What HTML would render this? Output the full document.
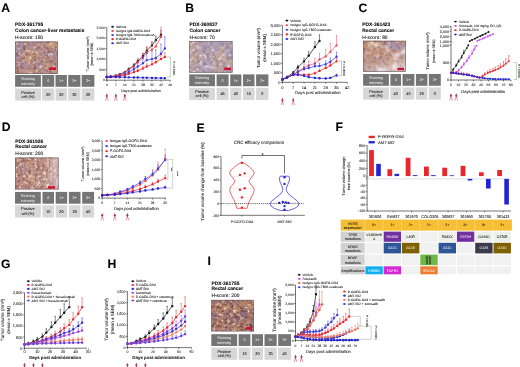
<!DOCTYPE html>
<html><head><meta charset="utf-8"><title>Figure</title>
<style>html,body{margin:0;padding:0;background:#fff;overflow:hidden;} svg{display:block;} .d{stroke:#1a1a1a;stroke-width:0.07px;}</style></head>
<body><svg text-rendering="geometricPrecision" width="520" height="367" viewBox="0 0 520 367" font-family="'Liberation Sans', Arial, sans-serif">
<defs><filter id="ph0_0" x="0" y="0" width="1" height="1" color-interpolation-filters="sRGB"><feTurbulence type="fractalNoise" baseFrequency="0.07" numOctaves="2" seed="3"/><feColorMatrix type="matrix" values="0 0 0 0 0  0 0 0 0 0  0 0 0 0 0  2.6 0 0 0 -1.1"/><feComposite in="SourceGraphic" operator="in"/></filter>
<filter id="ph0_1" x="0" y="0" width="1" height="1" color-interpolation-filters="sRGB"><feTurbulence type="fractalNoise" baseFrequency="0.08" numOctaves="2" seed="4"/><feColorMatrix type="matrix" values="0 0 0 0 0  0 0 0 0 0  0 0 0 0 0  2.6 0 0 0 -1.2"/><feComposite in="SourceGraphic" operator="in"/></filter>
<filter id="ph0_2" x="0" y="0" width="1" height="1" color-interpolation-filters="sRGB"><feTurbulence type="fractalNoise" baseFrequency="0.3" numOctaves="2" seed="8"/><feColorMatrix type="matrix" values="0 0 0 0 0  0 0 0 0 0  0 0 0 0 0  2.4 0 0 0 -1.05"/><feComposite in="SourceGraphic" operator="in"/></filter>
<filter id="ph0_3" x="0" y="0" width="1" height="1" color-interpolation-filters="sRGB"><feTurbulence type="fractalNoise" baseFrequency="0.28" numOctaves="2" seed="5"/><feColorMatrix type="matrix" values="0 0 0 0 0  0 0 0 0 0  0 0 0 0 0  2.8 0 0 0 -1.55"/><feComposite in="SourceGraphic" operator="in"/></filter>
<filter id="ph1_0" x="0" y="0" width="1" height="1" color-interpolation-filters="sRGB"><feTurbulence type="fractalNoise" baseFrequency="0.07" numOctaves="2" seed="11"/><feColorMatrix type="matrix" values="0 0 0 0 0  0 0 0 0 0  0 0 0 0 0  2.6 0 0 0 -1.05"/><feComposite in="SourceGraphic" operator="in"/></filter>
<filter id="ph1_1" x="0" y="0" width="1" height="1" color-interpolation-filters="sRGB"><feTurbulence type="fractalNoise" baseFrequency="0.08" numOctaves="2" seed="17"/><feColorMatrix type="matrix" values="0 0 0 0 0  0 0 0 0 0  0 0 0 0 0  2.6 0 0 0 -1.15"/><feComposite in="SourceGraphic" operator="in"/></filter>
<filter id="ph1_2" x="0" y="0" width="1" height="1" color-interpolation-filters="sRGB"><feTurbulence type="fractalNoise" baseFrequency="0.3" numOctaves="2" seed="13"/><feColorMatrix type="matrix" values="0 0 0 0 0  0 0 0 0 0  0 0 0 0 0  2.4 0 0 0 -1.1"/><feComposite in="SourceGraphic" operator="in"/></filter>
<filter id="ph1_3" x="0" y="0" width="1" height="1" color-interpolation-filters="sRGB"><feTurbulence type="fractalNoise" baseFrequency="0.26" numOctaves="2" seed="19"/><feColorMatrix type="matrix" values="0 0 0 0 0  0 0 0 0 0  0 0 0 0 0  2.8 0 0 0 -1.5"/><feComposite in="SourceGraphic" operator="in"/></filter>
<filter id="ph2_0" x="0" y="0" width="1" height="1" color-interpolation-filters="sRGB"><feTurbulence type="fractalNoise" baseFrequency="0.07" numOctaves="2" seed="23"/><feColorMatrix type="matrix" values="0 0 0 0 0  0 0 0 0 0  0 0 0 0 0  2.4 0 0 0 -1.15"/><feComposite in="SourceGraphic" operator="in"/></filter>
<filter id="ph2_1" x="0" y="0" width="1" height="1" color-interpolation-filters="sRGB"><feTurbulence type="fractalNoise" baseFrequency="0.08" numOctaves="2" seed="29"/><feColorMatrix type="matrix" values="0 0 0 0 0  0 0 0 0 0  0 0 0 0 0  2.6 0 0 0 -1.0"/><feComposite in="SourceGraphic" operator="in"/></filter>
<filter id="ph2_2" x="0" y="0" width="1" height="1" color-interpolation-filters="sRGB"><feTurbulence type="fractalNoise" baseFrequency="0.3" numOctaves="2" seed="27"/><feColorMatrix type="matrix" values="0 0 0 0 0  0 0 0 0 0  0 0 0 0 0  2.4 0 0 0 -1.15"/><feComposite in="SourceGraphic" operator="in"/></filter>
<filter id="ph2_3" x="0" y="0" width="1" height="1" color-interpolation-filters="sRGB"><feTurbulence type="fractalNoise" baseFrequency="0.12" numOctaves="2" seed="31"/><feColorMatrix type="matrix" values="0 0 0 0 0  0 0 0 0 0  0 0 0 0 0  2.8 0 0 0 -1.4"/><feComposite in="SourceGraphic" operator="in"/></filter>
<linearGradient id="pg2" x1="0.2" y1="0" x2="0.6" y2="1"><stop offset="0" stop-color="#fff" stop-opacity="0"/><stop offset="0.6" stop-color="#fff" stop-opacity="0.1"/><stop offset="1" stop-color="#eef0ff" stop-opacity="0.6"/></linearGradient>
<filter id="ph3_0" x="0" y="0" width="1" height="1" color-interpolation-filters="sRGB"><feTurbulence type="fractalNoise" baseFrequency="0.08" numOctaves="2" seed="37"/><feColorMatrix type="matrix" values="0 0 0 0 0  0 0 0 0 0  0 0 0 0 0  2.4 0 0 0 -1.15"/><feComposite in="SourceGraphic" operator="in"/></filter>
<filter id="ph3_1" x="0" y="0" width="1" height="1" color-interpolation-filters="sRGB"><feTurbulence type="fractalNoise" baseFrequency="0.08" numOctaves="2" seed="39"/><feColorMatrix type="matrix" values="0 0 0 0 0  0 0 0 0 0  0 0 0 0 0  2.4 0 0 0 -1.2"/><feComposite in="SourceGraphic" operator="in"/></filter>
<filter id="ph3_2" x="0" y="0" width="1" height="1" color-interpolation-filters="sRGB"><feTurbulence type="fractalNoise" baseFrequency="0.35" numOctaves="2" seed="41"/><feColorMatrix type="matrix" values="0 0 0 0 0  0 0 0 0 0  0 0 0 0 0  2.5 0 0 0 -1.05"/><feComposite in="SourceGraphic" operator="in"/></filter>
<filter id="ph3_3" x="0" y="0" width="1" height="1" color-interpolation-filters="sRGB"><feTurbulence type="fractalNoise" baseFrequency="0.32" numOctaves="2" seed="43"/><feColorMatrix type="matrix" values="0 0 0 0 0  0 0 0 0 0  0 0 0 0 0  2.8 0 0 0 -1.45"/><feComposite in="SourceGraphic" operator="in"/></filter>
<linearGradient id="pg3" x1="0" y1="0" x2="1" y2="0"><stop offset="0" stop-color="#fff" stop-opacity="0"/><stop offset="0.65" stop-color="#fff" stop-opacity="0.05"/><stop offset="1" stop-color="#f4eaf8" stop-opacity="0.5"/></linearGradient>
<filter id="ph4_0" x="0" y="0" width="1" height="1" color-interpolation-filters="sRGB"><feTurbulence type="fractalNoise" baseFrequency="0.08" numOctaves="2" seed="51"/><feColorMatrix type="matrix" values="0 0 0 0 0  0 0 0 0 0  0 0 0 0 0  2.5 0 0 0 -1.1"/><feComposite in="SourceGraphic" operator="in"/></filter>
<filter id="ph4_1" x="0" y="0" width="1" height="1" color-interpolation-filters="sRGB"><feTurbulence type="fractalNoise" baseFrequency="0.09" numOctaves="2" seed="53"/><feColorMatrix type="matrix" values="0 0 0 0 0  0 0 0 0 0  0 0 0 0 0  2.6 0 0 0 -1.15"/><feComposite in="SourceGraphic" operator="in"/></filter>
<filter id="ph4_2" x="0" y="0" width="1" height="1" color-interpolation-filters="sRGB"><feTurbulence type="fractalNoise" baseFrequency="0.32" numOctaves="2" seed="55"/><feColorMatrix type="matrix" values="0 0 0 0 0  0 0 0 0 0  0 0 0 0 0  2.5 0 0 0 -1.1"/><feComposite in="SourceGraphic" operator="in"/></filter>
<filter id="ph4_3" x="0" y="0" width="1" height="1" color-interpolation-filters="sRGB"><feTurbulence type="fractalNoise" baseFrequency="0.3" numOctaves="2" seed="57"/><feColorMatrix type="matrix" values="0 0 0 0 0  0 0 0 0 0  0 0 0 0 0  2.8 0 0 0 -1.5"/><feComposite in="SourceGraphic" operator="in"/></filter></defs>
<rect width="520" height="367" fill="#fff"/>
<text class="d" x="1.20" y="11.80" font-size="12.20" font-weight="bold">A</text>
<text class="d" x="15.10" y="26.30" font-size="4.90" font-weight="bold">PDX-361795</text>
<text class="d" x="15.10" y="31.50" font-size="4.90" font-weight="bold">Colon cancer-liver metastasis</text>
<text class="d" x="15.10" y="38.50" font-size="4.90">H-score: 150</text>
<g><rect x="15" y="41.6" width="43" height="32.4" fill="#b89088"/><rect x="15" y="41.6" width="43" height="32.4" fill="#9c8cb8" filter="url(#ph0_0)"/><rect x="15" y="41.6" width="43" height="32.4" fill="#d0a078" filter="url(#ph0_1)"/><rect x="15" y="41.6" width="43" height="32.4" fill="#8a5a58" filter="url(#ph0_2)"/><rect x="15" y="41.6" width="43" height="32.4" fill="#f2e4e2" filter="url(#ph0_3)"/><rect x="15.35" y="41.95" width="42.3" height="31.7" fill="none" stroke="#6a6068" stroke-width="0.6"/></g>
<rect x="48.80" y="67.40" width="7.40" height="2.60" fill="#cc1030"/>
<rect x="15.10" y="75.00" width="25.80" height="11.80" fill="#757575"/>
<rect x="15.10" y="88.40" width="25.80" height="12.20" fill="#d7d7d7"/>
<text x="28.00" y="79.90" font-size="3.90" text-anchor="middle" fill="#f4f4f4">Staining</text>
<text x="28.00" y="84.70" font-size="3.90" text-anchor="middle" fill="#f4f4f4">intensity</text>
<text class="d" x="28.00" y="93.50" font-size="3.90" text-anchor="middle" fill="#1a1a1a">Positive</text>
<text class="d" x="28.00" y="97.90" font-size="3.90" text-anchor="middle" fill="#1a1a1a">cell (%)</text>
<rect x="42.20" y="75.00" width="12.00" height="11.80" fill="#757575"/>
<rect x="42.20" y="88.40" width="12.00" height="12.20" fill="#d7d7d7"/>
<text x="48.20" y="82.15" font-size="3.80" text-anchor="middle" fill="#f4f4f4">0</text>
<text class="d" x="48.20" y="95.75" font-size="3.80" text-anchor="middle" fill="#1a1a1a">20</text>
<rect x="55.50" y="75.00" width="11.40" height="11.80" fill="#757575"/>
<rect x="55.50" y="88.40" width="11.40" height="12.20" fill="#d7d7d7"/>
<text x="61.20" y="82.15" font-size="3.80" text-anchor="middle" fill="#f4f4f4">1+</text>
<text class="d" x="61.20" y="95.75" font-size="3.80" text-anchor="middle" fill="#1a1a1a">30</text>
<rect x="68.20" y="75.00" width="12.20" height="11.80" fill="#757575"/>
<rect x="68.20" y="88.40" width="12.20" height="12.20" fill="#d7d7d7"/>
<text x="74.30" y="82.15" font-size="3.80" text-anchor="middle" fill="#f4f4f4">2+</text>
<text class="d" x="74.30" y="95.75" font-size="3.80" text-anchor="middle" fill="#1a1a1a">30</text>
<rect x="81.70" y="75.00" width="12.70" height="11.80" fill="#757575"/>
<rect x="81.70" y="88.40" width="12.70" height="12.20" fill="#d7d7d7"/>
<text x="88.05" y="82.15" font-size="3.80" text-anchor="middle" fill="#f4f4f4">3+</text>
<text class="d" x="88.05" y="95.75" font-size="3.80" text-anchor="middle" fill="#1a1a1a">20</text>
<line x1="106.80" y1="80.48" x2="106.80" y2="27.40" stroke="#000" stroke-width="0.55"/>
<line x1="106.52" y1="80.20" x2="170.40" y2="80.20" stroke="#000" stroke-width="0.55"/>
<line x1="105.30" y1="80.20" x2="106.80" y2="80.20" stroke="#000" stroke-width="0.45"/>
<text class="d" x="104.80" y="81.39" font-size="3.30" text-anchor="end" fill="#1a1a1a">0</text>
<line x1="105.30" y1="69.64" x2="106.80" y2="69.64" stroke="#000" stroke-width="0.45"/>
<text class="d" x="104.80" y="70.83" font-size="3.30" text-anchor="end" fill="#1a1a1a">500</text>
<line x1="105.30" y1="59.08" x2="106.80" y2="59.08" stroke="#000" stroke-width="0.45"/>
<text class="d" x="104.80" y="60.27" font-size="3.30" text-anchor="end" fill="#1a1a1a">1,000</text>
<line x1="105.30" y1="48.52" x2="106.80" y2="48.52" stroke="#000" stroke-width="0.45"/>
<text class="d" x="104.80" y="49.71" font-size="3.30" text-anchor="end" fill="#1a1a1a">1,500</text>
<line x1="105.30" y1="37.96" x2="106.80" y2="37.96" stroke="#000" stroke-width="0.45"/>
<text class="d" x="104.80" y="39.15" font-size="3.30" text-anchor="end" fill="#1a1a1a">2,000</text>
<line x1="105.30" y1="27.40" x2="106.80" y2="27.40" stroke="#000" stroke-width="0.45"/>
<text class="d" x="104.80" y="28.59" font-size="3.30" text-anchor="end" fill="#1a1a1a">2,500</text>
<line x1="106.80" y1="80.20" x2="106.80" y2="81.70" stroke="#000" stroke-width="0.45"/>
<text class="d" x="106.80" y="85.60" font-size="3.30" text-anchor="middle" fill="#1a1a1a">0</text>
<line x1="115.83" y1="80.20" x2="115.83" y2="81.70" stroke="#000" stroke-width="0.45"/>
<text class="d" x="115.83" y="85.60" font-size="3.30" text-anchor="middle" fill="#1a1a1a">7</text>
<line x1="124.86" y1="80.20" x2="124.86" y2="81.70" stroke="#000" stroke-width="0.45"/>
<text class="d" x="124.86" y="85.60" font-size="3.30" text-anchor="middle" fill="#1a1a1a">14</text>
<line x1="133.89" y1="80.20" x2="133.89" y2="81.70" stroke="#000" stroke-width="0.45"/>
<text class="d" x="133.89" y="85.60" font-size="3.30" text-anchor="middle" fill="#1a1a1a">21</text>
<line x1="142.92" y1="80.20" x2="142.92" y2="81.70" stroke="#000" stroke-width="0.45"/>
<text class="d" x="142.92" y="85.60" font-size="3.30" text-anchor="middle" fill="#1a1a1a">28</text>
<line x1="151.95" y1="80.20" x2="151.95" y2="81.70" stroke="#000" stroke-width="0.45"/>
<text class="d" x="151.95" y="85.60" font-size="3.30" text-anchor="middle" fill="#1a1a1a">35</text>
<line x1="160.98" y1="80.20" x2="160.98" y2="81.70" stroke="#000" stroke-width="0.45"/>
<text class="d" x="160.98" y="85.60" font-size="3.30" text-anchor="middle" fill="#1a1a1a">42</text>
<line x1="170.01" y1="80.20" x2="170.01" y2="81.70" stroke="#000" stroke-width="0.45"/>
<text class="d" x="170.01" y="85.60" font-size="3.30" text-anchor="middle" fill="#1a1a1a">49</text>
<path d="M110.67,76.61V76.25M109.92,76.25h1.5M115.83,75.76V75.32M115.08,75.32h1.5M119.70,74.29V73.70M118.95,73.70h1.5M124.86,72.17V71.37M124.11,71.37h1.5M128.73,69.22V68.12M127.98,68.12h1.5M133.89,65.42V63.94M133.14,63.94h1.5M137.76,61.19V59.29M137.01,59.29h1.5M142.92,55.91V53.48M142.17,53.48h1.5M146.79,50.63V47.68M146.04,47.68h1.5M151.95,45.35V41.87M151.20,41.87h1.5M155.82,40.07V36.06M155.07,36.06h1.5M160.98,34.79V30.25M160.23,30.25h1.5" stroke="#151515" stroke-width="0.5" fill="none"/>
<polyline points="106.80,77.03 110.67,76.61 115.83,75.76 119.70,74.29 124.86,72.17 128.73,69.22 133.89,65.42 137.76,61.19 142.92,55.91 146.79,50.63 151.95,45.35 155.82,40.07 160.98,34.79" fill="none" stroke="#151515" stroke-width="0.72"/>
<path d="M105.60,77.03a1.2,1.2 0 1,0 2.4,0a1.2,1.2 0 1,0 -2.4,0M109.47,76.61a1.2,1.2 0 1,0 2.4,0a1.2,1.2 0 1,0 -2.4,0M114.63,75.76a1.2,1.2 0 1,0 2.4,0a1.2,1.2 0 1,0 -2.4,0M118.50,74.29a1.2,1.2 0 1,0 2.4,0a1.2,1.2 0 1,0 -2.4,0M123.66,72.17a1.2,1.2 0 1,0 2.4,0a1.2,1.2 0 1,0 -2.4,0M127.53,69.22a1.2,1.2 0 1,0 2.4,0a1.2,1.2 0 1,0 -2.4,0M132.69,65.42a1.2,1.2 0 1,0 2.4,0a1.2,1.2 0 1,0 -2.4,0M136.56,61.19a1.2,1.2 0 1,0 2.4,0a1.2,1.2 0 1,0 -2.4,0M141.72,55.91a1.2,1.2 0 1,0 2.4,0a1.2,1.2 0 1,0 -2.4,0M145.59,50.63a1.2,1.2 0 1,0 2.4,0a1.2,1.2 0 1,0 -2.4,0M150.75,45.35a1.2,1.2 0 1,0 2.4,0a1.2,1.2 0 1,0 -2.4,0M154.62,40.07a1.2,1.2 0 1,0 2.4,0a1.2,1.2 0 1,0 -2.4,0M159.78,34.79a1.2,1.2 0 1,0 2.4,0a1.2,1.2 0 1,0 -2.4,0" fill="#151515"/>
<path d="M110.67,76.61V75.80M109.92,75.80h1.5M115.83,75.98V75.03M115.08,75.03h1.5M119.70,74.71V73.47M118.95,73.47h1.5M124.86,72.81V71.14M124.11,71.14h1.5M128.73,70.06V67.78M127.98,67.78h1.5M133.89,66.47V63.38M133.14,63.38h1.5M137.76,62.25V58.21M137.01,58.21h1.5M142.92,58.02V53.03M142.17,53.03h1.5M146.79,52.74V46.57M146.04,46.57h1.5M151.95,49.58V42.69M151.20,42.69h1.5M155.82,46.41V38.80M155.07,38.80h1.5M160.98,36.90V27.16M160.23,27.16h1.5" stroke="#ee4a55" stroke-width="0.5" fill="none"/>
<polyline points="106.80,77.03 110.67,76.61 115.83,75.98 119.70,74.71 124.86,72.81 128.73,70.06 133.89,66.47 137.76,62.25 142.92,58.02 146.79,52.74 151.95,49.58 155.82,46.41 160.98,36.90" fill="none" stroke="#ee4a55" stroke-width="0.72"/>
<path d="M105.60,77.03a1.2,1.2 0 1,0 2.4,0a1.2,1.2 0 1,0 -2.4,0M109.47,76.61a1.2,1.2 0 1,0 2.4,0a1.2,1.2 0 1,0 -2.4,0M114.63,75.98a1.2,1.2 0 1,0 2.4,0a1.2,1.2 0 1,0 -2.4,0M118.50,74.71a1.2,1.2 0 1,0 2.4,0a1.2,1.2 0 1,0 -2.4,0M123.66,72.81a1.2,1.2 0 1,0 2.4,0a1.2,1.2 0 1,0 -2.4,0M127.53,70.06a1.2,1.2 0 1,0 2.4,0a1.2,1.2 0 1,0 -2.4,0M132.69,66.47a1.2,1.2 0 1,0 2.4,0a1.2,1.2 0 1,0 -2.4,0M136.56,62.25a1.2,1.2 0 1,0 2.4,0a1.2,1.2 0 1,0 -2.4,0M141.72,58.02a1.2,1.2 0 1,0 2.4,0a1.2,1.2 0 1,0 -2.4,0M145.59,52.74a1.2,1.2 0 1,0 2.4,0a1.2,1.2 0 1,0 -2.4,0M150.75,49.58a1.2,1.2 0 1,0 2.4,0a1.2,1.2 0 1,0 -2.4,0M154.62,46.41a1.2,1.2 0 1,0 2.4,0a1.2,1.2 0 1,0 -2.4,0M159.78,36.90a1.2,1.2 0 1,0 2.4,0a1.2,1.2 0 1,0 -2.4,0" fill="#ee4a55"/>
<path d="M110.67,76.82V75.55M109.92,75.55h1.5M115.83,76.40V74.97M115.08,74.97h1.5M119.70,75.55V73.81M118.95,73.81h1.5M124.86,74.29V72.07M124.11,72.07h1.5M128.73,72.17V69.16M127.98,69.16h1.5M133.89,69.22V65.10M133.14,65.10h1.5M137.76,66.47V61.32M137.01,61.32h1.5M142.92,63.30V56.97M142.17,56.97h1.5M146.79,60.14V52.61M146.04,52.61h1.5M151.95,59.08V51.16M151.20,51.16h1.5M155.82,58.02V49.71M155.07,49.71h1.5M160.98,53.80V43.90M160.23,43.90h1.5M164.85,48.52V36.64M164.10,36.64h1.5" stroke="#3b3be6" stroke-width="0.5" fill="none"/>
<polyline points="106.80,77.03 110.67,76.82 115.83,76.40 119.70,75.55 124.86,74.29 128.73,72.17 133.89,69.22 137.76,66.47 142.92,63.30 146.79,60.14 151.95,59.08 155.82,58.02 160.98,53.80 164.85,48.52" fill="none" stroke="#3b3be6" stroke-width="0.72"/>
<path d="M105.60,77.03a1.2,1.2 0 1,0 2.4,0a1.2,1.2 0 1,0 -2.4,0M109.47,76.82a1.2,1.2 0 1,0 2.4,0a1.2,1.2 0 1,0 -2.4,0M114.63,76.40a1.2,1.2 0 1,0 2.4,0a1.2,1.2 0 1,0 -2.4,0M118.50,75.55a1.2,1.2 0 1,0 2.4,0a1.2,1.2 0 1,0 -2.4,0M123.66,74.29a1.2,1.2 0 1,0 2.4,0a1.2,1.2 0 1,0 -2.4,0M127.53,72.17a1.2,1.2 0 1,0 2.4,0a1.2,1.2 0 1,0 -2.4,0M132.69,69.22a1.2,1.2 0 1,0 2.4,0a1.2,1.2 0 1,0 -2.4,0M136.56,66.47a1.2,1.2 0 1,0 2.4,0a1.2,1.2 0 1,0 -2.4,0M141.72,63.30a1.2,1.2 0 1,0 2.4,0a1.2,1.2 0 1,0 -2.4,0M145.59,60.14a1.2,1.2 0 1,0 2.4,0a1.2,1.2 0 1,0 -2.4,0M150.75,59.08a1.2,1.2 0 1,0 2.4,0a1.2,1.2 0 1,0 -2.4,0M154.62,58.02a1.2,1.2 0 1,0 2.4,0a1.2,1.2 0 1,0 -2.4,0M159.78,53.80a1.2,1.2 0 1,0 2.4,0a1.2,1.2 0 1,0 -2.4,0M163.65,48.52a1.2,1.2 0 1,0 2.4,0a1.2,1.2 0 1,0 -2.4,0" fill="#3b3be6"/>
<path d="M110.67,76.82V76.19M109.92,76.19h1.5M115.83,76.50V75.81M115.08,75.81h1.5M119.70,75.98V75.18M118.95,75.18h1.5M124.86,75.13V74.18M124.11,74.18h1.5M128.73,73.86V72.68M127.98,72.68h1.5M133.89,72.17V70.67M133.14,70.67h1.5M137.76,70.70V68.91M137.01,68.91h1.5M142.92,68.58V66.41M142.17,66.41h1.5M146.79,66.47V63.90M146.04,63.90h1.5M151.95,64.36V61.39M151.20,61.39h1.5M155.82,62.25V58.88M155.07,58.88h1.5M160.98,59.08V55.12M160.23,55.12h1.5M164.85,56.97V52.61M164.10,52.61h1.5" stroke="#e8262c" stroke-width="0.5" fill="none"/>
<polyline points="106.80,77.03 110.67,76.82 115.83,76.50 119.70,75.98 124.86,75.13 128.73,73.86 133.89,72.17 137.76,70.70 142.92,68.58 146.79,66.47 151.95,64.36 155.82,62.25 160.98,59.08 164.85,56.97" fill="none" stroke="#e8262c" stroke-width="0.72"/>
<path d="M105.60,77.03a1.2,1.2 0 1,0 2.4,0a1.2,1.2 0 1,0 -2.4,0M109.47,76.82a1.2,1.2 0 1,0 2.4,0a1.2,1.2 0 1,0 -2.4,0M114.63,76.50a1.2,1.2 0 1,0 2.4,0a1.2,1.2 0 1,0 -2.4,0M118.50,75.98a1.2,1.2 0 1,0 2.4,0a1.2,1.2 0 1,0 -2.4,0M123.66,75.13a1.2,1.2 0 1,0 2.4,0a1.2,1.2 0 1,0 -2.4,0M127.53,73.86a1.2,1.2 0 1,0 2.4,0a1.2,1.2 0 1,0 -2.4,0M132.69,72.17a1.2,1.2 0 1,0 2.4,0a1.2,1.2 0 1,0 -2.4,0M136.56,70.70a1.2,1.2 0 1,0 2.4,0a1.2,1.2 0 1,0 -2.4,0M141.72,68.58a1.2,1.2 0 1,0 2.4,0a1.2,1.2 0 1,0 -2.4,0M145.59,66.47a1.2,1.2 0 1,0 2.4,0a1.2,1.2 0 1,0 -2.4,0M150.75,64.36a1.2,1.2 0 1,0 2.4,0a1.2,1.2 0 1,0 -2.4,0M154.62,62.25a1.2,1.2 0 1,0 2.4,0a1.2,1.2 0 1,0 -2.4,0M159.78,59.08a1.2,1.2 0 1,0 2.4,0a1.2,1.2 0 1,0 -2.4,0M163.65,56.97a1.2,1.2 0 1,0 2.4,0a1.2,1.2 0 1,0 -2.4,0" fill="#e8262c"/>
<path d="M110.67,77.03V76.83M109.92,76.83h1.5M115.83,77.03V76.83M115.08,76.83h1.5M119.70,77.14V76.95M118.95,76.95h1.5M124.86,77.24V77.06M124.11,77.06h1.5M128.73,77.35V77.17M127.98,77.17h1.5M133.89,77.45V77.28M133.14,77.28h1.5M137.76,77.56V77.39M137.01,77.39h1.5M142.92,77.67V77.51M142.17,77.51h1.5M146.79,77.77V77.62M146.04,77.62h1.5M151.95,77.88V77.73M151.20,77.73h1.5M155.82,77.98V77.84M155.07,77.84h1.5M160.98,78.09V77.96M160.23,77.96h1.5M164.85,78.19V78.07M164.10,78.07h1.5" stroke="#2424d6" stroke-width="0.5" fill="none"/>
<polyline points="106.80,77.03 110.67,77.03 115.83,77.03 119.70,77.14 124.86,77.24 128.73,77.35 133.89,77.45 137.76,77.56 142.92,77.67 146.79,77.77 151.95,77.88 155.82,77.98 160.98,78.09 164.85,78.19" fill="none" stroke="#2424d6" stroke-width="0.72"/>
<path d="M105.60,77.03a1.2,1.2 0 1,0 2.4,0a1.2,1.2 0 1,0 -2.4,0M109.47,77.03a1.2,1.2 0 1,0 2.4,0a1.2,1.2 0 1,0 -2.4,0M114.63,77.03a1.2,1.2 0 1,0 2.4,0a1.2,1.2 0 1,0 -2.4,0M118.50,77.14a1.2,1.2 0 1,0 2.4,0a1.2,1.2 0 1,0 -2.4,0M123.66,77.24a1.2,1.2 0 1,0 2.4,0a1.2,1.2 0 1,0 -2.4,0M127.53,77.35a1.2,1.2 0 1,0 2.4,0a1.2,1.2 0 1,0 -2.4,0M132.69,77.45a1.2,1.2 0 1,0 2.4,0a1.2,1.2 0 1,0 -2.4,0M136.56,77.56a1.2,1.2 0 1,0 2.4,0a1.2,1.2 0 1,0 -2.4,0M141.72,77.67a1.2,1.2 0 1,0 2.4,0a1.2,1.2 0 1,0 -2.4,0M145.59,77.77a1.2,1.2 0 1,0 2.4,0a1.2,1.2 0 1,0 -2.4,0M150.75,77.88a1.2,1.2 0 1,0 2.4,0a1.2,1.2 0 1,0 -2.4,0M154.62,77.98a1.2,1.2 0 1,0 2.4,0a1.2,1.2 0 1,0 -2.4,0M159.78,78.09a1.2,1.2 0 1,0 2.4,0a1.2,1.2 0 1,0 -2.4,0M163.65,78.19a1.2,1.2 0 1,0 2.4,0a1.2,1.2 0 1,0 -2.4,0" fill="#2424d6"/>
<text class="d" x="141.10" y="91.90" font-size="3.65" text-anchor="middle" fill="#1a1a1a">Days post administration</text>
<text class="d" x="88.54" y="54.00" font-size="3.75" text-anchor="middle" fill="#1a1a1a" transform="rotate(-90 88.54 54.00)">Tumor volume (mm³)</text>
<text class="d" x="92.99" y="54.00" font-size="3.60" text-anchor="middle" fill="#1a1a1a" transform="rotate(-90 92.99 54.00)">(mean ± SEM)</text>
<line x1="111.00" y1="26.80" x2="114.20" y2="26.80" stroke="#151515" stroke-width="0.6"/>
<circle cx="112.60" cy="26.80" r="1.05" fill="#151515"/>
<text class="d" x="115.90" y="27.95" font-size="3.20" fill="#1a1a1a">Vehicle</text>
<line x1="111.00" y1="30.92" x2="114.20" y2="30.92" stroke="#ee4a55" stroke-width="0.6"/>
<circle cx="112.60" cy="30.92" r="1.05" fill="#ee4a55"/>
<text class="d" x="115.90" y="32.07" font-size="3.20" fill="#1a1a1a">Isotype IgG-GGFG-DXd</text>
<line x1="111.00" y1="35.04" x2="114.20" y2="35.04" stroke="#3b3be6" stroke-width="0.6"/>
<circle cx="112.60" cy="35.04" r="1.05" fill="#3b3be6"/>
<text class="d" x="115.90" y="36.19" font-size="3.20" fill="#1a1a1a">Isotype IgG-T800-exatecan</text>
<line x1="111.00" y1="39.16" x2="114.20" y2="39.16" stroke="#e8262c" stroke-width="0.6"/>
<circle cx="112.60" cy="39.16" r="1.05" fill="#e8262c"/>
<text class="d" x="115.90" y="40.31" font-size="3.20" fill="#1a1a1a">P-GGFG-DXd</text>
<line x1="111.00" y1="43.28" x2="114.20" y2="43.28" stroke="#2424d6" stroke-width="0.6"/>
<circle cx="112.60" cy="43.28" r="1.05" fill="#2424d6"/>
<text class="d" x="115.90" y="44.43" font-size="3.20" fill="#1a1a1a">AMT-562</text>
<path d="M106.80,93.40 L105.50,96.40 L108.10,96.40 Z" stroke="none" stroke-width="0.5" fill="#a8304a"/>
<line x1="106.80" y1="96.20" x2="106.80" y2="98.00" stroke="#a8304a" stroke-width="1.0"/>
<path d="M106.30,97.80 L105.50,100.80 M107.30,97.80 L108.10,100.80" stroke="#e87a90" stroke-width="0.8" fill="none"/>
<path d="M115.83,93.40 L114.53,96.40 L117.13,96.40 Z" stroke="none" stroke-width="0.5" fill="#a8304a"/>
<line x1="115.83" y1="96.20" x2="115.83" y2="98.00" stroke="#a8304a" stroke-width="1.0"/>
<path d="M115.33,97.80 L114.53,100.80 M116.33,97.80 L117.13,100.80" stroke="#e87a90" stroke-width="0.8" fill="none"/>
<path d="M124.86,93.40 L123.56,96.40 L126.16,96.40 Z" stroke="none" stroke-width="0.5" fill="#a8304a"/>
<line x1="124.86" y1="96.20" x2="124.86" y2="98.00" stroke="#a8304a" stroke-width="1.0"/>
<path d="M124.36,97.80 L123.56,100.80 M125.36,97.80 L126.16,100.80" stroke="#e87a90" stroke-width="0.8" fill="none"/>
<polyline points="166.30,57.00 170.40,57.00 170.40,77.00 166.30,77.00" fill="none" stroke="#7a9a7a" stroke-width="0.45"/>
<text class="d" x="172.81" y="68.50" font-size="3.00" text-anchor="middle" fill="#1a1a1a" transform="rotate(90 172.81 68.50)">P &lt; 0.0001</text>
<text class="d" x="185.20" y="11.80" font-size="12.20" font-weight="bold">B</text>
<text class="d" x="189.40" y="26.30" font-size="4.90" font-weight="bold">PDX-360837</text>
<text class="d" x="189.40" y="31.50" font-size="4.90" font-weight="bold">Colon cancer</text>
<text class="d" x="189.40" y="38.50" font-size="4.90">H-score: 70</text>
<g><rect x="189.2" y="41.2" width="43.3" height="31.4" fill="#b8a4b2"/><rect x="189.2" y="41.2" width="43.3" height="31.4" fill="#a496bc" filter="url(#ph1_0)"/><rect x="189.2" y="41.2" width="43.3" height="31.4" fill="#ccac8c" filter="url(#ph1_1)"/><rect x="189.2" y="41.2" width="43.3" height="31.4" fill="#8c7888" filter="url(#ph1_2)"/><rect x="189.2" y="41.2" width="43.3" height="31.4" fill="#f4eef2" filter="url(#ph1_3)"/><rect x="189.54999999999998" y="41.550000000000004" width="42.599999999999994" height="30.7" fill="none" stroke="#6a6068" stroke-width="0.6"/></g>
<rect x="224.20" y="67.60" width="6.80" height="2.50" fill="#cc1030"/>
<rect x="189.20" y="74.40" width="25.80" height="11.80" fill="#757575"/>
<rect x="189.20" y="87.80" width="25.80" height="12.20" fill="#d7d7d7"/>
<text x="202.10" y="79.30" font-size="3.90" text-anchor="middle" fill="#f4f4f4">Staining</text>
<text x="202.10" y="84.10" font-size="3.90" text-anchor="middle" fill="#f4f4f4">intensity</text>
<text class="d" x="202.10" y="92.90" font-size="3.90" text-anchor="middle" fill="#1a1a1a">Positive</text>
<text class="d" x="202.10" y="97.30" font-size="3.90" text-anchor="middle" fill="#1a1a1a">cell (%)</text>
<rect x="216.60" y="74.40" width="12.00" height="11.80" fill="#757575"/>
<rect x="216.60" y="87.80" width="12.00" height="12.20" fill="#d7d7d7"/>
<text x="222.60" y="81.55" font-size="3.80" text-anchor="middle" fill="#f4f4f4">0</text>
<text class="d" x="222.60" y="95.15" font-size="3.80" text-anchor="middle" fill="#1a1a1a">45</text>
<rect x="230.20" y="74.40" width="11.20" height="11.80" fill="#757575"/>
<rect x="230.20" y="87.80" width="11.20" height="12.20" fill="#d7d7d7"/>
<text x="235.80" y="81.55" font-size="3.80" text-anchor="middle" fill="#f4f4f4">1+</text>
<text class="d" x="235.80" y="95.15" font-size="3.80" text-anchor="middle" fill="#1a1a1a">40</text>
<rect x="243.00" y="74.40" width="11.50" height="11.80" fill="#757575"/>
<rect x="243.00" y="87.80" width="11.50" height="12.20" fill="#d7d7d7"/>
<text x="248.75" y="81.55" font-size="3.80" text-anchor="middle" fill="#f4f4f4">2+</text>
<text class="d" x="248.75" y="95.15" font-size="3.80" text-anchor="middle" fill="#1a1a1a">15</text>
<rect x="256.10" y="74.40" width="12.30" height="11.80" fill="#757575"/>
<rect x="256.10" y="87.80" width="12.30" height="12.20" fill="#d7d7d7"/>
<text x="262.25" y="81.55" font-size="3.80" text-anchor="middle" fill="#f4f4f4">3+</text>
<text class="d" x="262.25" y="95.15" font-size="3.80" text-anchor="middle" fill="#1a1a1a">0</text>
<line x1="282.40" y1="82.58" x2="282.40" y2="25.21" stroke="#000" stroke-width="0.55"/>
<line x1="282.12" y1="82.30" x2="347.40" y2="82.30" stroke="#000" stroke-width="0.55"/>
<line x1="280.90" y1="82.30" x2="282.40" y2="82.30" stroke="#000" stroke-width="0.45"/>
<text class="d" x="280.40" y="83.74" font-size="4.00" text-anchor="end" fill="#1a1a1a">0</text>
<line x1="280.90" y1="72.78" x2="282.40" y2="72.78" stroke="#000" stroke-width="0.45"/>
<text class="d" x="280.40" y="74.22" font-size="4.00" text-anchor="end" fill="#1a1a1a">500</text>
<line x1="280.90" y1="63.27" x2="282.40" y2="63.27" stroke="#000" stroke-width="0.45"/>
<text class="d" x="280.40" y="64.71" font-size="4.00" text-anchor="end" fill="#1a1a1a">1,000</text>
<line x1="280.90" y1="53.75" x2="282.40" y2="53.75" stroke="#000" stroke-width="0.45"/>
<text class="d" x="280.40" y="55.19" font-size="4.00" text-anchor="end" fill="#1a1a1a">1,500</text>
<line x1="280.90" y1="44.24" x2="282.40" y2="44.24" stroke="#000" stroke-width="0.45"/>
<text class="d" x="280.40" y="45.68" font-size="4.00" text-anchor="end" fill="#1a1a1a">2,000</text>
<line x1="280.90" y1="34.73" x2="282.40" y2="34.73" stroke="#000" stroke-width="0.45"/>
<text class="d" x="280.40" y="36.16" font-size="4.00" text-anchor="end" fill="#1a1a1a">2,500</text>
<line x1="280.90" y1="25.21" x2="282.40" y2="25.21" stroke="#000" stroke-width="0.45"/>
<text class="d" x="280.40" y="26.65" font-size="4.00" text-anchor="end" fill="#1a1a1a">3,000</text>
<line x1="282.40" y1="82.30" x2="282.40" y2="83.80" stroke="#000" stroke-width="0.45"/>
<text class="d" x="282.40" y="89.20" font-size="4.00" text-anchor="middle" fill="#1a1a1a">0</text>
<line x1="293.22" y1="82.30" x2="293.22" y2="83.80" stroke="#000" stroke-width="0.45"/>
<text class="d" x="293.22" y="89.20" font-size="4.00" text-anchor="middle" fill="#1a1a1a">7</text>
<line x1="304.04" y1="82.30" x2="304.04" y2="83.80" stroke="#000" stroke-width="0.45"/>
<text class="d" x="304.04" y="89.20" font-size="4.00" text-anchor="middle" fill="#1a1a1a">14</text>
<line x1="314.87" y1="82.30" x2="314.87" y2="83.80" stroke="#000" stroke-width="0.45"/>
<text class="d" x="314.87" y="89.20" font-size="4.00" text-anchor="middle" fill="#1a1a1a">21</text>
<line x1="325.69" y1="82.30" x2="325.69" y2="83.80" stroke="#000" stroke-width="0.45"/>
<text class="d" x="325.69" y="89.20" font-size="4.00" text-anchor="middle" fill="#1a1a1a">28</text>
<line x1="336.51" y1="82.30" x2="336.51" y2="83.80" stroke="#000" stroke-width="0.45"/>
<text class="d" x="336.51" y="89.20" font-size="4.00" text-anchor="middle" fill="#1a1a1a">35</text>
<line x1="347.33" y1="82.30" x2="347.33" y2="83.80" stroke="#000" stroke-width="0.45"/>
<text class="d" x="347.33" y="89.20" font-size="4.00" text-anchor="middle" fill="#1a1a1a">42</text>
<path d="M287.04,76.97V76.17M286.29,76.17h1.5M293.22,72.78V71.36M292.47,71.36h1.5M297.86,67.46V65.23M297.11,65.23h1.5M304.04,61.37V58.23M303.29,58.23h1.5M308.68,55.66V51.66M307.93,51.66h1.5M314.87,47.09V41.81M314.12,41.81h1.5M319.50,41.00V34.81M318.75,34.81h1.5" stroke="#151515" stroke-width="0.5" fill="none"/>
<polyline points="282.40,79.45 287.04,76.97 293.22,72.78 297.86,67.46 304.04,61.37 308.68,55.66 314.87,47.09 319.50,41.00" fill="none" stroke="#151515" stroke-width="0.72"/>
<path d="M281.20,79.45a1.2,1.2 0 1,0 2.4,0a1.2,1.2 0 1,0 -2.4,0M285.84,76.97a1.2,1.2 0 1,0 2.4,0a1.2,1.2 0 1,0 -2.4,0M292.02,72.78a1.2,1.2 0 1,0 2.4,0a1.2,1.2 0 1,0 -2.4,0M296.66,67.46a1.2,1.2 0 1,0 2.4,0a1.2,1.2 0 1,0 -2.4,0M302.84,61.37a1.2,1.2 0 1,0 2.4,0a1.2,1.2 0 1,0 -2.4,0M307.48,55.66a1.2,1.2 0 1,0 2.4,0a1.2,1.2 0 1,0 -2.4,0M313.67,47.09a1.2,1.2 0 1,0 2.4,0a1.2,1.2 0 1,0 -2.4,0M318.30,41.00a1.2,1.2 0 1,0 2.4,0a1.2,1.2 0 1,0 -2.4,0" fill="#151515"/>
<path d="M287.04,77.54V76.23M286.29,76.23h1.5M293.22,74.69V72.59M292.47,72.59h1.5M297.86,71.45V68.47M297.11,68.47h1.5M304.04,67.84V63.86M303.29,63.86h1.5M308.68,65.55V60.95M307.93,60.95h1.5M314.87,63.46V58.28M314.12,58.28h1.5M319.50,59.46V53.18M318.75,53.18h1.5M325.69,56.42V49.30M324.94,49.30h1.5M330.33,51.85V43.48M329.58,43.48h1.5M336.51,45.38V35.23M335.76,35.23h1.5" stroke="#ee4a55" stroke-width="0.5" fill="none"/>
<polyline points="282.40,79.45 287.04,77.54 293.22,74.69 297.86,71.45 304.04,67.84 308.68,65.55 314.87,63.46 319.50,59.46 325.69,56.42 330.33,51.85 336.51,45.38" fill="none" stroke="#ee4a55" stroke-width="0.72"/>
<path d="M281.20,79.45a1.2,1.2 0 1,0 2.4,0a1.2,1.2 0 1,0 -2.4,0M285.84,77.54a1.2,1.2 0 1,0 2.4,0a1.2,1.2 0 1,0 -2.4,0M292.02,74.69a1.2,1.2 0 1,0 2.4,0a1.2,1.2 0 1,0 -2.4,0M296.66,71.45a1.2,1.2 0 1,0 2.4,0a1.2,1.2 0 1,0 -2.4,0M302.84,67.84a1.2,1.2 0 1,0 2.4,0a1.2,1.2 0 1,0 -2.4,0M307.48,65.55a1.2,1.2 0 1,0 2.4,0a1.2,1.2 0 1,0 -2.4,0M313.67,63.46a1.2,1.2 0 1,0 2.4,0a1.2,1.2 0 1,0 -2.4,0M318.30,59.46a1.2,1.2 0 1,0 2.4,0a1.2,1.2 0 1,0 -2.4,0M324.49,56.42a1.2,1.2 0 1,0 2.4,0a1.2,1.2 0 1,0 -2.4,0M329.13,51.85a1.2,1.2 0 1,0 2.4,0a1.2,1.2 0 1,0 -2.4,0M335.31,45.38a1.2,1.2 0 1,0 2.4,0a1.2,1.2 0 1,0 -2.4,0" fill="#ee4a55"/>
<path d="M287.04,77.54V76.65M286.29,76.65h1.5M293.22,74.69V73.26M292.47,73.26h1.5M297.86,71.83V69.87M297.11,69.87h1.5M304.04,69.17V66.71M303.29,66.71h1.5M308.68,68.03V65.35M307.93,65.35h1.5M314.87,66.31V63.32M314.12,63.32h1.5M319.50,65.93V62.87M318.75,62.87h1.5M325.69,64.22V60.83M324.94,60.83h1.5M330.33,61.75V57.89M329.58,57.89h1.5M336.51,56.80V52.02M335.76,52.02h1.5" stroke="#3b3be6" stroke-width="0.5" fill="none"/>
<polyline points="282.40,79.45 287.04,77.54 293.22,74.69 297.86,71.83 304.04,69.17 308.68,68.03 314.87,66.31 319.50,65.93 325.69,64.22 330.33,61.75 336.51,56.80" fill="none" stroke="#3b3be6" stroke-width="0.72"/>
<path d="M281.20,79.45a1.2,1.2 0 1,0 2.4,0a1.2,1.2 0 1,0 -2.4,0M285.84,77.54a1.2,1.2 0 1,0 2.4,0a1.2,1.2 0 1,0 -2.4,0M292.02,74.69a1.2,1.2 0 1,0 2.4,0a1.2,1.2 0 1,0 -2.4,0M296.66,71.83a1.2,1.2 0 1,0 2.4,0a1.2,1.2 0 1,0 -2.4,0M302.84,69.17a1.2,1.2 0 1,0 2.4,0a1.2,1.2 0 1,0 -2.4,0M307.48,68.03a1.2,1.2 0 1,0 2.4,0a1.2,1.2 0 1,0 -2.4,0M313.67,66.31a1.2,1.2 0 1,0 2.4,0a1.2,1.2 0 1,0 -2.4,0M318.30,65.93a1.2,1.2 0 1,0 2.4,0a1.2,1.2 0 1,0 -2.4,0M324.49,64.22a1.2,1.2 0 1,0 2.4,0a1.2,1.2 0 1,0 -2.4,0M329.13,61.75a1.2,1.2 0 1,0 2.4,0a1.2,1.2 0 1,0 -2.4,0M335.31,56.80a1.2,1.2 0 1,0 2.4,0a1.2,1.2 0 1,0 -2.4,0" fill="#3b3be6"/>
<path d="M287.04,77.54V76.83M286.29,76.83h1.5M293.22,74.69V73.55M292.47,73.55h1.5M297.86,74.69V73.55M297.11,73.55h1.5M304.04,74.88V73.77M303.29,73.77h1.5M308.68,74.88V73.77M307.93,73.77h1.5M314.87,73.36V72.01M314.12,72.01h1.5M319.50,70.88V69.17M318.75,69.17h1.5M325.69,68.03V65.89M324.94,65.89h1.5M330.33,65.55V63.04M329.58,63.04h1.5M336.51,61.37V58.23M335.76,58.23h1.5" stroke="#e8262c" stroke-width="0.5" fill="none"/>
<polyline points="282.40,79.45 287.04,77.54 293.22,74.69 297.86,74.69 304.04,74.88 308.68,74.88 314.87,73.36 319.50,70.88 325.69,68.03 330.33,65.55 336.51,61.37" fill="none" stroke="#e8262c" stroke-width="0.72"/>
<path d="M281.20,79.45a1.2,1.2 0 1,0 2.4,0a1.2,1.2 0 1,0 -2.4,0M285.84,77.54a1.2,1.2 0 1,0 2.4,0a1.2,1.2 0 1,0 -2.4,0M292.02,74.69a1.2,1.2 0 1,0 2.4,0a1.2,1.2 0 1,0 -2.4,0M296.66,74.69a1.2,1.2 0 1,0 2.4,0a1.2,1.2 0 1,0 -2.4,0M302.84,74.88a1.2,1.2 0 1,0 2.4,0a1.2,1.2 0 1,0 -2.4,0M307.48,74.88a1.2,1.2 0 1,0 2.4,0a1.2,1.2 0 1,0 -2.4,0M313.67,73.36a1.2,1.2 0 1,0 2.4,0a1.2,1.2 0 1,0 -2.4,0M318.30,70.88a1.2,1.2 0 1,0 2.4,0a1.2,1.2 0 1,0 -2.4,0M324.49,68.03a1.2,1.2 0 1,0 2.4,0a1.2,1.2 0 1,0 -2.4,0M329.13,65.55a1.2,1.2 0 1,0 2.4,0a1.2,1.2 0 1,0 -2.4,0M335.31,61.37a1.2,1.2 0 1,0 2.4,0a1.2,1.2 0 1,0 -2.4,0" fill="#e8262c"/>
<path d="M287.04,77.54V76.83M286.29,76.83h1.5M293.22,74.69V73.55M292.47,73.55h1.5M297.86,74.69V73.55M297.11,73.55h1.5M304.04,75.83V74.86M303.29,74.86h1.5M308.68,77.16V76.39M307.93,76.39h1.5M314.87,77.92V77.27M314.12,77.27h1.5M319.50,78.30V77.70M318.75,77.70h1.5M325.69,78.49V77.92M324.94,77.92h1.5M330.33,77.92V77.27M329.58,77.27h1.5M336.51,75.45V74.42M335.76,74.42h1.5" stroke="#2424d6" stroke-width="0.5" fill="none"/>
<polyline points="282.40,79.45 287.04,77.54 293.22,74.69 297.86,74.69 304.04,75.83 308.68,77.16 314.87,77.92 319.50,78.30 325.69,78.49 330.33,77.92 336.51,75.45" fill="none" stroke="#2424d6" stroke-width="0.72"/>
<path d="M281.20,79.45a1.2,1.2 0 1,0 2.4,0a1.2,1.2 0 1,0 -2.4,0M285.84,77.54a1.2,1.2 0 1,0 2.4,0a1.2,1.2 0 1,0 -2.4,0M292.02,74.69a1.2,1.2 0 1,0 2.4,0a1.2,1.2 0 1,0 -2.4,0M296.66,74.69a1.2,1.2 0 1,0 2.4,0a1.2,1.2 0 1,0 -2.4,0M302.84,75.83a1.2,1.2 0 1,0 2.4,0a1.2,1.2 0 1,0 -2.4,0M307.48,77.16a1.2,1.2 0 1,0 2.4,0a1.2,1.2 0 1,0 -2.4,0M313.67,77.92a1.2,1.2 0 1,0 2.4,0a1.2,1.2 0 1,0 -2.4,0M318.30,78.30a1.2,1.2 0 1,0 2.4,0a1.2,1.2 0 1,0 -2.4,0M324.49,78.49a1.2,1.2 0 1,0 2.4,0a1.2,1.2 0 1,0 -2.4,0M329.13,77.92a1.2,1.2 0 1,0 2.4,0a1.2,1.2 0 1,0 -2.4,0M335.31,75.45a1.2,1.2 0 1,0 2.4,0a1.2,1.2 0 1,0 -2.4,0" fill="#2424d6"/>
<text class="d" x="318.00" y="94.30" font-size="4.15" text-anchor="middle" fill="#1a1a1a">Days post administration</text>
<text class="d" x="260.02" y="48.00" font-size="4.30" text-anchor="middle" fill="#1a1a1a" transform="rotate(-90 260.02 48.00)">Tumor volume (mm³)</text>
<text class="d" x="265.72" y="48.00" font-size="4.30" text-anchor="middle" fill="#1a1a1a" transform="rotate(-90 265.72 48.00)">(mean ± SEM)</text>
<line x1="285.30" y1="20.60" x2="288.50" y2="20.60" stroke="#151515" stroke-width="0.6"/>
<circle cx="286.90" cy="20.60" r="1.05" fill="#151515"/>
<text class="d" x="290.20" y="21.82" font-size="3.40" fill="#1a1a1a">Vehicle</text>
<line x1="285.30" y1="25.20" x2="288.50" y2="25.20" stroke="#ee4a55" stroke-width="0.6"/>
<circle cx="286.90" cy="25.20" r="1.05" fill="#ee4a55"/>
<text class="d" x="290.20" y="26.42" font-size="3.40" fill="#1a1a1a">Isotype IgG-GGFG-DXd</text>
<line x1="285.30" y1="29.80" x2="288.50" y2="29.80" stroke="#3b3be6" stroke-width="0.6"/>
<circle cx="286.90" cy="29.80" r="1.05" fill="#3b3be6"/>
<text class="d" x="290.20" y="31.02" font-size="3.40" fill="#1a1a1a">Isotype IgG-T800-exatecan</text>
<line x1="285.30" y1="34.40" x2="288.50" y2="34.40" stroke="#e8262c" stroke-width="0.6"/>
<circle cx="286.90" cy="34.40" r="1.05" fill="#e8262c"/>
<text class="d" x="290.20" y="35.62" font-size="3.40" fill="#1a1a1a">P-GGFG-DXd</text>
<line x1="285.30" y1="39.00" x2="288.50" y2="39.00" stroke="#2424d6" stroke-width="0.6"/>
<circle cx="286.90" cy="39.00" r="1.05" fill="#2424d6"/>
<text class="d" x="290.20" y="40.22" font-size="3.40" fill="#1a1a1a">AMT-562</text>
<path d="M282.40,97.80 L281.10,100.80 L283.70,100.80 Z" stroke="none" stroke-width="0.5" fill="#a8304a"/>
<line x1="282.40" y1="100.60" x2="282.40" y2="102.40" stroke="#a8304a" stroke-width="1.0"/>
<path d="M281.90,102.20 L281.10,105.20 M282.90,102.20 L283.70,105.20" stroke="#e87a90" stroke-width="0.8" fill="none"/>
<path d="M293.22,97.80 L291.92,100.80 L294.52,100.80 Z" stroke="none" stroke-width="0.5" fill="#a8304a"/>
<line x1="293.22" y1="100.60" x2="293.22" y2="102.40" stroke="#a8304a" stroke-width="1.0"/>
<path d="M292.72,102.20 L291.92,105.20 M293.72,102.20 L294.52,105.20" stroke="#e87a90" stroke-width="0.8" fill="none"/>
<polyline points="338.50,61.00 341.50,61.00 341.50,75.60 338.50,75.60" fill="none" stroke="#7a9a7a" stroke-width="0.45"/>
<text class="d" x="343.41" y="68.30" font-size="3.00" text-anchor="middle" fill="#1a1a1a" transform="rotate(90 343.41 68.30)">P = 0.0008</text>
<text class="d" x="358.50" y="11.60" font-size="12.20" font-weight="bold">C</text>
<text class="d" x="362.30" y="26.30" font-size="4.90" font-weight="bold">PDX-361423</text>
<text class="d" x="362.30" y="31.50" font-size="4.90" font-weight="bold">Rectal cancer</text>
<text class="d" x="362.30" y="38.50" font-size="4.90">H-score: 80</text>
<g><rect x="363.1" y="40.8" width="42.9" height="31.2" fill="#b88e80"/><rect x="363.1" y="40.8" width="42.9" height="31.2" fill="#a090b8" filter="url(#ph2_0)"/><rect x="363.1" y="40.8" width="42.9" height="31.2" fill="#c8906c" filter="url(#ph2_1)"/><rect x="363.1" y="40.8" width="42.9" height="31.2" fill="#7c5450" filter="url(#ph2_2)"/><rect x="363.1" y="40.8" width="42.9" height="31.2" fill="#f6f2f6" filter="url(#ph2_3)"/><rect x="363.1" y="40.8" width="42.9" height="31.2" fill="url(#pg2)"/><rect x="363.45000000000005" y="41.15" width="42.199999999999996" height="30.5" fill="none" stroke="#6a6068" stroke-width="0.6"/></g>
<rect x="397.30" y="67.80" width="6.70" height="2.40" fill="#cc1030"/>
<rect x="363.10" y="74.00" width="25.80" height="11.80" fill="#757575"/>
<rect x="363.10" y="87.40" width="25.80" height="12.20" fill="#d7d7d7"/>
<text x="376.00" y="78.90" font-size="3.90" text-anchor="middle" fill="#f4f4f4">Staining</text>
<text x="376.00" y="83.70" font-size="3.90" text-anchor="middle" fill="#f4f4f4">intensity</text>
<text class="d" x="376.00" y="92.50" font-size="3.90" text-anchor="middle" fill="#1a1a1a">Positive</text>
<text class="d" x="376.00" y="96.90" font-size="3.90" text-anchor="middle" fill="#1a1a1a">cell (%)</text>
<rect x="390.40" y="74.00" width="10.60" height="11.80" fill="#757575"/>
<rect x="390.40" y="87.40" width="10.60" height="12.20" fill="#d7d7d7"/>
<text x="395.70" y="81.15" font-size="3.80" text-anchor="middle" fill="#f4f4f4">0</text>
<text class="d" x="395.70" y="94.75" font-size="3.80" text-anchor="middle" fill="#1a1a1a">40</text>
<rect x="402.50" y="74.00" width="11.90" height="11.80" fill="#757575"/>
<rect x="402.50" y="87.40" width="11.90" height="12.20" fill="#d7d7d7"/>
<text x="408.45" y="81.15" font-size="3.80" text-anchor="middle" fill="#f4f4f4">1+</text>
<text class="d" x="408.45" y="94.75" font-size="3.80" text-anchor="middle" fill="#1a1a1a">40</text>
<rect x="415.90" y="74.00" width="11.50" height="11.80" fill="#757575"/>
<rect x="415.90" y="87.40" width="11.50" height="12.20" fill="#d7d7d7"/>
<text x="421.65" y="81.15" font-size="3.80" text-anchor="middle" fill="#f4f4f4">2+</text>
<text class="d" x="421.65" y="94.75" font-size="3.80" text-anchor="middle" fill="#1a1a1a">20</text>
<rect x="428.90" y="74.00" width="11.90" height="11.80" fill="#757575"/>
<rect x="428.90" y="87.40" width="11.90" height="12.20" fill="#d7d7d7"/>
<text x="434.85" y="81.15" font-size="3.80" text-anchor="middle" fill="#f4f4f4">3+</text>
<text class="d" x="434.85" y="94.75" font-size="3.80" text-anchor="middle" fill="#1a1a1a">0</text>
<line x1="451.00" y1="80.30" x2="451.00" y2="44.40" stroke="#000" stroke-width="0.55"/>
<line x1="451.00" y1="42.20" x2="451.00" y2="26.00" stroke="#000" stroke-width="0.55"/>
<line x1="449.80" y1="44.90" x2="452.20" y2="43.40" stroke="#000" stroke-width="0.45"/>
<line x1="449.80" y1="42.90" x2="452.20" y2="41.40" stroke="#000" stroke-width="0.45"/>
<line x1="450.70" y1="80.00" x2="511.00" y2="80.00" stroke="#000" stroke-width="0.55"/>
<line x1="449.60" y1="80.00" x2="451.00" y2="80.00" stroke="#000" stroke-width="0.45"/>
<text class="d" x="449.10" y="81.30" font-size="3.70" text-anchor="end" fill="#1a1a1a">0</text>
<line x1="449.60" y1="62.65" x2="451.00" y2="62.65" stroke="#000" stroke-width="0.45"/>
<text class="d" x="449.10" y="63.95" font-size="3.70" text-anchor="end" fill="#1a1a1a">500</text>
<line x1="449.60" y1="45.30" x2="451.00" y2="45.30" stroke="#000" stroke-width="0.45"/>
<text class="d" x="449.10" y="46.60" font-size="3.70" text-anchor="end" fill="#1a1a1a">1,000</text>
<line x1="449.60" y1="36.43" x2="451.00" y2="36.43" stroke="#000" stroke-width="0.45"/>
<text class="d" x="449.10" y="37.73" font-size="3.70" text-anchor="end" fill="#1a1a1a">2,000</text>
<line x1="449.60" y1="31.46" x2="451.00" y2="31.46" stroke="#000" stroke-width="0.45"/>
<text class="d" x="449.10" y="32.76" font-size="3.70" text-anchor="end" fill="#1a1a1a">3,000</text>
<line x1="449.60" y1="26.49" x2="451.00" y2="26.49" stroke="#000" stroke-width="0.45"/>
<text class="d" x="449.10" y="27.79" font-size="3.70" text-anchor="end" fill="#1a1a1a">4,000</text>
<line x1="449.60" y1="41.40" x2="451.00" y2="41.40" stroke="#000" stroke-width="0.45"/>
<text class="d" x="449.10" y="42.70" font-size="3.70" text-anchor="end" fill="#1a1a1a">1,000</text>
<line x1="451.00" y1="80.00" x2="451.00" y2="81.50" stroke="#000" stroke-width="0.45"/>
<text class="d" x="451.00" y="86.00" font-size="3.40" text-anchor="middle" fill="#1a1a1a">0</text>
<line x1="458.50" y1="80.00" x2="458.50" y2="81.50" stroke="#000" stroke-width="0.45"/>
<text class="d" x="458.50" y="86.00" font-size="3.40" text-anchor="middle" fill="#1a1a1a">10</text>
<line x1="466.00" y1="80.00" x2="466.00" y2="81.50" stroke="#000" stroke-width="0.45"/>
<text class="d" x="466.00" y="86.00" font-size="3.40" text-anchor="middle" fill="#1a1a1a">20</text>
<line x1="473.50" y1="80.00" x2="473.50" y2="81.50" stroke="#000" stroke-width="0.45"/>
<text class="d" x="473.50" y="86.00" font-size="3.40" text-anchor="middle" fill="#1a1a1a">30</text>
<line x1="481.00" y1="80.00" x2="481.00" y2="81.50" stroke="#000" stroke-width="0.45"/>
<text class="d" x="481.00" y="86.00" font-size="3.40" text-anchor="middle" fill="#1a1a1a">40</text>
<line x1="488.50" y1="80.00" x2="488.50" y2="81.50" stroke="#000" stroke-width="0.45"/>
<text class="d" x="488.50" y="86.00" font-size="3.40" text-anchor="middle" fill="#1a1a1a">50</text>
<line x1="496.00" y1="80.00" x2="496.00" y2="81.50" stroke="#000" stroke-width="0.45"/>
<text class="d" x="496.00" y="86.00" font-size="3.40" text-anchor="middle" fill="#1a1a1a">60</text>
<line x1="503.50" y1="80.00" x2="503.50" y2="81.50" stroke="#000" stroke-width="0.45"/>
<text class="d" x="503.50" y="86.00" font-size="3.40" text-anchor="middle" fill="#1a1a1a">70</text>
<line x1="511.00" y1="80.00" x2="511.00" y2="81.50" stroke="#000" stroke-width="0.45"/>
<text class="d" x="511.00" y="86.00" font-size="3.40" text-anchor="middle" fill="#1a1a1a">80</text>
<path d="M453.25,69.59V68.55M452.55,68.55h1.4M456.25,65.43V63.97M455.55,63.97h1.4M458.50,61.61V59.77M457.80,59.77h1.4M461.50,57.45V55.19M460.80,55.19h1.4M463.75,52.93V50.23M463.05,50.23h1.4" stroke="#151515" stroke-width="0.5" fill="none"/>
<polyline points="451.00,73.06 453.25,69.59 456.25,65.43 458.50,61.61 461.50,57.45 463.75,52.93 466.75,48.08 468.25,45.30" fill="none" stroke="#151515" stroke-width="0.72"/>
<path d="M450.05,73.06a0.95,0.95 0 1,0 1.9,0a0.95,0.95 0 1,0 -1.9,0M452.30,69.59a0.95,0.95 0 1,0 1.9,0a0.95,0.95 0 1,0 -1.9,0M455.30,65.43a0.95,0.95 0 1,0 1.9,0a0.95,0.95 0 1,0 -1.9,0M457.55,61.61a0.95,0.95 0 1,0 1.9,0a0.95,0.95 0 1,0 -1.9,0M460.55,57.45a0.95,0.95 0 1,0 1.9,0a0.95,0.95 0 1,0 -1.9,0M462.80,52.93a0.95,0.95 0 1,0 1.9,0a0.95,0.95 0 1,0 -1.9,0M465.80,48.08a0.95,0.95 0 1,0 1.9,0a0.95,0.95 0 1,0 -1.9,0M467.30,45.30a0.95,0.95 0 1,0 1.9,0a0.95,0.95 0 1,0 -1.9,0" fill="#151515"/>
<path d="M472.00,39.91V39.65M471.30,39.65h1.4M475.00,38.67V38.36M474.30,38.36h1.4M477.25,37.42V37.07M476.55,37.07h1.4M480.25,36.18V35.77M479.55,35.77h1.4M482.50,34.94V34.48M481.80,34.48h1.4M485.50,33.70V33.19M484.80,33.19h1.4M488.50,31.96V31.38M487.80,31.38h1.4" stroke="#151515" stroke-width="0.5" fill="none"/>
<polyline points="469.75,41.15 472.00,39.91 475.00,38.67 477.25,37.42 480.25,36.18 482.50,34.94 485.50,33.70 488.50,31.96" fill="none" stroke="#151515" stroke-width="0.72"/>
<path d="M468.80,41.15a0.95,0.95 0 1,0 1.9,0a0.95,0.95 0 1,0 -1.9,0M471.05,39.91a0.95,0.95 0 1,0 1.9,0a0.95,0.95 0 1,0 -1.9,0M474.05,38.67a0.95,0.95 0 1,0 1.9,0a0.95,0.95 0 1,0 -1.9,0M476.30,37.42a0.95,0.95 0 1,0 1.9,0a0.95,0.95 0 1,0 -1.9,0M479.30,36.18a0.95,0.95 0 1,0 1.9,0a0.95,0.95 0 1,0 -1.9,0M481.55,34.94a0.95,0.95 0 1,0 1.9,0a0.95,0.95 0 1,0 -1.9,0M484.55,33.70a0.95,0.95 0 1,0 1.9,0a0.95,0.95 0 1,0 -1.9,0M487.55,31.96a0.95,0.95 0 1,0 1.9,0a0.95,0.95 0 1,0 -1.9,0" fill="#151515"/>
<path d="M453.25,72.89V72.03M452.55,72.03h1.4M456.25,72.54V71.64M455.55,71.64h1.4M458.50,70.28V69.12M457.80,69.12h1.4M461.50,67.51V66.01M460.80,66.01h1.4M463.75,64.39V62.51M463.05,62.51h1.4M466.75,61.26V59.01M466.05,59.01h1.4M469.00,57.79V55.13M468.30,55.13h1.4M472.00,53.63V50.46M471.30,50.46h1.4M474.25,49.46V45.80M473.55,45.80h1.4" stroke="#c44af0" stroke-width="0.5" fill="none"/>
<polyline points="451.00,73.06 453.25,72.89 456.25,72.54 458.50,70.28 461.50,67.51 463.75,64.39 466.75,61.26 469.00,57.79 472.00,53.63 474.25,49.46 476.50,45.65" fill="none" stroke="#c44af0" stroke-width="0.72"/>
<path d="M450.05,73.06a0.95,0.95 0 1,0 1.9,0a0.95,0.95 0 1,0 -1.9,0M452.30,72.89a0.95,0.95 0 1,0 1.9,0a0.95,0.95 0 1,0 -1.9,0M455.30,72.54a0.95,0.95 0 1,0 1.9,0a0.95,0.95 0 1,0 -1.9,0M457.55,70.28a0.95,0.95 0 1,0 1.9,0a0.95,0.95 0 1,0 -1.9,0M460.55,67.51a0.95,0.95 0 1,0 1.9,0a0.95,0.95 0 1,0 -1.9,0M462.80,64.39a0.95,0.95 0 1,0 1.9,0a0.95,0.95 0 1,0 -1.9,0M465.80,61.26a0.95,0.95 0 1,0 1.9,0a0.95,0.95 0 1,0 -1.9,0M468.05,57.79a0.95,0.95 0 1,0 1.9,0a0.95,0.95 0 1,0 -1.9,0M471.05,53.63a0.95,0.95 0 1,0 1.9,0a0.95,0.95 0 1,0 -1.9,0M473.30,49.46a0.95,0.95 0 1,0 1.9,0a0.95,0.95 0 1,0 -1.9,0M475.55,45.65a0.95,0.95 0 1,0 1.9,0a0.95,0.95 0 1,0 -1.9,0" fill="#c44af0"/>
<path d="M479.50,39.91V39.65M478.80,39.65h1.4M482.50,38.67V38.36M481.80,38.36h1.4M484.75,37.67V37.32M484.05,37.32h1.4M487.75,36.43V36.03M487.05,36.03h1.4M490.00,35.44V35.00M489.30,35.00h1.4M493.00,34.19V33.71M492.30,33.71h1.4" stroke="#c44af0" stroke-width="0.5" fill="none"/>
<polyline points="477.25,40.90 479.50,39.91 482.50,38.67 484.75,37.67 487.75,36.43 490.00,35.44 493.00,34.19" fill="none" stroke="#c44af0" stroke-width="0.72"/>
<path d="M476.30,40.90a0.95,0.95 0 1,0 1.9,0a0.95,0.95 0 1,0 -1.9,0M478.55,39.91a0.95,0.95 0 1,0 1.9,0a0.95,0.95 0 1,0 -1.9,0M481.55,38.67a0.95,0.95 0 1,0 1.9,0a0.95,0.95 0 1,0 -1.9,0M483.80,37.67a0.95,0.95 0 1,0 1.9,0a0.95,0.95 0 1,0 -1.9,0M486.80,36.43a0.95,0.95 0 1,0 1.9,0a0.95,0.95 0 1,0 -1.9,0M489.05,35.44a0.95,0.95 0 1,0 1.9,0a0.95,0.95 0 1,0 -1.9,0M492.05,34.19a0.95,0.95 0 1,0 1.9,0a0.95,0.95 0 1,0 -1.9,0" fill="#c44af0"/>
<path d="M453.25,73.06V70.98M452.55,70.98h1.4M456.25,73.41V71.43M455.55,71.43h1.4M458.50,73.75V71.88M457.80,71.88h1.4M461.50,74.10V72.33M460.80,72.33h1.4M463.75,74.45V72.78M463.05,72.78h1.4M466.75,74.80V73.23M466.05,73.23h1.4M469.00,75.14V73.68M468.30,73.68h1.4M472.00,75.84V74.59M471.30,74.59h1.4M474.25,76.53V75.49M473.55,75.49h1.4M477.25,77.22V76.39M476.55,76.39h1.4M479.50,77.92V77.29M478.80,77.29h1.4M482.50,76.18V75.04M481.80,75.04h1.4M484.75,74.45V72.78M484.05,72.78h1.4M487.75,73.06V70.98M487.05,70.98h1.4M490.00,72.02V69.62M489.30,69.62h1.4M493.00,70.98V68.27M492.30,68.27h1.4M495.25,69.94V66.92M494.55,66.92h1.4M498.25,68.90V65.56M497.55,65.56h1.4M500.50,67.51V63.76M499.80,63.76h1.4M503.50,65.77V61.50M502.80,61.50h1.4M505.75,63.69V58.80M505.05,58.80h1.4M508.75,61.26V55.64M508.05,55.64h1.4" stroke="#e8262c" stroke-width="0.5" fill="none"/>
<polyline points="451.00,72.71 453.25,73.06 456.25,73.41 458.50,73.75 461.50,74.10 463.75,74.45 466.75,74.80 469.00,75.14 472.00,75.84 474.25,76.53 477.25,77.22 479.50,77.92 482.50,76.18 484.75,74.45 487.75,73.06 490.00,72.02 493.00,70.98 495.25,69.94 498.25,68.90 500.50,67.51 503.50,65.77 505.75,63.69 508.75,61.26" fill="none" stroke="#e8262c" stroke-width="0.72"/>
<path d="M450.05,72.71a0.95,0.95 0 1,0 1.9,0a0.95,0.95 0 1,0 -1.9,0M452.30,73.06a0.95,0.95 0 1,0 1.9,0a0.95,0.95 0 1,0 -1.9,0M455.30,73.41a0.95,0.95 0 1,0 1.9,0a0.95,0.95 0 1,0 -1.9,0M457.55,73.75a0.95,0.95 0 1,0 1.9,0a0.95,0.95 0 1,0 -1.9,0M460.55,74.10a0.95,0.95 0 1,0 1.9,0a0.95,0.95 0 1,0 -1.9,0M462.80,74.45a0.95,0.95 0 1,0 1.9,0a0.95,0.95 0 1,0 -1.9,0M465.80,74.80a0.95,0.95 0 1,0 1.9,0a0.95,0.95 0 1,0 -1.9,0M468.05,75.14a0.95,0.95 0 1,0 1.9,0a0.95,0.95 0 1,0 -1.9,0M471.05,75.84a0.95,0.95 0 1,0 1.9,0a0.95,0.95 0 1,0 -1.9,0M473.30,76.53a0.95,0.95 0 1,0 1.9,0a0.95,0.95 0 1,0 -1.9,0M476.30,77.22a0.95,0.95 0 1,0 1.9,0a0.95,0.95 0 1,0 -1.9,0M478.55,77.92a0.95,0.95 0 1,0 1.9,0a0.95,0.95 0 1,0 -1.9,0M481.55,76.18a0.95,0.95 0 1,0 1.9,0a0.95,0.95 0 1,0 -1.9,0M483.80,74.45a0.95,0.95 0 1,0 1.9,0a0.95,0.95 0 1,0 -1.9,0M486.80,73.06a0.95,0.95 0 1,0 1.9,0a0.95,0.95 0 1,0 -1.9,0M489.05,72.02a0.95,0.95 0 1,0 1.9,0a0.95,0.95 0 1,0 -1.9,0M492.05,70.98a0.95,0.95 0 1,0 1.9,0a0.95,0.95 0 1,0 -1.9,0M494.30,69.94a0.95,0.95 0 1,0 1.9,0a0.95,0.95 0 1,0 -1.9,0M497.30,68.90a0.95,0.95 0 1,0 1.9,0a0.95,0.95 0 1,0 -1.9,0M499.55,67.51a0.95,0.95 0 1,0 1.9,0a0.95,0.95 0 1,0 -1.9,0M502.55,65.77a0.95,0.95 0 1,0 1.9,0a0.95,0.95 0 1,0 -1.9,0M504.80,63.69a0.95,0.95 0 1,0 1.9,0a0.95,0.95 0 1,0 -1.9,0M507.80,61.26a0.95,0.95 0 1,0 1.9,0a0.95,0.95 0 1,0 -1.9,0" fill="#e8262c"/>
<path d="M453.25,73.06V72.02M452.55,72.02h1.4M456.25,73.41V72.42M455.55,72.42h1.4M458.50,73.75V72.82M457.80,72.82h1.4M461.50,74.10V73.22M460.80,73.22h1.4M463.75,74.45V73.62M463.05,73.62h1.4M466.75,74.80V74.01M466.05,74.01h1.4M469.00,75.32V74.61M468.30,74.61h1.4M472.00,75.84V75.21M471.30,75.21h1.4M474.25,76.36V75.81M473.55,75.81h1.4M477.25,76.88V76.41M476.55,76.41h1.4M479.50,77.40V77.01M478.80,77.01h1.4M482.50,77.92V77.61M481.80,77.61h1.4M484.75,78.27V78.00M484.05,78.00h1.4M487.75,78.61V78.40M487.05,78.40h1.4M490.00,78.79V78.60M489.30,78.60h1.4M493.00,78.96V78.80M492.30,78.80h1.4M495.25,79.03V78.88M494.55,78.88h1.4M498.25,79.13V79.00M497.55,79.00h1.4M500.50,79.13V79.00M499.80,79.00h1.4M503.50,79.13V79.00M502.80,79.00h1.4M505.75,79.13V79.00M505.05,79.00h1.4M508.75,79.13V79.00M508.05,79.00h1.4" stroke="#2424d6" stroke-width="0.5" fill="none"/>
<polyline points="451.00,72.71 453.25,73.06 456.25,73.41 458.50,73.75 461.50,74.10 463.75,74.45 466.75,74.80 469.00,75.32 472.00,75.84 474.25,76.36 477.25,76.88 479.50,77.40 482.50,77.92 484.75,78.27 487.75,78.61 490.00,78.79 493.00,78.96 495.25,79.03 498.25,79.13 500.50,79.13 503.50,79.13 505.75,79.13 508.75,79.13" fill="none" stroke="#2424d6" stroke-width="0.72"/>
<path d="M450.05,72.71a0.95,0.95 0 1,0 1.9,0a0.95,0.95 0 1,0 -1.9,0M452.30,73.06a0.95,0.95 0 1,0 1.9,0a0.95,0.95 0 1,0 -1.9,0M455.30,73.41a0.95,0.95 0 1,0 1.9,0a0.95,0.95 0 1,0 -1.9,0M457.55,73.75a0.95,0.95 0 1,0 1.9,0a0.95,0.95 0 1,0 -1.9,0M460.55,74.10a0.95,0.95 0 1,0 1.9,0a0.95,0.95 0 1,0 -1.9,0M462.80,74.45a0.95,0.95 0 1,0 1.9,0a0.95,0.95 0 1,0 -1.9,0M465.80,74.80a0.95,0.95 0 1,0 1.9,0a0.95,0.95 0 1,0 -1.9,0M468.05,75.32a0.95,0.95 0 1,0 1.9,0a0.95,0.95 0 1,0 -1.9,0M471.05,75.84a0.95,0.95 0 1,0 1.9,0a0.95,0.95 0 1,0 -1.9,0M473.30,76.36a0.95,0.95 0 1,0 1.9,0a0.95,0.95 0 1,0 -1.9,0M476.30,76.88a0.95,0.95 0 1,0 1.9,0a0.95,0.95 0 1,0 -1.9,0M478.55,77.40a0.95,0.95 0 1,0 1.9,0a0.95,0.95 0 1,0 -1.9,0M481.55,77.92a0.95,0.95 0 1,0 1.9,0a0.95,0.95 0 1,0 -1.9,0M483.80,78.27a0.95,0.95 0 1,0 1.9,0a0.95,0.95 0 1,0 -1.9,0M486.80,78.61a0.95,0.95 0 1,0 1.9,0a0.95,0.95 0 1,0 -1.9,0M489.05,78.79a0.95,0.95 0 1,0 1.9,0a0.95,0.95 0 1,0 -1.9,0M492.05,78.96a0.95,0.95 0 1,0 1.9,0a0.95,0.95 0 1,0 -1.9,0M494.30,79.03a0.95,0.95 0 1,0 1.9,0a0.95,0.95 0 1,0 -1.9,0M497.30,79.13a0.95,0.95 0 1,0 1.9,0a0.95,0.95 0 1,0 -1.9,0M499.55,79.13a0.95,0.95 0 1,0 1.9,0a0.95,0.95 0 1,0 -1.9,0M502.55,79.13a0.95,0.95 0 1,0 1.9,0a0.95,0.95 0 1,0 -1.9,0M504.80,79.13a0.95,0.95 0 1,0 1.9,0a0.95,0.95 0 1,0 -1.9,0M507.80,79.13a0.95,0.95 0 1,0 1.9,0a0.95,0.95 0 1,0 -1.9,0" fill="#2424d6"/>
<text class="d" x="483.20" y="92.70" font-size="4.00" text-anchor="middle" fill="#1a1a1a">Days post administration</text>
<text class="d" x="429.12" y="51.00" font-size="4.00" text-anchor="middle" fill="#1a1a1a" transform="rotate(-90 429.12 51.00)">Tumor volume (mm³)</text>
<text class="d" x="435.10" y="51.00" font-size="3.65" text-anchor="middle" fill="#1a1a1a" transform="rotate(-90 435.10 51.00)">(mean ± SEM)</text>
<line x1="453.90" y1="21.60" x2="457.10" y2="21.60" stroke="#151515" stroke-width="0.6"/>
<circle cx="455.50" cy="21.60" r="0.9" fill="#151515"/>
<text class="d" x="459.00" y="22.75" font-size="3.14" fill="#1a1a1a">Vehicle</text>
<line x1="453.90" y1="25.90" x2="457.10" y2="25.90" stroke="#c44af0" stroke-width="0.6"/>
<circle cx="455.50" cy="25.90" r="0.9" fill="#c44af0"/>
<text class="d" x="459.00" y="27.05" font-size="3.14" fill="#1a1a1a">Sotorasib, 100 mg/kg, PO, QD</text>
<line x1="453.90" y1="30.20" x2="457.10" y2="30.20" stroke="#e8262c" stroke-width="0.6"/>
<circle cx="455.50" cy="30.20" r="0.9" fill="#e8262c"/>
<text class="d" x="459.00" y="31.35" font-size="3.14" fill="#1a1a1a">P-GGFG-DXd</text>
<line x1="453.90" y1="34.50" x2="457.10" y2="34.50" stroke="#2424d6" stroke-width="0.6"/>
<circle cx="455.50" cy="34.50" r="0.9" fill="#2424d6"/>
<text class="d" x="459.00" y="35.65" font-size="3.14" fill="#1a1a1a">AMT-562</text>
<path d="M451.00,93.20 L449.70,96.20 L452.30,96.20 Z" stroke="none" stroke-width="0.5" fill="#a8304a"/>
<line x1="451.00" y1="96.00" x2="451.00" y2="97.80" stroke="#a8304a" stroke-width="1.0"/>
<path d="M450.50,97.60 L449.70,100.60 M451.50,97.60 L452.30,100.60" stroke="#e87a90" stroke-width="0.8" fill="none"/>
<path d="M456.25,93.20 L454.95,96.20 L457.55,96.20 Z" stroke="none" stroke-width="0.5" fill="#a8304a"/>
<line x1="456.25" y1="96.00" x2="456.25" y2="97.80" stroke="#a8304a" stroke-width="1.0"/>
<path d="M455.75,97.60 L454.95,100.60 M456.75,97.60 L457.55,100.60" stroke="#e87a90" stroke-width="0.8" fill="none"/>
<polyline points="513.50,62.50 516.50,62.50 516.50,79.50 513.50,79.50" fill="none" stroke="#7a9a7a" stroke-width="0.45"/>
<text class="d" x="518.21" y="71.00" font-size="3.00" text-anchor="middle" fill="#1a1a1a" transform="rotate(90 518.21 71.00)">P &lt; 0.0001</text>
<text class="d" x="1.70" y="131.40" font-size="12.20" font-weight="bold">D</text>
<text class="d" x="15.20" y="142.60" font-size="4.90" font-weight="bold">PDX-361926</text>
<text class="d" x="15.20" y="147.80" font-size="4.90" font-weight="bold">Rectal cancer</text>
<text class="d" x="15.20" y="154.80" font-size="4.90">H-score: 200</text>
<g><rect x="15" y="157.6" width="43.5" height="31.8" fill="#b88a7e"/><rect x="15" y="157.6" width="43.5" height="31.8" fill="#a48cac" filter="url(#ph3_0)"/><rect x="15" y="157.6" width="43.5" height="31.8" fill="#d0a47c" filter="url(#ph3_1)"/><rect x="15" y="157.6" width="43.5" height="31.8" fill="#945a4e" filter="url(#ph3_2)"/><rect x="15" y="157.6" width="43.5" height="31.8" fill="#f4e8e4" filter="url(#ph3_3)"/><rect x="15" y="157.6" width="43.5" height="31.8" fill="url(#pg3)"/><rect x="15.35" y="157.95" width="42.8" height="31.1" fill="none" stroke="#6a6068" stroke-width="0.6"/></g>
<rect x="48.00" y="186.20" width="7.00" height="2.40" fill="#cc1030"/>
<rect x="15.00" y="191.90" width="25.80" height="11.80" fill="#757575"/>
<rect x="15.00" y="205.30" width="25.80" height="12.20" fill="#d7d7d7"/>
<text x="27.90" y="196.80" font-size="3.90" text-anchor="middle" fill="#f4f4f4">Staining</text>
<text x="27.90" y="201.60" font-size="3.90" text-anchor="middle" fill="#f4f4f4">intensity</text>
<text class="d" x="27.90" y="210.40" font-size="3.90" text-anchor="middle" fill="#1a1a1a">Positive</text>
<text class="d" x="27.90" y="214.80" font-size="3.90" text-anchor="middle" fill="#1a1a1a">cell (%)</text>
<rect x="42.50" y="191.90" width="11.50" height="11.80" fill="#757575"/>
<rect x="42.50" y="205.30" width="11.50" height="12.20" fill="#d7d7d7"/>
<text x="48.25" y="199.05" font-size="3.80" text-anchor="middle" fill="#f4f4f4">0</text>
<text class="d" x="48.25" y="212.65" font-size="3.80" text-anchor="middle" fill="#1a1a1a">10</text>
<rect x="55.70" y="191.90" width="11.50" height="11.80" fill="#757575"/>
<rect x="55.70" y="205.30" width="11.50" height="12.20" fill="#d7d7d7"/>
<text x="61.45" y="199.05" font-size="3.80" text-anchor="middle" fill="#f4f4f4">1+</text>
<text class="d" x="61.45" y="212.65" font-size="3.80" text-anchor="middle" fill="#1a1a1a">20</text>
<rect x="68.90" y="191.90" width="11.60" height="11.80" fill="#757575"/>
<rect x="68.90" y="205.30" width="11.60" height="12.20" fill="#d7d7d7"/>
<text x="74.70" y="199.05" font-size="3.80" text-anchor="middle" fill="#f4f4f4">2+</text>
<text class="d" x="74.70" y="212.65" font-size="3.80" text-anchor="middle" fill="#1a1a1a">30</text>
<rect x="82.20" y="191.90" width="11.90" height="11.80" fill="#757575"/>
<rect x="82.20" y="205.30" width="11.90" height="12.20" fill="#d7d7d7"/>
<text x="88.15" y="199.05" font-size="3.80" text-anchor="middle" fill="#f4f4f4">3+</text>
<text class="d" x="88.15" y="212.65" font-size="3.80" text-anchor="middle" fill="#1a1a1a">40</text>
<line x1="102.20" y1="198.38" x2="102.20" y2="140.89" stroke="#000" stroke-width="0.55"/>
<line x1="101.92" y1="198.10" x2="166.00" y2="198.10" stroke="#000" stroke-width="0.55"/>
<line x1="100.70" y1="198.10" x2="102.20" y2="198.10" stroke="#000" stroke-width="0.45"/>
<text class="d" x="100.20" y="199.32" font-size="3.40" text-anchor="end" fill="#1a1a1a">0</text>
<line x1="100.70" y1="188.56" x2="102.20" y2="188.56" stroke="#000" stroke-width="0.45"/>
<text class="d" x="100.20" y="189.79" font-size="3.40" text-anchor="end" fill="#1a1a1a">500</text>
<line x1="100.70" y1="179.03" x2="102.20" y2="179.03" stroke="#000" stroke-width="0.45"/>
<text class="d" x="100.20" y="180.25" font-size="3.40" text-anchor="end" fill="#1a1a1a">1,000</text>
<line x1="100.70" y1="169.50" x2="102.20" y2="169.50" stroke="#000" stroke-width="0.45"/>
<text class="d" x="100.20" y="170.72" font-size="3.40" text-anchor="end" fill="#1a1a1a">1,500</text>
<line x1="100.70" y1="159.96" x2="102.20" y2="159.96" stroke="#000" stroke-width="0.45"/>
<text class="d" x="100.20" y="161.18" font-size="3.40" text-anchor="end" fill="#1a1a1a">2,000</text>
<line x1="100.70" y1="150.43" x2="102.20" y2="150.43" stroke="#000" stroke-width="0.45"/>
<text class="d" x="100.20" y="151.65" font-size="3.40" text-anchor="end" fill="#1a1a1a">2,500</text>
<line x1="100.70" y1="140.89" x2="102.20" y2="140.89" stroke="#000" stroke-width="0.45"/>
<text class="d" x="100.20" y="142.11" font-size="3.40" text-anchor="end" fill="#1a1a1a">3,000</text>
<line x1="102.20" y1="198.10" x2="102.20" y2="199.60" stroke="#000" stroke-width="0.45"/>
<text class="d" x="102.20" y="204.30" font-size="3.40" text-anchor="middle" fill="#1a1a1a">0</text>
<line x1="114.80" y1="198.10" x2="114.80" y2="199.60" stroke="#000" stroke-width="0.45"/>
<text class="d" x="114.80" y="204.30" font-size="3.40" text-anchor="middle" fill="#1a1a1a">7</text>
<line x1="127.40" y1="198.10" x2="127.40" y2="199.60" stroke="#000" stroke-width="0.45"/>
<text class="d" x="127.40" y="204.30" font-size="3.40" text-anchor="middle" fill="#1a1a1a">14</text>
<line x1="140.00" y1="198.10" x2="140.00" y2="199.60" stroke="#000" stroke-width="0.45"/>
<text class="d" x="140.00" y="204.30" font-size="3.40" text-anchor="middle" fill="#1a1a1a">21</text>
<line x1="152.60" y1="198.10" x2="152.60" y2="199.60" stroke="#000" stroke-width="0.45"/>
<text class="d" x="152.60" y="204.30" font-size="3.40" text-anchor="middle" fill="#1a1a1a">28</text>
<line x1="165.20" y1="198.10" x2="165.20" y2="199.60" stroke="#000" stroke-width="0.45"/>
<text class="d" x="165.20" y="204.30" font-size="3.40" text-anchor="middle" fill="#1a1a1a">35</text>
<path d="M107.60,194.86V194.05M106.85,194.05h1.5M114.80,193.90V192.86M114.05,192.86h1.5M120.20,192.38V190.95M119.45,190.95h1.5M127.40,190.47V188.56M126.65,188.56h1.5M132.80,187.99V185.47M132.05,185.47h1.5M140.00,184.75V181.41M139.25,181.41h1.5M145.40,180.94V176.65M144.65,176.65h1.5M152.60,175.22V169.50M151.85,169.50h1.5M158.00,169.50V162.34M157.25,162.34h1.5M165.20,159.01V149.23M164.45,149.23h1.5" stroke="#ee4a55" stroke-width="0.5" fill="none"/>
<polyline points="102.20,195.24 107.60,194.86 114.80,193.90 120.20,192.38 127.40,190.47 132.80,187.99 140.00,184.75 145.40,180.94 152.60,175.22 158.00,169.50 165.20,159.01" fill="none" stroke="#ee4a55" stroke-width="0.72"/>
<path d="M101.00,195.24a1.2,1.2 0 1,0 2.4,0a1.2,1.2 0 1,0 -2.4,0M106.40,194.86a1.2,1.2 0 1,0 2.4,0a1.2,1.2 0 1,0 -2.4,0M113.60,193.90a1.2,1.2 0 1,0 2.4,0a1.2,1.2 0 1,0 -2.4,0M119.00,192.38a1.2,1.2 0 1,0 2.4,0a1.2,1.2 0 1,0 -2.4,0M126.20,190.47a1.2,1.2 0 1,0 2.4,0a1.2,1.2 0 1,0 -2.4,0M131.60,187.99a1.2,1.2 0 1,0 2.4,0a1.2,1.2 0 1,0 -2.4,0M138.80,184.75a1.2,1.2 0 1,0 2.4,0a1.2,1.2 0 1,0 -2.4,0M144.20,180.94a1.2,1.2 0 1,0 2.4,0a1.2,1.2 0 1,0 -2.4,0M151.40,175.22a1.2,1.2 0 1,0 2.4,0a1.2,1.2 0 1,0 -2.4,0M156.80,169.50a1.2,1.2 0 1,0 2.4,0a1.2,1.2 0 1,0 -2.4,0M164.00,159.01a1.2,1.2 0 1,0 2.4,0a1.2,1.2 0 1,0 -2.4,0" fill="#ee4a55"/>
<path d="M107.60,194.86V194.45M106.85,194.45h1.5M114.80,193.71V193.17M114.05,193.17h1.5M120.20,191.81V191.02M119.45,191.02h1.5M127.40,189.52V188.45M126.65,188.45h1.5M132.80,186.66V185.23M132.05,185.23h1.5M140.00,182.84V180.94M139.25,180.94h1.5M145.40,179.03V176.65M144.65,176.65h1.5M152.60,174.26V171.28M151.85,171.28h1.5M158.00,168.54V164.85M157.25,164.85h1.5M165.20,159.96V155.19M164.45,155.19h1.5" stroke="#3b3be6" stroke-width="0.5" fill="none"/>
<polyline points="102.20,195.24 107.60,194.86 114.80,193.71 120.20,191.81 127.40,189.52 132.80,186.66 140.00,182.84 145.40,179.03 152.60,174.26 158.00,168.54 165.20,159.96" fill="none" stroke="#3b3be6" stroke-width="0.72"/>
<path d="M101.00,195.24a1.2,1.2 0 1,0 2.4,0a1.2,1.2 0 1,0 -2.4,0M106.40,194.86a1.2,1.2 0 1,0 2.4,0a1.2,1.2 0 1,0 -2.4,0M113.60,193.71a1.2,1.2 0 1,0 2.4,0a1.2,1.2 0 1,0 -2.4,0M119.00,191.81a1.2,1.2 0 1,0 2.4,0a1.2,1.2 0 1,0 -2.4,0M126.20,189.52a1.2,1.2 0 1,0 2.4,0a1.2,1.2 0 1,0 -2.4,0M131.60,186.66a1.2,1.2 0 1,0 2.4,0a1.2,1.2 0 1,0 -2.4,0M138.80,182.84a1.2,1.2 0 1,0 2.4,0a1.2,1.2 0 1,0 -2.4,0M144.20,179.03a1.2,1.2 0 1,0 2.4,0a1.2,1.2 0 1,0 -2.4,0M151.40,174.26a1.2,1.2 0 1,0 2.4,0a1.2,1.2 0 1,0 -2.4,0M156.80,168.54a1.2,1.2 0 1,0 2.4,0a1.2,1.2 0 1,0 -2.4,0M164.00,159.96a1.2,1.2 0 1,0 2.4,0a1.2,1.2 0 1,0 -2.4,0" fill="#3b3be6"/>
<path d="M107.60,195.05V194.59M106.85,194.59h1.5M114.80,194.48V193.93M114.05,193.93h1.5M120.20,193.52V192.84M119.45,192.84h1.5M127.40,192.38V191.52M126.65,191.52h1.5M132.80,190.85V189.77M132.05,189.77h1.5M140.00,189.14V187.79M139.25,187.79h1.5M145.40,187.04V185.38M144.65,185.38h1.5M152.60,184.37V182.31M151.85,182.31h1.5M158.00,181.51V179.02M157.25,179.02h1.5M165.20,178.08V175.07M164.45,175.07h1.5" stroke="#e8262c" stroke-width="0.5" fill="none"/>
<polyline points="102.20,195.24 107.60,195.05 114.80,194.48 120.20,193.52 127.40,192.38 132.80,190.85 140.00,189.14 145.40,187.04 152.60,184.37 158.00,181.51 165.20,178.08" fill="none" stroke="#e8262c" stroke-width="0.72"/>
<path d="M101.00,195.24a1.2,1.2 0 1,0 2.4,0a1.2,1.2 0 1,0 -2.4,0M106.40,195.05a1.2,1.2 0 1,0 2.4,0a1.2,1.2 0 1,0 -2.4,0M113.60,194.48a1.2,1.2 0 1,0 2.4,0a1.2,1.2 0 1,0 -2.4,0M119.00,193.52a1.2,1.2 0 1,0 2.4,0a1.2,1.2 0 1,0 -2.4,0M126.20,192.38a1.2,1.2 0 1,0 2.4,0a1.2,1.2 0 1,0 -2.4,0M131.60,190.85a1.2,1.2 0 1,0 2.4,0a1.2,1.2 0 1,0 -2.4,0M138.80,189.14a1.2,1.2 0 1,0 2.4,0a1.2,1.2 0 1,0 -2.4,0M144.20,187.04a1.2,1.2 0 1,0 2.4,0a1.2,1.2 0 1,0 -2.4,0M151.40,184.37a1.2,1.2 0 1,0 2.4,0a1.2,1.2 0 1,0 -2.4,0M156.80,181.51a1.2,1.2 0 1,0 2.4,0a1.2,1.2 0 1,0 -2.4,0M164.00,178.08a1.2,1.2 0 1,0 2.4,0a1.2,1.2 0 1,0 -2.4,0" fill="#e8262c"/>
<path d="M107.60,195.05V194.67M106.85,194.67h1.5M114.80,194.67V194.24M114.05,194.24h1.5M120.20,194.10V193.59M119.45,193.59h1.5M127.40,193.33V192.74M126.65,192.74h1.5M132.80,192.38V191.66M132.05,191.66h1.5M140.00,191.43V190.59M139.25,190.59h1.5M145.40,190.47V189.52M144.65,189.52h1.5M152.60,189.52V188.45M151.85,188.45h1.5M158.00,188.56V187.37M157.25,187.37h1.5M165.20,187.42V186.09M164.45,186.09h1.5" stroke="#2424d6" stroke-width="0.5" fill="none"/>
<polyline points="102.20,195.24 107.60,195.05 114.80,194.67 120.20,194.10 127.40,193.33 132.80,192.38 140.00,191.43 145.40,190.47 152.60,189.52 158.00,188.56 165.20,187.42" fill="none" stroke="#2424d6" stroke-width="0.72"/>
<path d="M101.00,195.24a1.2,1.2 0 1,0 2.4,0a1.2,1.2 0 1,0 -2.4,0M106.40,195.05a1.2,1.2 0 1,0 2.4,0a1.2,1.2 0 1,0 -2.4,0M113.60,194.67a1.2,1.2 0 1,0 2.4,0a1.2,1.2 0 1,0 -2.4,0M119.00,194.10a1.2,1.2 0 1,0 2.4,0a1.2,1.2 0 1,0 -2.4,0M126.20,193.33a1.2,1.2 0 1,0 2.4,0a1.2,1.2 0 1,0 -2.4,0M131.60,192.38a1.2,1.2 0 1,0 2.4,0a1.2,1.2 0 1,0 -2.4,0M138.80,191.43a1.2,1.2 0 1,0 2.4,0a1.2,1.2 0 1,0 -2.4,0M144.20,190.47a1.2,1.2 0 1,0 2.4,0a1.2,1.2 0 1,0 -2.4,0M151.40,189.52a1.2,1.2 0 1,0 2.4,0a1.2,1.2 0 1,0 -2.4,0M156.80,188.56a1.2,1.2 0 1,0 2.4,0a1.2,1.2 0 1,0 -2.4,0M164.00,187.42a1.2,1.2 0 1,0 2.4,0a1.2,1.2 0 1,0 -2.4,0" fill="#2424d6"/>
<text class="d" x="136.30" y="210.30" font-size="4.10" text-anchor="middle" fill="#1a1a1a">Days post administration</text>
<text class="d" x="84.04" y="164.00" font-size="3.75" text-anchor="middle" fill="#1a1a1a" transform="rotate(-90 84.04 164.00)">Tumor volume (mm³)</text>
<text class="d" x="89.34" y="164.00" font-size="3.75" text-anchor="middle" fill="#1a1a1a" transform="rotate(-90 89.34 164.00)">(mean ± SEM)</text>
<line x1="105.00" y1="141.00" x2="108.20" y2="141.00" stroke="#ee4a55" stroke-width="0.6"/>
<circle cx="106.60" cy="141.00" r="1.05" fill="#ee4a55"/>
<text class="d" x="109.90" y="142.24" font-size="3.44" fill="#1a1a1a">Isotype IgG-GGFG-DXd</text>
<line x1="105.00" y1="146.10" x2="108.20" y2="146.10" stroke="#3b3be6" stroke-width="0.6"/>
<circle cx="106.60" cy="146.10" r="1.05" fill="#3b3be6"/>
<text class="d" x="109.90" y="147.34" font-size="3.44" fill="#1a1a1a">Isotype IgG-T800-exatecan</text>
<line x1="105.00" y1="151.20" x2="108.20" y2="151.20" stroke="#e8262c" stroke-width="0.6"/>
<circle cx="106.60" cy="151.20" r="1.05" fill="#e8262c"/>
<text class="d" x="109.90" y="152.44" font-size="3.44" fill="#1a1a1a">P-GGFG-DXd</text>
<line x1="105.00" y1="156.30" x2="108.20" y2="156.30" stroke="#2424d6" stroke-width="0.6"/>
<circle cx="106.60" cy="156.30" r="1.05" fill="#2424d6"/>
<text class="d" x="109.90" y="157.54" font-size="3.44" fill="#1a1a1a">AMT-562</text>
<path d="M102.20,213.00 L100.90,216.00 L103.50,216.00 Z" stroke="none" stroke-width="0.5" fill="#a8304a"/>
<line x1="102.20" y1="215.80" x2="102.20" y2="217.60" stroke="#a8304a" stroke-width="1.0"/>
<path d="M101.70,217.40 L100.90,220.40 M102.70,217.40 L103.50,220.40" stroke="#e87a90" stroke-width="0.8" fill="none"/>
<path d="M114.80,213.00 L113.50,216.00 L116.10,216.00 Z" stroke="none" stroke-width="0.5" fill="#a8304a"/>
<line x1="114.80" y1="215.80" x2="114.80" y2="217.60" stroke="#a8304a" stroke-width="1.0"/>
<path d="M114.30,217.40 L113.50,220.40 M115.30,217.40 L116.10,220.40" stroke="#e87a90" stroke-width="0.8" fill="none"/>
<path d="M127.40,213.00 L126.10,216.00 L128.70,216.00 Z" stroke="none" stroke-width="0.5" fill="#a8304a"/>
<line x1="127.40" y1="215.80" x2="127.40" y2="217.60" stroke="#a8304a" stroke-width="1.0"/>
<path d="M126.90,217.40 L126.10,220.40 M127.90,217.40 L128.70,220.40" stroke="#e87a90" stroke-width="0.8" fill="none"/>
<polyline points="165.00,159.50 167.90,159.50 167.90,179.30 165.00,179.30" fill="none" stroke="#999" stroke-width="0.45"/>
<polyline points="168.50,159.50 172.70,159.50 172.70,188.10 166.00,188.10" fill="none" stroke="#999" stroke-width="0.45"/>
<text class="d" x="169.74" y="169.40" font-size="3.20" text-anchor="middle" fill="#1a1a1a" transform="rotate(90 169.74 169.40)">***</text>
<text class="d" x="175.54" y="173.80" font-size="3.20" text-anchor="middle" fill="#1a1a1a" transform="rotate(90 175.54 173.80)">****</text>
<text class="d" x="196.40" y="131.50" font-size="12.20" font-weight="bold">E</text>
<text class="d" x="259.00" y="143.70" font-size="4.50" text-anchor="middle" fill="#1a1a1a">CRC efficacy comparison</text>
<line x1="221.00" y1="215.60" x2="221.00" y2="156.30" stroke="#000" stroke-width="0.55"/>
<line x1="220.70" y1="215.30" x2="304.80" y2="215.30" stroke="#000" stroke-width="0.55"/>
<line x1="219.60" y1="156.48" x2="221.00" y2="156.48" stroke="#000" stroke-width="0.45"/>
<text class="d" x="219.10" y="157.68" font-size="3.40" text-anchor="end" fill="#1a1a1a">800</text>
<line x1="219.60" y1="168.26" x2="221.00" y2="168.26" stroke="#000" stroke-width="0.45"/>
<text class="d" x="219.10" y="169.46" font-size="3.40" text-anchor="end" fill="#1a1a1a">600</text>
<line x1="219.60" y1="180.04" x2="221.00" y2="180.04" stroke="#000" stroke-width="0.45"/>
<text class="d" x="219.10" y="181.24" font-size="3.40" text-anchor="end" fill="#1a1a1a">400</text>
<line x1="219.60" y1="191.82" x2="221.00" y2="191.82" stroke="#000" stroke-width="0.45"/>
<text class="d" x="219.10" y="193.02" font-size="3.40" text-anchor="end" fill="#1a1a1a">200</text>
<line x1="219.60" y1="203.60" x2="221.00" y2="203.60" stroke="#000" stroke-width="0.45"/>
<text class="d" x="219.10" y="204.80" font-size="3.40" text-anchor="end" fill="#1a1a1a">0</text>
<line x1="219.60" y1="215.38" x2="221.00" y2="215.38" stroke="#000" stroke-width="0.45"/>
<text class="d" x="219.10" y="216.58" font-size="3.40" text-anchor="end" fill="#1a1a1a">-200</text>
<line x1="241.90" y1="215.30" x2="241.90" y2="216.70" stroke="#000" stroke-width="0.45"/>
<line x1="284.50" y1="215.30" x2="284.50" y2="216.70" stroke="#000" stroke-width="0.45"/>
<text class="d" x="241.90" y="223.20" font-size="3.60" text-anchor="middle" fill="#1a1a1a">P-GGFG-DXd</text>
<text class="d" x="284.50" y="223.20" font-size="3.60" text-anchor="middle" fill="#1a1a1a">AMT-562</text>
<text class="d" x="204.04" y="181.50" font-size="4.35" text-anchor="middle" fill="#1a1a1a" transform="rotate(-90 204.04 181.50)">Tumor volume change from baseline (%)</text>
<path d="M241.90,162.00 L245.40,164.00 L249.40,167.00 L252.70,170.00 L254.20,172.30 L253.40,175.00 L250.90,178.00 L248.80,181.00 L250.40,184.00 L253.20,187.00 L254.20,189.70 L253.40,193.00 L251.40,197.00 L249.40,201.00 L247.90,205.00 L246.90,208.30 L236.90,208.30 L235.90,205.00 L234.40,201.00 L232.40,197.00 L230.40,193.00 L229.60,189.70 L230.60,187.00 L233.40,184.00 L235.00,181.00 L232.90,178.00 L230.40,175.00 L229.60,172.30 L231.10,170.00 L234.40,167.00 L238.40,164.00 L241.90,162.00Z" fill="#fff" stroke="#e8262c" stroke-width="0.7"/>
<line x1="229.90" y1="188.60" x2="253.90" y2="188.60" stroke="#f08080" stroke-width="0.35" stroke-dasharray="1,0.8"/>
<line x1="231.40" y1="176.50" x2="252.40" y2="176.50" stroke="#f08080" stroke-width="0.3" stroke-dasharray="0.6,0.8"/>
<line x1="232.40" y1="197.50" x2="251.40" y2="197.50" stroke="#f08080" stroke-width="0.3" stroke-dasharray="0.6,0.8"/>
<circle cx="241.90" cy="162.90" r="1.2" fill="#e8262c"/>
<circle cx="239.90" cy="174.90" r="1.2" fill="#e8262c"/>
<circle cx="244.70" cy="173.40" r="1.2" fill="#e8262c"/>
<circle cx="239.90" cy="189.70" r="1.2" fill="#e8262c"/>
<circle cx="244.70" cy="188.20" r="1.2" fill="#e8262c"/>
<circle cx="241.90" cy="197.40" r="1.2" fill="#e8262c"/>
<circle cx="241.90" cy="207.60" r="1.2" fill="#e8262c"/>
<path d="M288.80,176.20 L289.50,178.00 L289.30,181.00 L288.00,184.00 L286.70,187.00 L286.10,189.80 L287.00,192.00 L289.50,195.00 L293.50,198.00 L297.30,201.00 L299.00,203.50 L298.00,206.00 L294.50,208.50 L288.50,210.50 L280.50,210.50 L274.50,208.50 L271.00,206.00 L270.00,203.50 L271.70,201.00 L275.50,198.00 L279.50,195.00 L282.00,192.00 L282.90,189.80 L282.30,187.00 L281.00,184.00 L279.70,181.00 L279.50,178.00 L280.20,176.20Z" fill="#fff" stroke="#2424d6" stroke-width="0.7"/>
<line x1="271.50" y1="202.50" x2="297.50" y2="202.50" stroke="#8080f0" stroke-width="0.3" stroke-dasharray="0.6,0.8"/>
<line x1="221.00" y1="203.60" x2="303.70" y2="203.60" stroke="#000" stroke-width="0.6" stroke-dasharray="1.2,0.9"/>
<circle cx="284.50" cy="177.30" r="1.2" fill="#2424d6"/>
<circle cx="284.50" cy="183.90" r="1.2" fill="#2424d6"/>
<circle cx="279.20" cy="202.90" r="1.2" fill="#2424d6"/>
<circle cx="282.90" cy="202.00" r="1.2" fill="#2424d6"/>
<circle cx="285.80" cy="202.40" r="1.2" fill="#2424d6"/>
<circle cx="288.40" cy="202.90" r="1.2" fill="#2424d6"/>
<circle cx="284.50" cy="206.10" r="1.2" fill="#2424d6"/>
<circle cx="284.50" cy="209.80" r="1.2" fill="#2424d6"/>
<polyline points="241.90,158.60 241.90,155.50 284.50,155.50 284.50,173.40" fill="none" stroke="#000" stroke-width="0.55"/>
<text class="d" x="262.70" y="156.60" font-size="5.60" text-anchor="middle" fill="#1a1a1a">*</text>
<text class="d" x="335.60" y="131.30" font-size="12.20" font-weight="bold">F</text>
<rect x="368.60" y="135.80" width="6.20" height="2.30" fill="#e8262c"/>
<text class="d" x="378.00" y="138.30" font-size="4.10" fill="#1a1a1a">P-GGFG-DXd</text>
<rect x="368.60" y="141.10" width="6.20" height="2.30" fill="#2424d6"/>
<text class="d" x="378.00" y="143.60" font-size="4.10" fill="#1a1a1a">AMT-562</text>
<line x1="367.10" y1="145.30" x2="367.10" y2="176.60" stroke="#000" stroke-width="0.55"/>
<line x1="367.10" y1="178.40" x2="367.10" y2="211.20" stroke="#000" stroke-width="0.55"/>
<line x1="365.90" y1="177.90" x2="368.30" y2="176.50" stroke="#000" stroke-width="0.45"/>
<line x1="365.90" y1="179.10" x2="368.30" y2="177.70" stroke="#000" stroke-width="0.45"/>
<line x1="365.70" y1="145.54" x2="367.10" y2="145.54" stroke="#000" stroke-width="0.45"/>
<text class="d" x="365.20" y="146.84" font-size="3.70" text-anchor="end" fill="#1a1a1a">800</text>
<line x1="365.70" y1="153.18" x2="367.10" y2="153.18" stroke="#000" stroke-width="0.45"/>
<text class="d" x="365.20" y="154.48" font-size="3.70" text-anchor="end" fill="#1a1a1a">600</text>
<line x1="365.70" y1="160.82" x2="367.10" y2="160.82" stroke="#000" stroke-width="0.45"/>
<text class="d" x="365.20" y="162.12" font-size="3.70" text-anchor="end" fill="#1a1a1a">400</text>
<line x1="365.70" y1="168.46" x2="367.10" y2="168.46" stroke="#000" stroke-width="0.45"/>
<text class="d" x="365.20" y="169.76" font-size="3.70" text-anchor="end" fill="#1a1a1a">200</text>
<line x1="365.70" y1="176.10" x2="367.10" y2="176.10" stroke="#000" stroke-width="0.45"/>
<text class="d" x="365.20" y="177.40" font-size="3.70" text-anchor="end" fill="#1a1a1a">0</text>
<line x1="365.70" y1="185.30" x2="367.10" y2="185.30" stroke="#000" stroke-width="0.45"/>
<text class="d" x="365.20" y="186.60" font-size="3.60" text-anchor="end" fill="#1a1a1a">-20</text>
<line x1="365.70" y1="191.70" x2="367.10" y2="191.70" stroke="#000" stroke-width="0.45"/>
<text class="d" x="365.20" y="193.00" font-size="3.60" text-anchor="end" fill="#1a1a1a">-40</text>
<line x1="365.70" y1="198.10" x2="367.10" y2="198.10" stroke="#000" stroke-width="0.45"/>
<text class="d" x="365.20" y="199.40" font-size="3.60" text-anchor="end" fill="#1a1a1a">-60</text>
<line x1="365.70" y1="204.50" x2="367.10" y2="204.50" stroke="#000" stroke-width="0.45"/>
<text class="d" x="365.20" y="205.80" font-size="3.60" text-anchor="end" fill="#1a1a1a">-80</text>
<line x1="365.70" y1="210.90" x2="367.10" y2="210.90" stroke="#000" stroke-width="0.45"/>
<text class="d" x="365.20" y="212.20" font-size="3.60" text-anchor="end" fill="#1a1a1a">-100</text>
<line x1="367.10" y1="178.90" x2="511.00" y2="178.90" stroke="#b8c4d8" stroke-width="0.55"/>
<line x1="366.80" y1="211.00" x2="511.00" y2="211.00" stroke="#000" stroke-width="0.55"/>
<line x1="375.00" y1="211.00" x2="375.00" y2="212.40" stroke="#000" stroke-width="0.45"/>
<text class="d" x="375.00" y="218.00" font-size="3.80" text-anchor="middle" fill="#1a1a1a">361926</text>
<rect x="369.10" y="150.12" width="4.80" height="25.98" fill="#e8262c"/>
<rect x="376.20" y="163.88" width="4.60" height="12.22" fill="#2424d6"/>
<line x1="393.30" y1="211.00" x2="393.30" y2="212.40" stroke="#000" stroke-width="0.45"/>
<text class="d" x="393.30" y="218.00" font-size="3.80" text-anchor="middle" fill="#1a1a1a">SW837</text>
<rect x="387.40" y="169.22" width="4.80" height="6.88" fill="#e8262c"/>
<rect x="394.50" y="173.81" width="4.60" height="2.29" fill="#2424d6"/>
<line x1="411.60" y1="211.00" x2="411.60" y2="212.40" stroke="#000" stroke-width="0.45"/>
<text class="d" x="411.60" y="218.00" font-size="3.80" text-anchor="middle" fill="#1a1a1a">361970</text>
<rect x="405.70" y="157.76" width="4.80" height="18.34" fill="#e8262c"/>
<rect x="412.80" y="175.14" width="4.60" height="0.96" fill="#2424d6"/>
<line x1="429.90" y1="211.00" x2="429.90" y2="212.40" stroke="#000" stroke-width="0.45"/>
<text class="d" x="429.90" y="218.00" font-size="3.80" text-anchor="middle" fill="#1a1a1a">COLO205</text>
<rect x="424.00" y="166.55" width="4.80" height="9.55" fill="#e8262c"/>
<rect x="431.10" y="175.14" width="4.60" height="0.96" fill="#2424d6"/>
<line x1="448.20" y1="211.00" x2="448.20" y2="212.40" stroke="#000" stroke-width="0.45"/>
<text class="d" x="448.20" y="218.00" font-size="3.80" text-anchor="middle" fill="#1a1a1a">360837</text>
<rect x="442.30" y="167.70" width="4.80" height="8.40" fill="#e8262c"/>
<rect x="449.40" y="175.34" width="4.60" height="0.76" fill="#2424d6"/>
<line x1="466.50" y1="211.00" x2="466.50" y2="212.40" stroke="#000" stroke-width="0.45"/>
<text class="d" x="466.50" y="218.00" font-size="3.80" text-anchor="middle" fill="#1a1a1a">361890</text>
<rect x="460.60" y="165.79" width="4.80" height="10.31" fill="#e8262c"/>
<rect x="467.70" y="178.90" width="4.60" height="1.60" fill="#2424d6"/>
<line x1="484.80" y1="211.00" x2="484.80" y2="212.40" stroke="#000" stroke-width="0.45"/>
<text class="d" x="484.80" y="218.00" font-size="3.80" text-anchor="middle" fill="#1a1a1a">361755</text>
<rect x="478.90" y="172.28" width="4.80" height="3.82" fill="#e8262c"/>
<rect x="486.00" y="178.90" width="4.60" height="9.60" fill="#2424d6"/>
<line x1="503.10" y1="211.00" x2="503.10" y2="212.40" stroke="#000" stroke-width="0.45"/>
<text class="d" x="503.10" y="218.00" font-size="3.80" text-anchor="middle" fill="#1a1a1a">361423</text>
<rect x="497.20" y="169.99" width="4.80" height="6.11" fill="#e8262c"/>
<rect x="504.30" y="178.90" width="4.60" height="25.60" fill="#2424d6"/>
<text class="d" x="344.90" y="176.00" font-size="3.95" text-anchor="middle" fill="#1a1a1a" transform="rotate(-90 344.90 176.00)">Tumor volume change</text>
<text class="d" x="350.29" y="176.00" font-size="3.60" text-anchor="middle" fill="#1a1a1a" transform="rotate(-90 350.29 176.00)">from baseline (%)</text>
<rect x="340.70" y="219.60" width="24.00" height="11.00" fill="#f6bf33"/>
<text class="d" x="352.70" y="224.60" font-size="3.70" text-anchor="middle" fill="#1a1a1a">HER3</text>
<text class="d" x="352.70" y="228.70" font-size="3.70" text-anchor="middle" fill="#1a1a1a">expression</text>
<rect x="340.70" y="231.60" width="24.00" height="10.20" fill="#d0d0d0"/>
<text class="d" x="352.70" y="236.20" font-size="3.70" text-anchor="middle" fill="#1a1a1a">TP53</text>
<text class="d" x="352.70" y="240.30" font-size="3.70" text-anchor="middle" fill="#1a1a1a">mutations</text>
<rect x="340.70" y="242.80" width="24.00" height="10.60" fill="#d0d0d0"/>
<text class="d" x="352.70" y="247.60" font-size="3.70" text-anchor="middle" fill="#1a1a1a">KRAS</text>
<text class="d" x="352.70" y="251.70" font-size="3.70" text-anchor="middle" fill="#1a1a1a">mutations</text>
<rect x="340.70" y="254.60" width="24.00" height="10.60" fill="#d0d0d0"/>
<text class="d" x="352.70" y="259.40" font-size="3.70" text-anchor="middle" fill="#1a1a1a">BRAF</text>
<text class="d" x="352.70" y="263.50" font-size="3.70" text-anchor="middle" fill="#1a1a1a">mutations</text>
<rect x="340.70" y="266.30" width="24.00" height="8.00" fill="#d0d0d0"/>
<text class="d" x="352.70" y="271.60" font-size="3.75" text-anchor="middle" fill="#1a1a1a">Amplifications</text>
<rect x="364.40" y="219.60" width="19.40" height="11.00" fill="#f6bf33"/>
<text class="d" x="374.10" y="226.35" font-size="3.50" text-anchor="middle" fill="#1a1a1a">3+</text>
<rect x="365.40" y="231.60" width="17.40" height="10.20" fill="#edf0ea"/>
<text class="d" x="374.10" y="236.10" font-size="3.40" text-anchor="middle" fill="#1a1a1a">V1305fs*8</text>
<text class="d" x="374.10" y="239.90" font-size="3.40" text-anchor="middle" fill="#1a1a1a">A</text>
<rect x="365.40" y="242.80" width="17.40" height="10.60" fill="#f1f1f1"/>
<rect x="365.40" y="266.30" width="17.40" height="8.00" fill="#10b0f0"/>
<text x="374.10" y="271.55" font-size="3.50" text-anchor="middle" fill="#fff">ERBB2</text>
<rect x="365.40" y="254.60" width="17.40" height="10.60" fill="#f1f1f1"/>
<rect x="382.70" y="219.60" width="19.40" height="11.00" fill="#f6bf33"/>
<text class="d" x="392.40" y="226.35" font-size="3.50" text-anchor="middle" fill="#1a1a1a">1+</text>
<rect x="383.70" y="231.60" width="17.40" height="10.20" fill="#7030a0"/>
<text x="392.40" y="237.95" font-size="3.50" text-anchor="middle" fill="#fff">R248W</text>
<rect x="383.70" y="242.80" width="17.40" height="10.60" fill="#2e5597"/>
<text x="392.40" y="249.35" font-size="3.50" text-anchor="middle" fill="#fff">G12C</text>
<rect x="383.70" y="266.30" width="17.40" height="8.00" fill="#d42ad4"/>
<text x="392.40" y="271.55" font-size="3.50" text-anchor="middle" fill="#fff">FGFR1</text>
<rect x="383.70" y="254.60" width="17.40" height="10.60" fill="#f1f1f1"/>
<rect x="401.00" y="219.60" width="19.40" height="11.00" fill="#f6bf33"/>
<text class="d" x="410.70" y="226.35" font-size="3.50" text-anchor="middle" fill="#1a1a1a">2+</text>
<rect x="402.00" y="231.60" width="17.40" height="10.20" fill="#edf0ea"/>
<text class="d" x="410.70" y="237.95" font-size="3.50" text-anchor="middle" fill="#1a1a1a">L40R</text>
<rect x="402.00" y="242.80" width="17.40" height="10.60" fill="#7f6000"/>
<text x="410.70" y="249.35" font-size="3.50" text-anchor="middle" fill="#fff">G12D</text>
<rect x="402.00" y="266.30" width="17.40" height="8.00" fill="#f1f1f1"/>
<rect x="402.00" y="254.60" width="17.40" height="10.60" fill="#f1f1f1"/>
<rect x="419.30" y="219.60" width="19.40" height="11.00" fill="#f6bf33"/>
<text class="d" x="429.00" y="226.35" font-size="3.50" text-anchor="middle" fill="#1a1a1a">1+</text>
<rect x="420.30" y="231.60" width="17.40" height="10.20" fill="#f1f1f1"/>
<rect x="420.30" y="242.80" width="17.40" height="10.60" fill="#f1f1f1"/>
<rect x="420.30" y="266.30" width="17.40" height="8.00" fill="#ee7d31"/>
<text x="429.00" y="271.55" font-size="3.50" text-anchor="middle" fill="#fff">BRCA2</text>
<rect x="420.30" y="254.60" width="17.40" height="10.60" fill="#70b845"/>
<text class="d" x="430.99" y="259.90" font-size="3.00" text-anchor="middle" fill="#1a1a1a" transform="rotate(-90 430.99 259.90)">V600E</text>
<text class="d" x="427.79" y="259.90" font-size="3.00" text-anchor="middle" fill="#1a1a1a" transform="rotate(-90 427.79 259.90)">V600E</text>
<rect x="437.60" y="219.60" width="19.40" height="11.00" fill="#f6bf33"/>
<text class="d" x="447.30" y="226.35" font-size="3.50" text-anchor="middle" fill="#1a1a1a">1+</text>
<rect x="438.60" y="231.60" width="17.40" height="10.20" fill="#edf0ea"/>
<text class="d" x="447.30" y="237.95" font-size="3.50" text-anchor="middle" fill="#1a1a1a">R342X</text>
<rect x="438.60" y="242.80" width="17.40" height="10.60" fill="#2e5597"/>
<text x="447.30" y="249.35" font-size="3.50" text-anchor="middle" fill="#fff">G12C</text>
<rect x="438.60" y="266.30" width="17.40" height="8.00" fill="#f1f1f1"/>
<rect x="438.60" y="254.60" width="17.40" height="10.60" fill="#f1f1f1"/>
<rect x="455.90" y="219.60" width="19.40" height="11.00" fill="#f6bf33"/>
<text class="d" x="465.60" y="226.35" font-size="3.50" text-anchor="middle" fill="#1a1a1a">3+</text>
<rect x="456.90" y="231.60" width="17.40" height="10.20" fill="#7030a0"/>
<text x="465.60" y="237.95" font-size="3.50" text-anchor="middle" fill="#fff">R273H</text>
<rect x="456.90" y="242.80" width="17.40" height="10.60" fill="#f1f1f1"/>
<rect x="456.90" y="266.30" width="17.40" height="8.00" fill="#f1f1f1"/>
<rect x="456.90" y="254.60" width="17.40" height="10.60" fill="#f1f1f1"/>
<rect x="474.20" y="219.60" width="19.40" height="11.00" fill="#f6bf33"/>
<text class="d" x="483.90" y="226.35" font-size="3.50" text-anchor="middle" fill="#1a1a1a">3+</text>
<rect x="475.20" y="231.60" width="17.40" height="10.20" fill="#edf0ea"/>
<text class="d" x="483.90" y="237.95" font-size="3.50" text-anchor="middle" fill="#1a1a1a">G244C</text>
<rect x="475.20" y="242.80" width="17.40" height="10.60" fill="#3a3a4a"/>
<text x="483.90" y="249.35" font-size="3.50" text-anchor="middle" fill="#fff">G12S</text>
<rect x="475.20" y="266.30" width="17.40" height="8.00" fill="#f1f1f1"/>
<rect x="475.20" y="254.60" width="17.40" height="10.60" fill="#f1f1f1"/>
<rect x="492.50" y="219.60" width="19.40" height="11.00" fill="#f6bf33"/>
<text class="d" x="502.20" y="226.35" font-size="3.50" text-anchor="middle" fill="#1a1a1a">1+</text>
<rect x="493.50" y="231.60" width="17.40" height="10.20" fill="#edf0ea"/>
<text class="d" x="502.20" y="237.95" font-size="3.50" text-anchor="middle" fill="#1a1a1a">C176R</text>
<rect x="493.50" y="242.80" width="17.40" height="10.60" fill="#7f6000"/>
<text x="502.20" y="249.35" font-size="3.50" text-anchor="middle" fill="#fff">G12D</text>
<rect x="493.50" y="266.30" width="17.40" height="8.00" fill="#f1f1f1"/>
<rect x="493.50" y="254.60" width="17.40" height="10.60" fill="#f1f1f1"/>
<line x1="364.95" y1="219.60" x2="364.95" y2="230.60" stroke="#fbe0a0" stroke-width="0.45"/>
<line x1="383.25" y1="219.60" x2="383.25" y2="230.60" stroke="#fbe0a0" stroke-width="0.45"/>
<line x1="401.55" y1="219.60" x2="401.55" y2="230.60" stroke="#fbe0a0" stroke-width="0.45"/>
<line x1="419.85" y1="219.60" x2="419.85" y2="230.60" stroke="#fbe0a0" stroke-width="0.45"/>
<line x1="438.15" y1="219.60" x2="438.15" y2="230.60" stroke="#fbe0a0" stroke-width="0.45"/>
<line x1="456.45" y1="219.60" x2="456.45" y2="230.60" stroke="#fbe0a0" stroke-width="0.45"/>
<line x1="474.75" y1="219.60" x2="474.75" y2="230.60" stroke="#fbe0a0" stroke-width="0.45"/>
<line x1="493.05" y1="219.60" x2="493.05" y2="230.60" stroke="#fbe0a0" stroke-width="0.45"/>
<text class="d" x="1.00" y="267.50" font-size="12.20" font-weight="bold">G</text>
<line x1="24.50" y1="348.47" x2="24.50" y2="292.70" stroke="#000" stroke-width="0.55"/>
<line x1="24.23" y1="348.20" x2="87.00" y2="348.20" stroke="#000" stroke-width="0.55"/>
<line x1="23.00" y1="348.20" x2="24.50" y2="348.20" stroke="#000" stroke-width="0.45"/>
<text class="d" x="22.50" y="349.60" font-size="3.90" text-anchor="end" fill="#1a1a1a">0</text>
<line x1="23.00" y1="337.10" x2="24.50" y2="337.10" stroke="#000" stroke-width="0.45"/>
<text class="d" x="22.50" y="338.50" font-size="3.90" text-anchor="end" fill="#1a1a1a">500</text>
<line x1="23.00" y1="326.00" x2="24.50" y2="326.00" stroke="#000" stroke-width="0.45"/>
<text class="d" x="22.50" y="327.40" font-size="3.90" text-anchor="end" fill="#1a1a1a">1,000</text>
<line x1="23.00" y1="314.90" x2="24.50" y2="314.90" stroke="#000" stroke-width="0.45"/>
<text class="d" x="22.50" y="316.30" font-size="3.90" text-anchor="end" fill="#1a1a1a">1,500</text>
<line x1="23.00" y1="303.80" x2="24.50" y2="303.80" stroke="#000" stroke-width="0.45"/>
<text class="d" x="22.50" y="305.20" font-size="3.90" text-anchor="end" fill="#1a1a1a">2,000</text>
<line x1="23.00" y1="292.70" x2="24.50" y2="292.70" stroke="#000" stroke-width="0.45"/>
<text class="d" x="22.50" y="294.10" font-size="3.90" text-anchor="end" fill="#1a1a1a">2,500</text>
<line x1="24.50" y1="348.20" x2="24.50" y2="349.70" stroke="#000" stroke-width="0.45"/>
<text class="d" x="24.50" y="353.30" font-size="3.90" text-anchor="middle" fill="#1a1a1a">0</text>
<line x1="37.30" y1="348.20" x2="37.30" y2="349.70" stroke="#000" stroke-width="0.45"/>
<text class="d" x="37.30" y="353.30" font-size="3.90" text-anchor="middle" fill="#1a1a1a">10</text>
<line x1="50.10" y1="348.20" x2="50.10" y2="349.70" stroke="#000" stroke-width="0.45"/>
<text class="d" x="50.10" y="353.30" font-size="3.90" text-anchor="middle" fill="#1a1a1a">20</text>
<line x1="62.90" y1="348.20" x2="62.90" y2="349.70" stroke="#000" stroke-width="0.45"/>
<text class="d" x="62.90" y="353.30" font-size="3.90" text-anchor="middle" fill="#1a1a1a">30</text>
<line x1="75.70" y1="348.20" x2="75.70" y2="349.70" stroke="#000" stroke-width="0.45"/>
<text class="d" x="75.70" y="353.30" font-size="3.90" text-anchor="middle" fill="#1a1a1a">40</text>
<line x1="88.50" y1="348.20" x2="88.50" y2="349.70" stroke="#000" stroke-width="0.45"/>
<text class="d" x="88.50" y="353.30" font-size="3.90" text-anchor="middle" fill="#1a1a1a">50</text>
<path d="M28.34,343.54V342.37M27.59,342.37h1.5M33.46,341.54V339.88M32.71,339.88h1.5M37.30,339.76V337.65M36.55,337.65h1.5M42.42,336.66V333.77M41.67,333.77h1.5M46.26,332.66V328.77M45.51,328.77h1.5M51.38,327.11V321.84M50.63,321.84h1.5M55.22,322.67V316.29M54.47,316.29h1.5M60.34,317.12V309.35M59.59,309.35h1.5M64.18,312.68V303.80M63.43,303.80h1.5M69.30,307.13V296.86M68.55,296.86h1.5" stroke="#151515" stroke-width="0.5" fill="none"/>
<polyline points="24.50,344.43 28.34,343.54 33.46,341.54 37.30,339.76 42.42,336.66 46.26,332.66 51.38,327.11 55.22,322.67 60.34,317.12 64.18,312.68 69.30,307.13" fill="none" stroke="#151515" stroke-width="0.72"/>
<path d="M23.30,344.43a1.2,1.2 0 1,0 2.4,0a1.2,1.2 0 1,0 -2.4,0M27.14,343.54a1.2,1.2 0 1,0 2.4,0a1.2,1.2 0 1,0 -2.4,0M32.26,341.54a1.2,1.2 0 1,0 2.4,0a1.2,1.2 0 1,0 -2.4,0M36.10,339.76a1.2,1.2 0 1,0 2.4,0a1.2,1.2 0 1,0 -2.4,0M41.22,336.66a1.2,1.2 0 1,0 2.4,0a1.2,1.2 0 1,0 -2.4,0M45.06,332.66a1.2,1.2 0 1,0 2.4,0a1.2,1.2 0 1,0 -2.4,0M50.18,327.11a1.2,1.2 0 1,0 2.4,0a1.2,1.2 0 1,0 -2.4,0M54.02,322.67a1.2,1.2 0 1,0 2.4,0a1.2,1.2 0 1,0 -2.4,0M59.14,317.12a1.2,1.2 0 1,0 2.4,0a1.2,1.2 0 1,0 -2.4,0M62.98,312.68a1.2,1.2 0 1,0 2.4,0a1.2,1.2 0 1,0 -2.4,0M68.10,307.13a1.2,1.2 0 1,0 2.4,0a1.2,1.2 0 1,0 -2.4,0" fill="#151515"/>
<path d="M28.34,343.98V343.03M27.59,343.03h1.5M33.46,342.87V341.67M32.71,341.67h1.5M37.30,341.54V340.04M36.55,340.04h1.5M42.42,340.21V338.41M41.67,338.41h1.5M46.26,338.65V336.51M45.51,336.51h1.5M51.38,336.66V334.06M50.63,334.06h1.5M55.22,334.44V331.34M54.47,331.34h1.5M60.34,331.55V327.80M59.59,327.80h1.5M64.18,328.22V323.72M63.43,323.72h1.5M69.30,324.89V319.65M68.55,319.65h1.5M73.14,319.34V312.85M72.39,312.85h1.5M78.26,313.79V306.05M77.51,306.05h1.5M82.10,307.13V297.89M81.35,297.89h1.5" stroke="#e8262c" stroke-width="0.5" fill="none"/>
<polyline points="24.50,344.43 28.34,343.98 33.46,342.87 37.30,341.54 42.42,340.21 46.26,338.65 51.38,336.66 55.22,334.44 60.34,331.55 64.18,328.22 69.30,324.89 73.14,319.34 78.26,313.79 82.10,307.13" fill="none" stroke="#e8262c" stroke-width="0.72"/>
<path d="M23.30,344.43a1.2,1.2 0 1,0 2.4,0a1.2,1.2 0 1,0 -2.4,0M27.14,343.98a1.2,1.2 0 1,0 2.4,0a1.2,1.2 0 1,0 -2.4,0M32.26,342.87a1.2,1.2 0 1,0 2.4,0a1.2,1.2 0 1,0 -2.4,0M36.10,341.54a1.2,1.2 0 1,0 2.4,0a1.2,1.2 0 1,0 -2.4,0M41.22,340.21a1.2,1.2 0 1,0 2.4,0a1.2,1.2 0 1,0 -2.4,0M45.06,338.65a1.2,1.2 0 1,0 2.4,0a1.2,1.2 0 1,0 -2.4,0M50.18,336.66a1.2,1.2 0 1,0 2.4,0a1.2,1.2 0 1,0 -2.4,0M54.02,334.44a1.2,1.2 0 1,0 2.4,0a1.2,1.2 0 1,0 -2.4,0M59.14,331.55a1.2,1.2 0 1,0 2.4,0a1.2,1.2 0 1,0 -2.4,0M62.98,328.22a1.2,1.2 0 1,0 2.4,0a1.2,1.2 0 1,0 -2.4,0M68.10,324.89a1.2,1.2 0 1,0 2.4,0a1.2,1.2 0 1,0 -2.4,0M71.94,319.34a1.2,1.2 0 1,0 2.4,0a1.2,1.2 0 1,0 -2.4,0M77.06,313.79a1.2,1.2 0 1,0 2.4,0a1.2,1.2 0 1,0 -2.4,0M80.90,307.13a1.2,1.2 0 1,0 2.4,0a1.2,1.2 0 1,0 -2.4,0" fill="#e8262c"/>
<path d="M28.34,343.98V343.19M27.59,343.19h1.5M33.46,343.09V342.14M32.71,342.14h1.5M37.30,341.98V340.82M36.55,340.82h1.5M42.42,340.87V339.50M41.67,339.50h1.5M46.26,339.54V337.92M45.51,337.92h1.5M51.38,338.21V336.34M50.63,336.34h1.5M55.22,336.66V334.49M54.47,334.49h1.5M60.34,334.88V332.38M59.59,332.38h1.5M64.18,333.10V330.27M63.43,330.27h1.5M69.30,331.55V328.43M68.55,328.43h1.5M73.14,329.33V325.79M72.39,325.79h1.5M78.26,326.00V321.84M77.51,321.84h1.5M82.10,322.67V317.88M81.35,317.88h1.5" stroke="#2424d6" stroke-width="0.5" fill="none"/>
<polyline points="24.50,344.43 28.34,343.98 33.46,343.09 37.30,341.98 42.42,340.87 46.26,339.54 51.38,338.21 55.22,336.66 60.34,334.88 64.18,333.10 69.30,331.55 73.14,329.33 78.26,326.00 82.10,322.67" fill="none" stroke="#2424d6" stroke-width="0.72"/>
<path d="M23.30,344.43a1.2,1.2 0 1,0 2.4,0a1.2,1.2 0 1,0 -2.4,0M27.14,343.98a1.2,1.2 0 1,0 2.4,0a1.2,1.2 0 1,0 -2.4,0M32.26,343.09a1.2,1.2 0 1,0 2.4,0a1.2,1.2 0 1,0 -2.4,0M36.10,341.98a1.2,1.2 0 1,0 2.4,0a1.2,1.2 0 1,0 -2.4,0M41.22,340.87a1.2,1.2 0 1,0 2.4,0a1.2,1.2 0 1,0 -2.4,0M45.06,339.54a1.2,1.2 0 1,0 2.4,0a1.2,1.2 0 1,0 -2.4,0M50.18,338.21a1.2,1.2 0 1,0 2.4,0a1.2,1.2 0 1,0 -2.4,0M54.02,336.66a1.2,1.2 0 1,0 2.4,0a1.2,1.2 0 1,0 -2.4,0M59.14,334.88a1.2,1.2 0 1,0 2.4,0a1.2,1.2 0 1,0 -2.4,0M62.98,333.10a1.2,1.2 0 1,0 2.4,0a1.2,1.2 0 1,0 -2.4,0M68.10,331.55a1.2,1.2 0 1,0 2.4,0a1.2,1.2 0 1,0 -2.4,0M71.94,329.33a1.2,1.2 0 1,0 2.4,0a1.2,1.2 0 1,0 -2.4,0M77.06,326.00a1.2,1.2 0 1,0 2.4,0a1.2,1.2 0 1,0 -2.4,0M80.90,322.67a1.2,1.2 0 1,0 2.4,0a1.2,1.2 0 1,0 -2.4,0" fill="#2424d6"/>
<path d="M28.34,344.09V343.32M27.59,343.32h1.5M33.46,343.32V342.40M32.71,342.40h1.5M37.30,342.43V341.35M36.55,341.35h1.5M42.42,341.54V340.29M41.67,340.29h1.5M46.26,340.65V339.24M45.51,339.24h1.5M51.38,339.54V337.92M50.63,337.92h1.5M55.22,338.43V336.60M54.47,336.60h1.5M60.34,337.10V335.02M59.59,335.02h1.5M64.18,335.77V333.44M63.43,333.44h1.5M69.30,334.44V331.86M68.55,331.86h1.5M73.14,333.10V330.27M72.39,330.27h1.5M78.26,331.77V328.69M77.51,328.69h1.5M82.10,330.44V327.11M81.35,327.11h1.5" stroke="#a23fe0" stroke-width="0.5" fill="none"/>
<polyline points="24.50,344.43 28.34,344.09 33.46,343.32 37.30,342.43 42.42,341.54 46.26,340.65 51.38,339.54 55.22,338.43 60.34,337.10 64.18,335.77 69.30,334.44 73.14,333.10 78.26,331.77 82.10,330.44" fill="none" stroke="#a23fe0" stroke-width="0.72"/>
<path d="M23.30,344.43a1.2,1.2 0 1,0 2.4,0a1.2,1.2 0 1,0 -2.4,0M27.14,344.09a1.2,1.2 0 1,0 2.4,0a1.2,1.2 0 1,0 -2.4,0M32.26,343.32a1.2,1.2 0 1,0 2.4,0a1.2,1.2 0 1,0 -2.4,0M36.10,342.43a1.2,1.2 0 1,0 2.4,0a1.2,1.2 0 1,0 -2.4,0M41.22,341.54a1.2,1.2 0 1,0 2.4,0a1.2,1.2 0 1,0 -2.4,0M45.06,340.65a1.2,1.2 0 1,0 2.4,0a1.2,1.2 0 1,0 -2.4,0M50.18,339.54a1.2,1.2 0 1,0 2.4,0a1.2,1.2 0 1,0 -2.4,0M54.02,338.43a1.2,1.2 0 1,0 2.4,0a1.2,1.2 0 1,0 -2.4,0M59.14,337.10a1.2,1.2 0 1,0 2.4,0a1.2,1.2 0 1,0 -2.4,0M62.98,335.77a1.2,1.2 0 1,0 2.4,0a1.2,1.2 0 1,0 -2.4,0M68.10,334.44a1.2,1.2 0 1,0 2.4,0a1.2,1.2 0 1,0 -2.4,0M71.94,333.10a1.2,1.2 0 1,0 2.4,0a1.2,1.2 0 1,0 -2.4,0M77.06,331.77a1.2,1.2 0 1,0 2.4,0a1.2,1.2 0 1,0 -2.4,0M80.90,330.44a1.2,1.2 0 1,0 2.4,0a1.2,1.2 0 1,0 -2.4,0" fill="#a23fe0"/>
<path d="M28.34,344.20V343.20M27.59,343.20h1.5M33.46,343.76V342.65M32.71,342.65h1.5M37.30,343.32V342.09M36.55,342.09h1.5M42.42,342.87V341.54M41.67,341.54h1.5M46.26,342.43V340.99M45.51,340.99h1.5M51.38,341.98V340.43M50.63,340.43h1.5M55.22,341.54V339.88M54.47,339.88h1.5M60.34,341.10V339.32M59.59,339.32h1.5M64.18,340.65V338.76M63.43,338.76h1.5M69.30,340.21V338.21M68.55,338.21h1.5M73.14,339.88V337.79M72.39,337.79h1.5M78.26,339.54V337.38M77.51,337.38h1.5M82.10,339.32V337.10M81.35,337.10h1.5" stroke="#f07a62" stroke-width="0.5" fill="none"/>
<polyline points="24.50,344.43 28.34,344.20 33.46,343.76 37.30,343.32 42.42,342.87 46.26,342.43 51.38,341.98 55.22,341.54 60.34,341.10 64.18,340.65 69.30,340.21 73.14,339.88 78.26,339.54 82.10,339.32" fill="none" stroke="#f07a62" stroke-width="0.72"/>
<path d="M23.30,344.43a1.2,1.2 0 1,0 2.4,0a1.2,1.2 0 1,0 -2.4,0M27.14,344.20a1.2,1.2 0 1,0 2.4,0a1.2,1.2 0 1,0 -2.4,0M32.26,343.76a1.2,1.2 0 1,0 2.4,0a1.2,1.2 0 1,0 -2.4,0M36.10,343.32a1.2,1.2 0 1,0 2.4,0a1.2,1.2 0 1,0 -2.4,0M41.22,342.87a1.2,1.2 0 1,0 2.4,0a1.2,1.2 0 1,0 -2.4,0M45.06,342.43a1.2,1.2 0 1,0 2.4,0a1.2,1.2 0 1,0 -2.4,0M50.18,341.98a1.2,1.2 0 1,0 2.4,0a1.2,1.2 0 1,0 -2.4,0M54.02,341.54a1.2,1.2 0 1,0 2.4,0a1.2,1.2 0 1,0 -2.4,0M59.14,341.10a1.2,1.2 0 1,0 2.4,0a1.2,1.2 0 1,0 -2.4,0M62.98,340.65a1.2,1.2 0 1,0 2.4,0a1.2,1.2 0 1,0 -2.4,0M68.10,340.21a1.2,1.2 0 1,0 2.4,0a1.2,1.2 0 1,0 -2.4,0M71.94,339.88a1.2,1.2 0 1,0 2.4,0a1.2,1.2 0 1,0 -2.4,0M77.06,339.54a1.2,1.2 0 1,0 2.4,0a1.2,1.2 0 1,0 -2.4,0M80.90,339.32a1.2,1.2 0 1,0 2.4,0a1.2,1.2 0 1,0 -2.4,0" fill="#f07a62"/>
<path d="M28.34,344.31V343.34M27.59,343.34h1.5M33.46,343.98V342.93M32.71,342.93h1.5M37.30,343.76V342.65M36.55,342.65h1.5M42.42,343.54V342.37M41.67,342.37h1.5M46.26,343.43V342.23M45.51,342.23h1.5M51.38,343.32V342.09M50.63,342.09h1.5M55.22,343.20V341.96M54.47,341.96h1.5M60.34,343.09V341.82M59.59,341.82h1.5M64.18,342.98V341.68M63.43,341.68h1.5M69.30,342.87V341.54M68.55,341.54h1.5M73.14,342.81V341.46M72.39,341.46h1.5M78.26,342.72V341.35M77.51,341.35h1.5M82.10,342.65V341.26M81.35,341.26h1.5" stroke="#6a3ee6" stroke-width="0.5" fill="none"/>
<polyline points="24.50,344.43 28.34,344.31 33.46,343.98 37.30,343.76 42.42,343.54 46.26,343.43 51.38,343.32 55.22,343.20 60.34,343.09 64.18,342.98 69.30,342.87 73.14,342.81 78.26,342.72 82.10,342.65" fill="none" stroke="#6a3ee6" stroke-width="0.72"/>
<path d="M23.30,344.43a1.2,1.2 0 1,0 2.4,0a1.2,1.2 0 1,0 -2.4,0M27.14,344.31a1.2,1.2 0 1,0 2.4,0a1.2,1.2 0 1,0 -2.4,0M32.26,343.98a1.2,1.2 0 1,0 2.4,0a1.2,1.2 0 1,0 -2.4,0M36.10,343.76a1.2,1.2 0 1,0 2.4,0a1.2,1.2 0 1,0 -2.4,0M41.22,343.54a1.2,1.2 0 1,0 2.4,0a1.2,1.2 0 1,0 -2.4,0M45.06,343.43a1.2,1.2 0 1,0 2.4,0a1.2,1.2 0 1,0 -2.4,0M50.18,343.32a1.2,1.2 0 1,0 2.4,0a1.2,1.2 0 1,0 -2.4,0M54.02,343.20a1.2,1.2 0 1,0 2.4,0a1.2,1.2 0 1,0 -2.4,0M59.14,343.09a1.2,1.2 0 1,0 2.4,0a1.2,1.2 0 1,0 -2.4,0M62.98,342.98a1.2,1.2 0 1,0 2.4,0a1.2,1.2 0 1,0 -2.4,0M68.10,342.87a1.2,1.2 0 1,0 2.4,0a1.2,1.2 0 1,0 -2.4,0M71.94,342.81a1.2,1.2 0 1,0 2.4,0a1.2,1.2 0 1,0 -2.4,0M77.06,342.72a1.2,1.2 0 1,0 2.4,0a1.2,1.2 0 1,0 -2.4,0M80.90,342.65a1.2,1.2 0 1,0 2.4,0a1.2,1.2 0 1,0 -2.4,0" fill="#6a3ee6"/>
<text class="d" x="55.20" y="359.40" font-size="4.35" font-weight="bold" text-anchor="middle" fill="#1a1a1a">Days post administration</text>
<text class="d" x="4.38" y="320.00" font-size="4.50" text-anchor="middle" fill="#1a1a1a" transform="rotate(-90 4.38 320.00)">Tumor volume (mm³)</text>
<text class="d" x="10.22" y="320.00" font-size="4.30" text-anchor="middle" fill="#1a1a1a" transform="rotate(-90 10.22 320.00)">(mean ± SEM)</text>
<line x1="26.70" y1="281.20" x2="29.90" y2="281.20" stroke="#151515" stroke-width="0.6"/>
<circle cx="28.30" cy="281.20" r="1.05" fill="#151515"/>
<text class="d" x="31.60" y="282.38" font-size="3.27" fill="#1a1a1a">Vehicle</text>
<line x1="26.70" y1="285.06" x2="29.90" y2="285.06" stroke="#e8262c" stroke-width="0.6"/>
<circle cx="28.30" cy="285.06" r="1.05" fill="#e8262c"/>
<text class="d" x="31.60" y="286.24" font-size="3.27" fill="#1a1a1a">P-GGFG-DXd</text>
<line x1="26.70" y1="288.92" x2="29.90" y2="288.92" stroke="#2424d6" stroke-width="0.6"/>
<circle cx="28.30" cy="288.92" r="1.05" fill="#2424d6"/>
<text class="d" x="31.60" y="290.10" font-size="3.27" fill="#1a1a1a">AMT-562</text>
<line x1="26.70" y1="292.78" x2="29.90" y2="292.78" stroke="#a23fe0" stroke-width="0.6"/>
<circle cx="28.30" cy="292.78" r="1.05" fill="#a23fe0"/>
<text class="d" x="31.60" y="293.96" font-size="3.27" fill="#1a1a1a">Bevacizumab</text>
<line x1="26.70" y1="296.64" x2="29.90" y2="296.64" stroke="#f07a62" stroke-width="0.6"/>
<circle cx="28.30" cy="296.64" r="1.05" fill="#f07a62"/>
<text class="d" x="31.60" y="297.82" font-size="3.27" fill="#1a1a1a">P-GGFG-DXd + bevacizumab</text>
<line x1="26.70" y1="300.50" x2="29.90" y2="300.50" stroke="#6a3ee6" stroke-width="0.6"/>
<circle cx="28.30" cy="300.50" r="1.05" fill="#6a3ee6"/>
<text class="d" x="31.60" y="301.68" font-size="3.27" fill="#1a1a1a">AMT-562 + bevacizumab</text>
<path d="M24.50,362.70 L23.20,365.70 L25.80,365.70 Z" stroke="none" stroke-width="0.5" fill="#a8304a"/>
<line x1="24.50" y1="365.50" x2="24.50" y2="367.30" stroke="#a8304a" stroke-width="1.0"/>
<path d="M24.00,367.10 L23.20,370.10 M25.00,367.10 L25.80,370.10" stroke="#e87a90" stroke-width="0.8" fill="none"/>
<path d="M33.46,362.70 L32.16,365.70 L34.76,365.70 Z" stroke="none" stroke-width="0.5" fill="#a8304a"/>
<line x1="33.46" y1="365.50" x2="33.46" y2="367.30" stroke="#a8304a" stroke-width="1.0"/>
<path d="M32.96,367.10 L32.16,370.10 M33.96,367.10 L34.76,370.10" stroke="#e87a90" stroke-width="0.8" fill="none"/>
<path d="M42.42,362.70 L41.12,365.70 L43.72,365.70 Z" stroke="none" stroke-width="0.5" fill="#a8304a"/>
<line x1="42.42" y1="365.50" x2="42.42" y2="367.30" stroke="#a8304a" stroke-width="1.0"/>
<path d="M41.92,367.10 L41.12,370.10 M42.92,367.10 L43.72,370.10" stroke="#e87a90" stroke-width="0.8" fill="none"/>
<text class="d" x="107.50" y="267.50" font-size="12.20" font-weight="bold">H</text>
<line x1="127.40" y1="347.88" x2="127.40" y2="291.50" stroke="#000" stroke-width="0.55"/>
<line x1="127.12" y1="347.60" x2="191.50" y2="347.60" stroke="#000" stroke-width="0.55"/>
<line x1="125.90" y1="347.60" x2="127.40" y2="347.60" stroke="#000" stroke-width="0.45"/>
<text class="d" x="125.40" y="348.86" font-size="3.50" text-anchor="end" fill="#1a1a1a">0</text>
<line x1="125.90" y1="336.38" x2="127.40" y2="336.38" stroke="#000" stroke-width="0.45"/>
<text class="d" x="125.40" y="337.64" font-size="3.50" text-anchor="end" fill="#1a1a1a">500</text>
<line x1="125.90" y1="325.16" x2="127.40" y2="325.16" stroke="#000" stroke-width="0.45"/>
<text class="d" x="125.40" y="326.42" font-size="3.50" text-anchor="end" fill="#1a1a1a">1,000</text>
<line x1="125.90" y1="313.94" x2="127.40" y2="313.94" stroke="#000" stroke-width="0.45"/>
<text class="d" x="125.40" y="315.20" font-size="3.50" text-anchor="end" fill="#1a1a1a">1,500</text>
<line x1="125.90" y1="302.72" x2="127.40" y2="302.72" stroke="#000" stroke-width="0.45"/>
<text class="d" x="125.40" y="303.98" font-size="3.50" text-anchor="end" fill="#1a1a1a">2,000</text>
<line x1="125.90" y1="291.50" x2="127.40" y2="291.50" stroke="#000" stroke-width="0.45"/>
<text class="d" x="125.40" y="292.76" font-size="3.50" text-anchor="end" fill="#1a1a1a">2,500</text>
<line x1="127.40" y1="347.60" x2="127.40" y2="349.10" stroke="#000" stroke-width="0.45"/>
<text class="d" x="127.40" y="353.00" font-size="3.50" text-anchor="middle" fill="#1a1a1a">0</text>
<line x1="140.22" y1="347.60" x2="140.22" y2="349.10" stroke="#000" stroke-width="0.45"/>
<text class="d" x="140.22" y="353.00" font-size="3.50" text-anchor="middle" fill="#1a1a1a">10</text>
<line x1="153.04" y1="347.60" x2="153.04" y2="349.10" stroke="#000" stroke-width="0.45"/>
<text class="d" x="153.04" y="353.00" font-size="3.50" text-anchor="middle" fill="#1a1a1a">20</text>
<line x1="165.86" y1="347.60" x2="165.86" y2="349.10" stroke="#000" stroke-width="0.45"/>
<text class="d" x="165.86" y="353.00" font-size="3.50" text-anchor="middle" fill="#1a1a1a">30</text>
<line x1="178.68" y1="347.60" x2="178.68" y2="349.10" stroke="#000" stroke-width="0.45"/>
<text class="d" x="178.68" y="353.00" font-size="3.50" text-anchor="middle" fill="#1a1a1a">40</text>
<line x1="191.50" y1="347.60" x2="191.50" y2="349.10" stroke="#000" stroke-width="0.45"/>
<text class="d" x="191.50" y="353.00" font-size="3.50" text-anchor="middle" fill="#1a1a1a">50</text>
<path d="M131.25,343.11V342.27M130.50,342.27h1.5M136.37,341.09V339.87M135.62,339.87h1.5M140.22,339.30V337.74M139.47,337.74h1.5M145.35,336.83V334.81M144.60,334.81h1.5M149.19,333.01V330.28M148.44,330.28h1.5M154.32,328.53V324.95M153.57,324.95h1.5M158.17,324.04V319.62M157.42,319.62h1.5M163.30,318.43V312.96M162.55,312.96h1.5M167.14,312.82V306.30M166.39,306.30h1.5M172.27,306.09V298.30M171.52,298.30h1.5" stroke="#151515" stroke-width="0.5" fill="none"/>
<polyline points="127.40,343.79 131.25,343.11 136.37,341.09 140.22,339.30 145.35,336.83 149.19,333.01 154.32,328.53 158.17,324.04 163.30,318.43 167.14,312.82 172.27,306.09" fill="none" stroke="#151515" stroke-width="0.72"/>
<path d="M126.20,343.79a1.2,1.2 0 1,0 2.4,0a1.2,1.2 0 1,0 -2.4,0M130.05,343.11a1.2,1.2 0 1,0 2.4,0a1.2,1.2 0 1,0 -2.4,0M135.17,341.09a1.2,1.2 0 1,0 2.4,0a1.2,1.2 0 1,0 -2.4,0M139.02,339.30a1.2,1.2 0 1,0 2.4,0a1.2,1.2 0 1,0 -2.4,0M144.15,336.83a1.2,1.2 0 1,0 2.4,0a1.2,1.2 0 1,0 -2.4,0M147.99,333.01a1.2,1.2 0 1,0 2.4,0a1.2,1.2 0 1,0 -2.4,0M153.12,328.53a1.2,1.2 0 1,0 2.4,0a1.2,1.2 0 1,0 -2.4,0M156.97,324.04a1.2,1.2 0 1,0 2.4,0a1.2,1.2 0 1,0 -2.4,0M162.10,318.43a1.2,1.2 0 1,0 2.4,0a1.2,1.2 0 1,0 -2.4,0M165.94,312.82a1.2,1.2 0 1,0 2.4,0a1.2,1.2 0 1,0 -2.4,0M171.07,306.09a1.2,1.2 0 1,0 2.4,0a1.2,1.2 0 1,0 -2.4,0" fill="#151515"/>
<path d="M131.25,343.34V342.38M130.50,342.38h1.5M136.37,342.21V341.00M135.62,341.00h1.5M140.22,340.87V339.35M139.47,339.35h1.5M145.35,339.52V337.70M144.60,337.70h1.5M149.19,337.95V335.78M148.44,335.78h1.5M154.32,335.93V333.31M153.57,333.31h1.5M158.17,333.69V330.56M157.42,330.56h1.5M163.30,330.77V326.98M162.55,326.98h1.5M167.14,327.40V322.86M166.39,322.86h1.5M172.27,322.92V317.36M171.52,317.36h1.5M176.12,317.31V310.49M175.37,310.49h1.5M181.24,311.70V303.62M180.49,303.62h1.5M185.09,306.09V296.75M184.34,296.75h1.5" stroke="#e8262c" stroke-width="0.5" fill="none"/>
<polyline points="127.40,343.79 131.25,343.34 136.37,342.21 140.22,340.87 145.35,339.52 149.19,337.95 154.32,335.93 158.17,333.69 163.30,330.77 167.14,327.40 172.27,322.92 176.12,317.31 181.24,311.70 185.09,306.09" fill="none" stroke="#e8262c" stroke-width="0.72"/>
<path d="M126.20,343.79a1.2,1.2 0 1,0 2.4,0a1.2,1.2 0 1,0 -2.4,0M130.05,343.34a1.2,1.2 0 1,0 2.4,0a1.2,1.2 0 1,0 -2.4,0M135.17,342.21a1.2,1.2 0 1,0 2.4,0a1.2,1.2 0 1,0 -2.4,0M139.02,340.87a1.2,1.2 0 1,0 2.4,0a1.2,1.2 0 1,0 -2.4,0M144.15,339.52a1.2,1.2 0 1,0 2.4,0a1.2,1.2 0 1,0 -2.4,0M147.99,337.95a1.2,1.2 0 1,0 2.4,0a1.2,1.2 0 1,0 -2.4,0M153.12,335.93a1.2,1.2 0 1,0 2.4,0a1.2,1.2 0 1,0 -2.4,0M156.97,333.69a1.2,1.2 0 1,0 2.4,0a1.2,1.2 0 1,0 -2.4,0M162.10,330.77a1.2,1.2 0 1,0 2.4,0a1.2,1.2 0 1,0 -2.4,0M165.94,327.40a1.2,1.2 0 1,0 2.4,0a1.2,1.2 0 1,0 -2.4,0M171.07,322.92a1.2,1.2 0 1,0 2.4,0a1.2,1.2 0 1,0 -2.4,0M174.92,317.31a1.2,1.2 0 1,0 2.4,0a1.2,1.2 0 1,0 -2.4,0M180.04,311.70a1.2,1.2 0 1,0 2.4,0a1.2,1.2 0 1,0 -2.4,0M183.89,306.09a1.2,1.2 0 1,0 2.4,0a1.2,1.2 0 1,0 -2.4,0" fill="#e8262c"/>
<path d="M131.25,343.45V342.67M130.50,342.67h1.5M136.37,342.44V341.47M135.62,341.47h1.5M140.22,341.32V340.14M139.47,340.14h1.5M145.35,340.19V338.81M144.60,338.81h1.5M149.19,338.85V337.21M148.44,337.21h1.5M154.32,337.50V335.61M153.57,335.61h1.5M158.17,335.93V333.74M157.42,333.74h1.5M163.30,333.69V331.08M162.55,331.08h1.5M167.14,331.44V328.41M166.39,328.41h1.5M172.27,328.53V324.95M171.52,324.95h1.5M176.12,325.16V320.95M175.37,320.95h1.5M181.24,320.67V315.62M180.49,315.62h1.5M185.09,316.18V310.29M184.34,310.29h1.5" stroke="#a23fe0" stroke-width="0.5" fill="none"/>
<polyline points="127.40,343.79 131.25,343.45 136.37,342.44 140.22,341.32 145.35,340.19 149.19,338.85 154.32,337.50 158.17,335.93 163.30,333.69 167.14,331.44 172.27,328.53 176.12,325.16 181.24,320.67 185.09,316.18" fill="none" stroke="#a23fe0" stroke-width="0.72"/>
<path d="M126.20,343.79a1.2,1.2 0 1,0 2.4,0a1.2,1.2 0 1,0 -2.4,0M130.05,343.45a1.2,1.2 0 1,0 2.4,0a1.2,1.2 0 1,0 -2.4,0M135.17,342.44a1.2,1.2 0 1,0 2.4,0a1.2,1.2 0 1,0 -2.4,0M139.02,341.32a1.2,1.2 0 1,0 2.4,0a1.2,1.2 0 1,0 -2.4,0M144.15,340.19a1.2,1.2 0 1,0 2.4,0a1.2,1.2 0 1,0 -2.4,0M147.99,338.85a1.2,1.2 0 1,0 2.4,0a1.2,1.2 0 1,0 -2.4,0M153.12,337.50a1.2,1.2 0 1,0 2.4,0a1.2,1.2 0 1,0 -2.4,0M156.97,335.93a1.2,1.2 0 1,0 2.4,0a1.2,1.2 0 1,0 -2.4,0M162.10,333.69a1.2,1.2 0 1,0 2.4,0a1.2,1.2 0 1,0 -2.4,0M165.94,331.44a1.2,1.2 0 1,0 2.4,0a1.2,1.2 0 1,0 -2.4,0M171.07,328.53a1.2,1.2 0 1,0 2.4,0a1.2,1.2 0 1,0 -2.4,0M174.92,325.16a1.2,1.2 0 1,0 2.4,0a1.2,1.2 0 1,0 -2.4,0M180.04,320.67a1.2,1.2 0 1,0 2.4,0a1.2,1.2 0 1,0 -2.4,0M183.89,316.18a1.2,1.2 0 1,0 2.4,0a1.2,1.2 0 1,0 -2.4,0" fill="#a23fe0"/>
<path d="M131.25,343.45V342.67M130.50,342.67h1.5M136.37,342.66V341.74M135.62,341.74h1.5M140.22,341.77V340.67M139.47,340.67h1.5M145.35,340.87V339.61M144.60,339.61h1.5M149.19,339.75V338.27M148.44,338.27h1.5M154.32,338.62V336.94M153.57,336.94h1.5M158.17,337.28V335.34M157.42,335.34h1.5M163.30,335.48V333.21M162.55,333.21h1.5M167.14,333.69V331.08M166.39,331.08h1.5M172.27,331.44V328.41M171.52,328.41h1.5M176.12,328.97V325.48M175.37,325.48h1.5M181.24,325.61V321.49M180.49,321.49h1.5M185.09,321.79V316.96M184.34,316.96h1.5" stroke="#2424d6" stroke-width="0.5" fill="none"/>
<polyline points="127.40,343.79 131.25,343.45 136.37,342.66 140.22,341.77 145.35,340.87 149.19,339.75 154.32,338.62 158.17,337.28 163.30,335.48 167.14,333.69 172.27,331.44 176.12,328.97 181.24,325.61 185.09,321.79" fill="none" stroke="#2424d6" stroke-width="0.72"/>
<path d="M126.20,343.79a1.2,1.2 0 1,0 2.4,0a1.2,1.2 0 1,0 -2.4,0M130.05,343.45a1.2,1.2 0 1,0 2.4,0a1.2,1.2 0 1,0 -2.4,0M135.17,342.66a1.2,1.2 0 1,0 2.4,0a1.2,1.2 0 1,0 -2.4,0M139.02,341.77a1.2,1.2 0 1,0 2.4,0a1.2,1.2 0 1,0 -2.4,0M144.15,340.87a1.2,1.2 0 1,0 2.4,0a1.2,1.2 0 1,0 -2.4,0M147.99,339.75a1.2,1.2 0 1,0 2.4,0a1.2,1.2 0 1,0 -2.4,0M153.12,338.62a1.2,1.2 0 1,0 2.4,0a1.2,1.2 0 1,0 -2.4,0M156.97,337.28a1.2,1.2 0 1,0 2.4,0a1.2,1.2 0 1,0 -2.4,0M162.10,335.48a1.2,1.2 0 1,0 2.4,0a1.2,1.2 0 1,0 -2.4,0M165.94,333.69a1.2,1.2 0 1,0 2.4,0a1.2,1.2 0 1,0 -2.4,0M171.07,331.44a1.2,1.2 0 1,0 2.4,0a1.2,1.2 0 1,0 -2.4,0M174.92,328.97a1.2,1.2 0 1,0 2.4,0a1.2,1.2 0 1,0 -2.4,0M180.04,325.61a1.2,1.2 0 1,0 2.4,0a1.2,1.2 0 1,0 -2.4,0M183.89,321.79a1.2,1.2 0 1,0 2.4,0a1.2,1.2 0 1,0 -2.4,0" fill="#2424d6"/>
<path d="M131.25,343.56V342.80M130.50,342.80h1.5M136.37,343.11V342.27M135.62,342.27h1.5M140.22,342.44V341.47M139.47,341.47h1.5M145.35,341.77V340.67M144.60,340.67h1.5M149.19,341.09V339.87M148.44,339.87h1.5M154.32,340.19V338.81M153.57,338.81h1.5M158.17,339.07V337.47M157.42,337.47h1.5M163.30,337.73V335.88M162.55,335.88h1.5M167.14,336.38V334.28M166.39,334.28h1.5M172.27,334.58V332.14M171.52,332.14h1.5M176.12,332.34V329.48M175.37,329.48h1.5M181.24,329.65V326.28M180.49,326.28h1.5M185.09,326.28V322.28M184.34,322.28h1.5" stroke="#f07a62" stroke-width="0.5" fill="none"/>
<polyline points="127.40,343.79 131.25,343.56 136.37,343.11 140.22,342.44 145.35,341.77 149.19,341.09 154.32,340.19 158.17,339.07 163.30,337.73 167.14,336.38 172.27,334.58 176.12,332.34 181.24,329.65 185.09,326.28" fill="none" stroke="#f07a62" stroke-width="0.72"/>
<path d="M126.20,343.79a1.2,1.2 0 1,0 2.4,0a1.2,1.2 0 1,0 -2.4,0M130.05,343.56a1.2,1.2 0 1,0 2.4,0a1.2,1.2 0 1,0 -2.4,0M135.17,343.11a1.2,1.2 0 1,0 2.4,0a1.2,1.2 0 1,0 -2.4,0M139.02,342.44a1.2,1.2 0 1,0 2.4,0a1.2,1.2 0 1,0 -2.4,0M144.15,341.77a1.2,1.2 0 1,0 2.4,0a1.2,1.2 0 1,0 -2.4,0M147.99,341.09a1.2,1.2 0 1,0 2.4,0a1.2,1.2 0 1,0 -2.4,0M153.12,340.19a1.2,1.2 0 1,0 2.4,0a1.2,1.2 0 1,0 -2.4,0M156.97,339.07a1.2,1.2 0 1,0 2.4,0a1.2,1.2 0 1,0 -2.4,0M162.10,337.73a1.2,1.2 0 1,0 2.4,0a1.2,1.2 0 1,0 -2.4,0M165.94,336.38a1.2,1.2 0 1,0 2.4,0a1.2,1.2 0 1,0 -2.4,0M171.07,334.58a1.2,1.2 0 1,0 2.4,0a1.2,1.2 0 1,0 -2.4,0M174.92,332.34a1.2,1.2 0 1,0 2.4,0a1.2,1.2 0 1,0 -2.4,0M180.04,329.65a1.2,1.2 0 1,0 2.4,0a1.2,1.2 0 1,0 -2.4,0M183.89,326.28a1.2,1.2 0 1,0 2.4,0a1.2,1.2 0 1,0 -2.4,0" fill="#f07a62"/>
<path d="M131.25,343.67V342.69M130.50,342.69h1.5M136.37,343.34V342.27M135.62,342.27h1.5M140.22,342.89V341.71M139.47,341.71h1.5M145.35,342.44V341.15M144.60,341.15h1.5M149.19,341.99V340.59M148.44,340.59h1.5M154.32,341.54V340.03M153.57,340.03h1.5M158.17,340.87V339.19M157.42,339.19h1.5M163.30,340.19V338.34M162.55,338.34h1.5M167.14,339.52V337.50M166.39,337.50h1.5M172.27,338.62V336.38M171.52,336.38h1.5M176.12,337.73V335.26M175.37,335.26h1.5M181.24,335.93V333.01M180.49,333.01h1.5M185.09,334.14V330.77M184.34,330.77h1.5" stroke="#6a3ee6" stroke-width="0.5" fill="none"/>
<polyline points="127.40,343.79 131.25,343.67 136.37,343.34 140.22,342.89 145.35,342.44 149.19,341.99 154.32,341.54 158.17,340.87 163.30,340.19 167.14,339.52 172.27,338.62 176.12,337.73 181.24,335.93 185.09,334.14" fill="none" stroke="#6a3ee6" stroke-width="0.72"/>
<path d="M126.20,343.79a1.2,1.2 0 1,0 2.4,0a1.2,1.2 0 1,0 -2.4,0M130.05,343.67a1.2,1.2 0 1,0 2.4,0a1.2,1.2 0 1,0 -2.4,0M135.17,343.34a1.2,1.2 0 1,0 2.4,0a1.2,1.2 0 1,0 -2.4,0M139.02,342.89a1.2,1.2 0 1,0 2.4,0a1.2,1.2 0 1,0 -2.4,0M144.15,342.44a1.2,1.2 0 1,0 2.4,0a1.2,1.2 0 1,0 -2.4,0M147.99,341.99a1.2,1.2 0 1,0 2.4,0a1.2,1.2 0 1,0 -2.4,0M153.12,341.54a1.2,1.2 0 1,0 2.4,0a1.2,1.2 0 1,0 -2.4,0M156.97,340.87a1.2,1.2 0 1,0 2.4,0a1.2,1.2 0 1,0 -2.4,0M162.10,340.19a1.2,1.2 0 1,0 2.4,0a1.2,1.2 0 1,0 -2.4,0M165.94,339.52a1.2,1.2 0 1,0 2.4,0a1.2,1.2 0 1,0 -2.4,0M171.07,338.62a1.2,1.2 0 1,0 2.4,0a1.2,1.2 0 1,0 -2.4,0M174.92,337.73a1.2,1.2 0 1,0 2.4,0a1.2,1.2 0 1,0 -2.4,0M180.04,335.93a1.2,1.2 0 1,0 2.4,0a1.2,1.2 0 1,0 -2.4,0M183.89,334.14a1.2,1.2 0 1,0 2.4,0a1.2,1.2 0 1,0 -2.4,0" fill="#6a3ee6"/>
<text class="d" x="158.60" y="359.10" font-size="4.40" font-weight="bold" text-anchor="middle" fill="#1a1a1a">Days post administration</text>
<text class="d" x="107.62" y="319.50" font-size="4.60" text-anchor="middle" fill="#1a1a1a" transform="rotate(-90 107.62 319.50)">Tumor volume (mm³)</text>
<text class="d" x="113.82" y="319.50" font-size="4.60" text-anchor="middle" fill="#1a1a1a" transform="rotate(-90 113.82 319.50)">(mean ± SEM)</text>
<line x1="131.20" y1="281.20" x2="134.40" y2="281.20" stroke="#151515" stroke-width="0.6"/>
<circle cx="132.80" cy="281.20" r="1.05" fill="#151515"/>
<text class="d" x="136.10" y="282.33" font-size="3.15" fill="#1a1a1a">Vehicle</text>
<line x1="131.20" y1="285.06" x2="134.40" y2="285.06" stroke="#e8262c" stroke-width="0.6"/>
<circle cx="132.80" cy="285.06" r="1.05" fill="#e8262c"/>
<text class="d" x="136.10" y="286.19" font-size="3.15" fill="#1a1a1a">P-GGFG-DXd</text>
<line x1="131.20" y1="288.92" x2="134.40" y2="288.92" stroke="#2424d6" stroke-width="0.6"/>
<circle cx="132.80" cy="288.92" r="1.05" fill="#2424d6"/>
<text class="d" x="136.10" y="290.05" font-size="3.15" fill="#1a1a1a">AMT-562</text>
<line x1="131.20" y1="292.78" x2="134.40" y2="292.78" stroke="#a23fe0" stroke-width="0.6"/>
<circle cx="132.80" cy="292.78" r="1.05" fill="#a23fe0"/>
<text class="d" x="136.10" y="293.91" font-size="3.15" fill="#1a1a1a">Cetuximab</text>
<line x1="131.20" y1="296.64" x2="134.40" y2="296.64" stroke="#f07a62" stroke-width="0.6"/>
<circle cx="132.80" cy="296.64" r="1.05" fill="#f07a62"/>
<text class="d" x="136.10" y="297.77" font-size="3.15" fill="#1a1a1a">P-GGFG-DXd + cetuximab</text>
<line x1="131.20" y1="300.50" x2="134.40" y2="300.50" stroke="#6a3ee6" stroke-width="0.6"/>
<circle cx="132.80" cy="300.50" r="1.05" fill="#6a3ee6"/>
<text class="d" x="136.10" y="301.63" font-size="3.15" fill="#1a1a1a">AMT-562 + cetuximab</text>
<path d="M127.40,362.70 L126.10,365.70 L128.70,365.70 Z" stroke="none" stroke-width="0.5" fill="#a8304a"/>
<line x1="127.40" y1="365.50" x2="127.40" y2="367.30" stroke="#a8304a" stroke-width="1.0"/>
<path d="M126.90,367.10 L126.10,370.10 M127.90,367.10 L128.70,370.10" stroke="#e87a90" stroke-width="0.8" fill="none"/>
<path d="M136.37,362.70 L135.07,365.70 L137.67,365.70 Z" stroke="none" stroke-width="0.5" fill="#a8304a"/>
<line x1="136.37" y1="365.50" x2="136.37" y2="367.30" stroke="#a8304a" stroke-width="1.0"/>
<path d="M135.87,367.10 L135.07,370.10 M136.87,367.10 L137.67,370.10" stroke="#e87a90" stroke-width="0.8" fill="none"/>
<path d="M145.35,362.70 L144.05,365.70 L146.65,365.70 Z" stroke="none" stroke-width="0.5" fill="#a8304a"/>
<line x1="145.35" y1="365.50" x2="145.35" y2="367.30" stroke="#a8304a" stroke-width="1.0"/>
<path d="M144.85,367.10 L144.05,370.10 M145.85,367.10 L146.65,370.10" stroke="#e87a90" stroke-width="0.8" fill="none"/>
<text class="d" x="207.60" y="265.40" font-size="12.20" font-weight="bold">I</text>
<text class="d" x="211.40" y="284.90" font-size="4.90" font-weight="bold">PDX-361755</text>
<text class="d" x="211.40" y="290.10" font-size="4.90" font-weight="bold">Rectal cancer</text>
<text class="d" x="211.40" y="297.10" font-size="4.90">H-score: 200</text>
<g><rect x="211.3" y="299.9" width="42.7" height="31.4" fill="#b08070"/><rect x="211.3" y="299.9" width="42.7" height="31.4" fill="#80647e" filter="url(#ph4_0)"/><rect x="211.3" y="299.9" width="42.7" height="31.4" fill="#d09a70" filter="url(#ph4_1)"/><rect x="211.3" y="299.9" width="42.7" height="31.4" fill="#6a3c34" filter="url(#ph4_2)"/><rect x="211.3" y="299.9" width="42.7" height="31.4" fill="#f0e0d8" filter="url(#ph4_3)"/><rect x="211.65" y="300.25" width="42.0" height="30.7" fill="none" stroke="#6a6068" stroke-width="0.6"/></g>
<rect x="246.20" y="327.00" width="5.80" height="2.60" fill="#cc1030"/>
<rect x="211.30" y="334.20" width="25.80" height="11.80" fill="#757575"/>
<rect x="211.30" y="347.60" width="25.80" height="12.20" fill="#d7d7d7"/>
<text x="224.20" y="339.10" font-size="3.90" text-anchor="middle" fill="#f4f4f4">Staining</text>
<text x="224.20" y="343.90" font-size="3.90" text-anchor="middle" fill="#f4f4f4">intensity</text>
<text class="d" x="224.20" y="352.70" font-size="3.90" text-anchor="middle" fill="#1a1a1a">Positive</text>
<text class="d" x="224.20" y="357.10" font-size="3.90" text-anchor="middle" fill="#1a1a1a">cell (%)</text>
<rect x="238.60" y="334.20" width="11.80" height="11.80" fill="#757575"/>
<rect x="238.60" y="347.60" width="11.80" height="12.20" fill="#d7d7d7"/>
<text x="244.50" y="341.35" font-size="3.80" text-anchor="middle" fill="#f4f4f4">0</text>
<text class="d" x="244.50" y="354.95" font-size="3.80" text-anchor="middle" fill="#1a1a1a">10</text>
<rect x="251.90" y="334.20" width="11.10" height="11.80" fill="#757575"/>
<rect x="251.90" y="347.60" width="11.10" height="12.20" fill="#d7d7d7"/>
<text x="257.45" y="341.35" font-size="3.80" text-anchor="middle" fill="#f4f4f4">1+</text>
<text class="d" x="257.45" y="354.95" font-size="3.80" text-anchor="middle" fill="#1a1a1a">20</text>
<rect x="264.50" y="334.20" width="12.20" height="11.80" fill="#757575"/>
<rect x="264.50" y="347.60" width="12.20" height="12.20" fill="#d7d7d7"/>
<text x="270.60" y="341.35" font-size="3.80" text-anchor="middle" fill="#f4f4f4">2+</text>
<text class="d" x="270.60" y="354.95" font-size="3.80" text-anchor="middle" fill="#1a1a1a">30</text>
<rect x="278.20" y="334.20" width="12.80" height="11.80" fill="#757575"/>
<rect x="278.20" y="347.60" width="12.80" height="12.20" fill="#d7d7d7"/>
<text x="284.60" y="341.35" font-size="3.80" text-anchor="middle" fill="#f4f4f4">3+</text>
<text class="d" x="284.60" y="354.95" font-size="3.80" text-anchor="middle" fill="#1a1a1a">40</text>
<line x1="295.50" y1="340.67" x2="295.50" y2="285.11" stroke="#000" stroke-width="0.55"/>
<line x1="295.23" y1="340.40" x2="358.00" y2="340.40" stroke="#000" stroke-width="0.55"/>
<line x1="294.00" y1="340.40" x2="295.50" y2="340.40" stroke="#000" stroke-width="0.45"/>
<text class="d" x="293.50" y="341.59" font-size="3.30" text-anchor="end" fill="#1a1a1a">0</text>
<line x1="294.00" y1="331.19" x2="295.50" y2="331.19" stroke="#000" stroke-width="0.45"/>
<text class="d" x="293.50" y="332.37" font-size="3.30" text-anchor="end" fill="#1a1a1a">500</text>
<line x1="294.00" y1="321.97" x2="295.50" y2="321.97" stroke="#000" stroke-width="0.45"/>
<text class="d" x="293.50" y="323.16" font-size="3.30" text-anchor="end" fill="#1a1a1a">1,000</text>
<line x1="294.00" y1="312.75" x2="295.50" y2="312.75" stroke="#000" stroke-width="0.45"/>
<text class="d" x="293.50" y="313.94" font-size="3.30" text-anchor="end" fill="#1a1a1a">1,500</text>
<line x1="294.00" y1="303.54" x2="295.50" y2="303.54" stroke="#000" stroke-width="0.45"/>
<text class="d" x="293.50" y="304.73" font-size="3.30" text-anchor="end" fill="#1a1a1a">2,000</text>
<line x1="294.00" y1="294.32" x2="295.50" y2="294.32" stroke="#000" stroke-width="0.45"/>
<text class="d" x="293.50" y="295.51" font-size="3.30" text-anchor="end" fill="#1a1a1a">2,500</text>
<line x1="294.00" y1="285.11" x2="295.50" y2="285.11" stroke="#000" stroke-width="0.45"/>
<text class="d" x="293.50" y="286.30" font-size="3.30" text-anchor="end" fill="#1a1a1a">3,000</text>
<line x1="295.50" y1="340.40" x2="295.50" y2="341.90" stroke="#000" stroke-width="0.45"/>
<text class="d" x="295.50" y="346.60" font-size="3.30" text-anchor="middle" fill="#1a1a1a">0</text>
<line x1="301.47" y1="340.40" x2="301.47" y2="341.90" stroke="#000" stroke-width="0.45"/>
<text class="d" x="301.47" y="346.60" font-size="3.30" text-anchor="middle" fill="#1a1a1a">7</text>
<line x1="307.44" y1="340.40" x2="307.44" y2="341.90" stroke="#000" stroke-width="0.45"/>
<text class="d" x="307.44" y="346.60" font-size="3.30" text-anchor="middle" fill="#1a1a1a">14</text>
<line x1="313.41" y1="340.40" x2="313.41" y2="341.90" stroke="#000" stroke-width="0.45"/>
<text class="d" x="313.41" y="346.60" font-size="3.30" text-anchor="middle" fill="#1a1a1a">21</text>
<line x1="319.38" y1="340.40" x2="319.38" y2="341.90" stroke="#000" stroke-width="0.45"/>
<text class="d" x="319.38" y="346.60" font-size="3.30" text-anchor="middle" fill="#1a1a1a">28</text>
<line x1="325.36" y1="340.40" x2="325.36" y2="341.90" stroke="#000" stroke-width="0.45"/>
<text class="d" x="325.36" y="346.60" font-size="3.30" text-anchor="middle" fill="#1a1a1a">35</text>
<line x1="331.33" y1="340.40" x2="331.33" y2="341.90" stroke="#000" stroke-width="0.45"/>
<text class="d" x="331.33" y="346.60" font-size="3.30" text-anchor="middle" fill="#1a1a1a">42</text>
<line x1="337.30" y1="340.40" x2="337.30" y2="341.90" stroke="#000" stroke-width="0.45"/>
<text class="d" x="337.30" y="346.60" font-size="3.30" text-anchor="middle" fill="#1a1a1a">49</text>
<line x1="343.27" y1="340.40" x2="343.27" y2="341.90" stroke="#000" stroke-width="0.45"/>
<text class="d" x="343.27" y="346.60" font-size="3.30" text-anchor="middle" fill="#1a1a1a">56</text>
<line x1="349.24" y1="340.40" x2="349.24" y2="341.90" stroke="#000" stroke-width="0.45"/>
<text class="d" x="349.24" y="346.60" font-size="3.30" text-anchor="middle" fill="#1a1a1a">63</text>
<line x1="355.21" y1="340.40" x2="355.21" y2="341.90" stroke="#000" stroke-width="0.45"/>
<text class="d" x="355.21" y="346.60" font-size="3.30" text-anchor="middle" fill="#1a1a1a">70</text>
<path d="M298.06,335.24V334.27M297.31,334.27h1.5M301.47,333.03V331.65M300.72,331.65h1.5M304.03,330.26V328.36M303.28,328.36h1.5M307.44,326.58V323.99M306.69,323.99h1.5M310.00,321.97V318.51M309.25,318.51h1.5M313.41,310.91V305.38M312.66,305.38h1.5M315.97,294.32V285.69M315.22,285.69h1.5" stroke="#151515" stroke-width="0.5" fill="none"/>
<polyline points="295.50,336.71 298.06,335.24 301.47,333.03 304.03,330.26 307.44,326.58 310.00,321.97 313.41,310.91 315.97,294.32" fill="none" stroke="#151515" stroke-width="0.72"/>
<path d="M294.30,336.71a1.2,1.2 0 1,0 2.4,0a1.2,1.2 0 1,0 -2.4,0M296.86,335.24a1.2,1.2 0 1,0 2.4,0a1.2,1.2 0 1,0 -2.4,0M300.27,333.03a1.2,1.2 0 1,0 2.4,0a1.2,1.2 0 1,0 -2.4,0M302.83,330.26a1.2,1.2 0 1,0 2.4,0a1.2,1.2 0 1,0 -2.4,0M306.24,326.58a1.2,1.2 0 1,0 2.4,0a1.2,1.2 0 1,0 -2.4,0M308.80,321.97a1.2,1.2 0 1,0 2.4,0a1.2,1.2 0 1,0 -2.4,0M312.21,310.91a1.2,1.2 0 1,0 2.4,0a1.2,1.2 0 1,0 -2.4,0M314.77,294.32a1.2,1.2 0 1,0 2.4,0a1.2,1.2 0 1,0 -2.4,0" fill="#151515"/>
<path d="M298.06,335.61V333.81M297.31,333.81h1.5M301.47,333.95V331.53M300.72,331.53h1.5M304.03,332.11V329.00M303.28,329.00h1.5M307.44,329.34V325.20M306.69,325.20h1.5M310.00,325.66V320.13M309.25,320.13h1.5M313.41,320.13V312.52M312.66,312.52h1.5M315.97,312.75V302.39M315.22,302.39h1.5M319.38,304.46V290.98M318.63,290.98h1.5" stroke="#c44af0" stroke-width="0.5" fill="none"/>
<polyline points="295.50,336.71 298.06,335.61 301.47,333.95 304.03,332.11 307.44,329.34 310.00,325.66 313.41,320.13 315.97,312.75 319.38,304.46" fill="none" stroke="#c44af0" stroke-width="0.72"/>
<path d="M294.30,336.71a1.2,1.2 0 1,0 2.4,0a1.2,1.2 0 1,0 -2.4,0M296.86,335.61a1.2,1.2 0 1,0 2.4,0a1.2,1.2 0 1,0 -2.4,0M300.27,333.95a1.2,1.2 0 1,0 2.4,0a1.2,1.2 0 1,0 -2.4,0M302.83,332.11a1.2,1.2 0 1,0 2.4,0a1.2,1.2 0 1,0 -2.4,0M306.24,329.34a1.2,1.2 0 1,0 2.4,0a1.2,1.2 0 1,0 -2.4,0M308.80,325.66a1.2,1.2 0 1,0 2.4,0a1.2,1.2 0 1,0 -2.4,0M312.21,320.13a1.2,1.2 0 1,0 2.4,0a1.2,1.2 0 1,0 -2.4,0M314.77,312.75a1.2,1.2 0 1,0 2.4,0a1.2,1.2 0 1,0 -2.4,0M318.18,304.46a1.2,1.2 0 1,0 2.4,0a1.2,1.2 0 1,0 -2.4,0" fill="#c44af0"/>
<path d="M298.06,335.42V333.68M297.31,333.68h1.5M301.47,333.77V331.44M300.72,331.44h1.5M304.03,331.74V328.71M303.28,328.71h1.5M307.44,328.97V324.97M306.69,324.97h1.5M310.00,325.29V320.00M309.25,320.00h1.5M313.41,320.50V313.53M312.66,313.53h1.5M315.97,315.52V306.81M315.22,306.81h1.5M319.38,309.99V299.35M318.63,299.35h1.5M321.94,304.46V291.88M321.19,291.88h1.5" stroke="#f0602e" stroke-width="0.5" fill="none"/>
<polyline points="295.50,336.71 298.06,335.42 301.47,333.77 304.03,331.74 307.44,328.97 310.00,325.29 313.41,320.50 315.97,315.52 319.38,309.99 321.94,304.46" fill="none" stroke="#f0602e" stroke-width="0.72"/>
<path d="M294.30,336.71a1.2,1.2 0 1,0 2.4,0a1.2,1.2 0 1,0 -2.4,0M296.86,335.42a1.2,1.2 0 1,0 2.4,0a1.2,1.2 0 1,0 -2.4,0M300.27,333.77a1.2,1.2 0 1,0 2.4,0a1.2,1.2 0 1,0 -2.4,0M302.83,331.74a1.2,1.2 0 1,0 2.4,0a1.2,1.2 0 1,0 -2.4,0M306.24,328.97a1.2,1.2 0 1,0 2.4,0a1.2,1.2 0 1,0 -2.4,0M308.80,325.29a1.2,1.2 0 1,0 2.4,0a1.2,1.2 0 1,0 -2.4,0M312.21,320.50a1.2,1.2 0 1,0 2.4,0a1.2,1.2 0 1,0 -2.4,0M314.77,315.52a1.2,1.2 0 1,0 2.4,0a1.2,1.2 0 1,0 -2.4,0M318.18,309.99a1.2,1.2 0 1,0 2.4,0a1.2,1.2 0 1,0 -2.4,0M320.74,304.46a1.2,1.2 0 1,0 2.4,0a1.2,1.2 0 1,0 -2.4,0" fill="#f0602e"/>
<path d="M298.06,335.24V334.08M297.31,334.08h1.5M301.47,333.95V332.50M300.72,332.50h1.5M304.03,332.48V330.69M303.28,330.69h1.5M307.44,331.92V330.01M306.69,330.01h1.5M310.00,331.74V329.79M309.25,329.79h1.5M313.41,331.74V329.79M312.66,329.79h1.5M315.97,331.55V329.56M315.22,329.56h1.5M319.38,331.19V329.11M318.63,329.11h1.5M321.94,330.08V327.76M321.19,327.76h1.5M325.36,327.50V324.60M324.61,324.60h1.5M327.91,324.73V321.21M327.16,321.21h1.5M331.33,321.97V317.82M330.58,317.82h1.5M333.88,318.28V313.31M333.13,313.31h1.5M337.30,314.97V309.24M336.55,309.24h1.5" stroke="#3b3be6" stroke-width="0.5" fill="none"/>
<polyline points="295.50,336.71 298.06,335.24 301.47,333.95 304.03,332.48 307.44,331.92 310.00,331.74 313.41,331.74 315.97,331.55 319.38,331.19 321.94,330.08 325.36,327.50 327.91,324.73 331.33,321.97 333.88,318.28 337.30,314.97" fill="none" stroke="#3b3be6" stroke-width="0.72"/>
<path d="M294.30,336.71a1.2,1.2 0 1,0 2.4,0a1.2,1.2 0 1,0 -2.4,0M296.86,335.24a1.2,1.2 0 1,0 2.4,0a1.2,1.2 0 1,0 -2.4,0M300.27,333.95a1.2,1.2 0 1,0 2.4,0a1.2,1.2 0 1,0 -2.4,0M302.83,332.48a1.2,1.2 0 1,0 2.4,0a1.2,1.2 0 1,0 -2.4,0M306.24,331.92a1.2,1.2 0 1,0 2.4,0a1.2,1.2 0 1,0 -2.4,0M308.80,331.74a1.2,1.2 0 1,0 2.4,0a1.2,1.2 0 1,0 -2.4,0M312.21,331.74a1.2,1.2 0 1,0 2.4,0a1.2,1.2 0 1,0 -2.4,0M314.77,331.55a1.2,1.2 0 1,0 2.4,0a1.2,1.2 0 1,0 -2.4,0M318.18,331.19a1.2,1.2 0 1,0 2.4,0a1.2,1.2 0 1,0 -2.4,0M320.74,330.08a1.2,1.2 0 1,0 2.4,0a1.2,1.2 0 1,0 -2.4,0M324.16,327.50a1.2,1.2 0 1,0 2.4,0a1.2,1.2 0 1,0 -2.4,0M326.71,324.73a1.2,1.2 0 1,0 2.4,0a1.2,1.2 0 1,0 -2.4,0M330.13,321.97a1.2,1.2 0 1,0 2.4,0a1.2,1.2 0 1,0 -2.4,0M332.69,318.28a1.2,1.2 0 1,0 2.4,0a1.2,1.2 0 1,0 -2.4,0M336.10,314.97a1.2,1.2 0 1,0 2.4,0a1.2,1.2 0 1,0 -2.4,0" fill="#3b3be6"/>
<path d="M298.06,335.61V334.11M297.31,334.11h1.5M301.47,334.32V332.42M300.72,332.42h1.5M304.03,334.50V332.66M303.28,332.66h1.5M307.44,334.87V333.14M306.69,333.14h1.5M310.00,335.06V333.39M309.25,333.39h1.5M313.41,335.24V333.63M312.66,333.63h1.5M315.97,335.24V333.63M315.22,333.63h1.5M319.38,335.06V333.39M318.63,333.39h1.5M321.94,334.32V332.42M321.19,332.42h1.5M325.36,333.03V330.72M324.61,330.72h1.5M327.91,331.74V329.03M327.16,329.03h1.5M331.33,329.89V326.61M330.58,326.61h1.5M333.88,328.42V324.68M333.13,324.68h1.5M337.30,326.02V321.53M336.55,321.53h1.5M339.86,323.81V318.63M339.11,318.63h1.5M343.27,321.97V316.21M342.52,316.21h1.5M345.83,319.76V313.31M345.08,313.31h1.5M349.24,316.44V308.95M348.49,308.95h1.5" stroke="#e8262c" stroke-width="0.5" fill="none"/>
<polyline points="295.50,336.71 298.06,335.61 301.47,334.32 304.03,334.50 307.44,334.87 310.00,335.06 313.41,335.24 315.97,335.24 319.38,335.06 321.94,334.32 325.36,333.03 327.91,331.74 331.33,329.89 333.88,328.42 337.30,326.02 339.86,323.81 343.27,321.97 345.83,319.76 349.24,316.44" fill="none" stroke="#e8262c" stroke-width="0.72"/>
<path d="M294.30,336.71a1.2,1.2 0 1,0 2.4,0a1.2,1.2 0 1,0 -2.4,0M296.86,335.61a1.2,1.2 0 1,0 2.4,0a1.2,1.2 0 1,0 -2.4,0M300.27,334.32a1.2,1.2 0 1,0 2.4,0a1.2,1.2 0 1,0 -2.4,0M302.83,334.50a1.2,1.2 0 1,0 2.4,0a1.2,1.2 0 1,0 -2.4,0M306.24,334.87a1.2,1.2 0 1,0 2.4,0a1.2,1.2 0 1,0 -2.4,0M308.80,335.06a1.2,1.2 0 1,0 2.4,0a1.2,1.2 0 1,0 -2.4,0M312.21,335.24a1.2,1.2 0 1,0 2.4,0a1.2,1.2 0 1,0 -2.4,0M314.77,335.24a1.2,1.2 0 1,0 2.4,0a1.2,1.2 0 1,0 -2.4,0M318.18,335.06a1.2,1.2 0 1,0 2.4,0a1.2,1.2 0 1,0 -2.4,0M320.74,334.32a1.2,1.2 0 1,0 2.4,0a1.2,1.2 0 1,0 -2.4,0M324.16,333.03a1.2,1.2 0 1,0 2.4,0a1.2,1.2 0 1,0 -2.4,0M326.71,331.74a1.2,1.2 0 1,0 2.4,0a1.2,1.2 0 1,0 -2.4,0M330.13,329.89a1.2,1.2 0 1,0 2.4,0a1.2,1.2 0 1,0 -2.4,0M332.69,328.42a1.2,1.2 0 1,0 2.4,0a1.2,1.2 0 1,0 -2.4,0M336.10,326.02a1.2,1.2 0 1,0 2.4,0a1.2,1.2 0 1,0 -2.4,0M338.66,323.81a1.2,1.2 0 1,0 2.4,0a1.2,1.2 0 1,0 -2.4,0M342.07,321.97a1.2,1.2 0 1,0 2.4,0a1.2,1.2 0 1,0 -2.4,0M344.63,319.76a1.2,1.2 0 1,0 2.4,0a1.2,1.2 0 1,0 -2.4,0M348.04,316.44a1.2,1.2 0 1,0 2.4,0a1.2,1.2 0 1,0 -2.4,0" fill="#e8262c"/>
<path d="M298.06,336.16V335.10M297.31,335.10h1.5M301.47,335.79V334.64M300.72,334.64h1.5M304.03,335.98V334.87M303.28,334.87h1.5M307.44,336.35V335.33M306.69,335.33h1.5M310.00,336.71V335.79M309.25,335.79h1.5M313.41,337.08V336.25M312.66,336.25h1.5M315.97,337.45V336.71M315.22,336.71h1.5M319.38,337.64V336.94M318.63,336.94h1.5M321.94,337.82V337.17M321.19,337.17h1.5M325.36,338.00V337.41M324.61,337.41h1.5M327.91,338.00V337.41M327.16,337.41h1.5M331.33,338.00V337.41M330.58,337.41h1.5M333.88,337.64V336.94M333.13,336.94h1.5M337.30,336.90V336.02M336.55,336.02h1.5M339.86,335.98V334.87M339.11,334.87h1.5M343.27,334.87V333.49M342.52,333.49h1.5M345.83,333.40V331.65M345.08,331.65h1.5M349.24,331.92V329.80M348.49,329.80h1.5" stroke="#2424d6" stroke-width="0.5" fill="none"/>
<polyline points="295.50,336.71 298.06,336.16 301.47,335.79 304.03,335.98 307.44,336.35 310.00,336.71 313.41,337.08 315.97,337.45 319.38,337.64 321.94,337.82 325.36,338.00 327.91,338.00 331.33,338.00 333.88,337.64 337.30,336.90 339.86,335.98 343.27,334.87 345.83,333.40 349.24,331.92" fill="none" stroke="#2424d6" stroke-width="0.72"/>
<path d="M294.30,336.71a1.2,1.2 0 1,0 2.4,0a1.2,1.2 0 1,0 -2.4,0M296.86,336.16a1.2,1.2 0 1,0 2.4,0a1.2,1.2 0 1,0 -2.4,0M300.27,335.79a1.2,1.2 0 1,0 2.4,0a1.2,1.2 0 1,0 -2.4,0M302.83,335.98a1.2,1.2 0 1,0 2.4,0a1.2,1.2 0 1,0 -2.4,0M306.24,336.35a1.2,1.2 0 1,0 2.4,0a1.2,1.2 0 1,0 -2.4,0M308.80,336.71a1.2,1.2 0 1,0 2.4,0a1.2,1.2 0 1,0 -2.4,0M312.21,337.08a1.2,1.2 0 1,0 2.4,0a1.2,1.2 0 1,0 -2.4,0M314.77,337.45a1.2,1.2 0 1,0 2.4,0a1.2,1.2 0 1,0 -2.4,0M318.18,337.64a1.2,1.2 0 1,0 2.4,0a1.2,1.2 0 1,0 -2.4,0M320.74,337.82a1.2,1.2 0 1,0 2.4,0a1.2,1.2 0 1,0 -2.4,0M324.16,338.00a1.2,1.2 0 1,0 2.4,0a1.2,1.2 0 1,0 -2.4,0M326.71,338.00a1.2,1.2 0 1,0 2.4,0a1.2,1.2 0 1,0 -2.4,0M330.13,338.00a1.2,1.2 0 1,0 2.4,0a1.2,1.2 0 1,0 -2.4,0M332.69,337.64a1.2,1.2 0 1,0 2.4,0a1.2,1.2 0 1,0 -2.4,0M336.10,336.90a1.2,1.2 0 1,0 2.4,0a1.2,1.2 0 1,0 -2.4,0M338.66,335.98a1.2,1.2 0 1,0 2.4,0a1.2,1.2 0 1,0 -2.4,0M342.07,334.87a1.2,1.2 0 1,0 2.4,0a1.2,1.2 0 1,0 -2.4,0M344.63,333.40a1.2,1.2 0 1,0 2.4,0a1.2,1.2 0 1,0 -2.4,0M348.04,331.92a1.2,1.2 0 1,0 2.4,0a1.2,1.2 0 1,0 -2.4,0" fill="#2424d6"/>
<path d="M298.06,336.16V334.31M297.31,334.31h1.5M301.47,335.79V333.78M300.72,333.78h1.5M304.03,335.98V334.04M303.28,334.04h1.5M307.44,336.35V334.57M306.69,334.57h1.5M310.00,336.71V335.10M309.25,335.10h1.5M313.41,336.99V335.50M312.66,335.50h1.5M315.97,337.17V335.76M315.22,335.76h1.5M319.38,337.27V335.90M318.63,335.90h1.5M321.94,337.36V336.03M321.19,336.03h1.5M325.36,337.27V335.90M324.61,335.90h1.5M327.91,337.08V335.63M327.16,335.63h1.5M331.33,336.71V335.10M330.58,335.10h1.5M333.88,336.25V334.44M333.13,334.44h1.5M337.30,335.61V333.51M336.55,333.51h1.5M339.86,334.87V332.45M339.11,332.45h1.5M343.27,334.13V331.39M342.52,331.39h1.5M345.83,333.21V330.07M345.08,330.07h1.5M349.24,332.11V328.48M348.49,328.48h1.5M351.80,331.00V326.89M351.05,326.89h1.5M355.21,329.71V325.03M354.46,325.03h1.5M357.77,328.42V323.18M357.02,323.18h1.5" stroke="#f07a62" stroke-width="0.5" fill="none"/>
<polyline points="295.50,336.71 298.06,336.16 301.47,335.79 304.03,335.98 307.44,336.35 310.00,336.71 313.41,336.99 315.97,337.17 319.38,337.27 321.94,337.36 325.36,337.27 327.91,337.08 331.33,336.71 333.88,336.25 337.30,335.61 339.86,334.87 343.27,334.13 345.83,333.21 349.24,332.11 351.80,331.00 355.21,329.71 357.77,328.42" fill="none" stroke="#f07a62" stroke-width="0.72"/>
<path d="M294.30,336.71a1.2,1.2 0 1,0 2.4,0a1.2,1.2 0 1,0 -2.4,0M296.86,336.16a1.2,1.2 0 1,0 2.4,0a1.2,1.2 0 1,0 -2.4,0M300.27,335.79a1.2,1.2 0 1,0 2.4,0a1.2,1.2 0 1,0 -2.4,0M302.83,335.98a1.2,1.2 0 1,0 2.4,0a1.2,1.2 0 1,0 -2.4,0M306.24,336.35a1.2,1.2 0 1,0 2.4,0a1.2,1.2 0 1,0 -2.4,0M308.80,336.71a1.2,1.2 0 1,0 2.4,0a1.2,1.2 0 1,0 -2.4,0M312.21,336.99a1.2,1.2 0 1,0 2.4,0a1.2,1.2 0 1,0 -2.4,0M314.77,337.17a1.2,1.2 0 1,0 2.4,0a1.2,1.2 0 1,0 -2.4,0M318.18,337.27a1.2,1.2 0 1,0 2.4,0a1.2,1.2 0 1,0 -2.4,0M320.74,337.36a1.2,1.2 0 1,0 2.4,0a1.2,1.2 0 1,0 -2.4,0M324.16,337.27a1.2,1.2 0 1,0 2.4,0a1.2,1.2 0 1,0 -2.4,0M326.71,337.08a1.2,1.2 0 1,0 2.4,0a1.2,1.2 0 1,0 -2.4,0M330.13,336.71a1.2,1.2 0 1,0 2.4,0a1.2,1.2 0 1,0 -2.4,0M332.69,336.25a1.2,1.2 0 1,0 2.4,0a1.2,1.2 0 1,0 -2.4,0M336.10,335.61a1.2,1.2 0 1,0 2.4,0a1.2,1.2 0 1,0 -2.4,0M338.66,334.87a1.2,1.2 0 1,0 2.4,0a1.2,1.2 0 1,0 -2.4,0M342.07,334.13a1.2,1.2 0 1,0 2.4,0a1.2,1.2 0 1,0 -2.4,0M344.63,333.21a1.2,1.2 0 1,0 2.4,0a1.2,1.2 0 1,0 -2.4,0M348.04,332.11a1.2,1.2 0 1,0 2.4,0a1.2,1.2 0 1,0 -2.4,0M350.60,331.00a1.2,1.2 0 1,0 2.4,0a1.2,1.2 0 1,0 -2.4,0M354.01,329.71a1.2,1.2 0 1,0 2.4,0a1.2,1.2 0 1,0 -2.4,0M356.57,328.42a1.2,1.2 0 1,0 2.4,0a1.2,1.2 0 1,0 -2.4,0" fill="#f07a62"/>
<path d="M298.06,337.08V336.67M297.31,336.67h1.5M301.47,337.64V337.29M300.72,337.29h1.5M304.03,338.19V337.91M303.28,337.91h1.5M307.44,338.74V338.53M306.69,338.53h1.5M310.00,339.11V338.95M309.25,338.95h1.5M313.41,339.48V339.36M312.66,339.36h1.5M315.97,339.66V339.57M315.22,339.57h1.5M319.38,339.85V339.78M318.63,339.78h1.5M321.94,339.94V339.88M321.19,339.88h1.5M325.36,339.99V339.94M324.61,339.94h1.5M327.91,340.03V339.99M327.16,339.99h1.5M331.33,340.03V339.99M330.58,339.99h1.5M333.88,340.03V339.99M333.13,339.99h1.5M337.30,340.03V339.99M336.55,339.99h1.5M339.86,340.03V339.99M339.11,339.99h1.5M343.27,340.03V339.99M342.52,339.99h1.5M345.83,340.03V339.99M345.08,339.99h1.5M349.24,340.03V339.99M348.49,339.99h1.5M351.80,340.03V339.99M351.05,339.99h1.5M355.21,340.03V339.99M354.46,339.99h1.5M357.77,340.03V339.99M357.02,339.99h1.5" stroke="#2424d6" stroke-width="0.5" fill="none"/>
<polyline points="295.50,336.71 298.06,337.08 301.47,337.64 304.03,338.19 307.44,338.74 310.00,339.11 313.41,339.48 315.97,339.66 319.38,339.85 321.94,339.94 325.36,339.99 327.91,340.03 331.33,340.03 333.88,340.03 337.30,340.03 339.86,340.03 343.27,340.03 345.83,340.03 349.24,340.03 351.80,340.03 355.21,340.03 357.77,340.03" fill="none" stroke="#2424d6" stroke-width="0.72"/>
<path d="M294.30,336.71a1.2,1.2 0 1,0 2.4,0a1.2,1.2 0 1,0 -2.4,0M296.86,337.08a1.2,1.2 0 1,0 2.4,0a1.2,1.2 0 1,0 -2.4,0M300.27,337.64a1.2,1.2 0 1,0 2.4,0a1.2,1.2 0 1,0 -2.4,0M302.83,338.19a1.2,1.2 0 1,0 2.4,0a1.2,1.2 0 1,0 -2.4,0M306.24,338.74a1.2,1.2 0 1,0 2.4,0a1.2,1.2 0 1,0 -2.4,0M308.80,339.11a1.2,1.2 0 1,0 2.4,0a1.2,1.2 0 1,0 -2.4,0M312.21,339.48a1.2,1.2 0 1,0 2.4,0a1.2,1.2 0 1,0 -2.4,0M314.77,339.66a1.2,1.2 0 1,0 2.4,0a1.2,1.2 0 1,0 -2.4,0M318.18,339.85a1.2,1.2 0 1,0 2.4,0a1.2,1.2 0 1,0 -2.4,0M320.74,339.94a1.2,1.2 0 1,0 2.4,0a1.2,1.2 0 1,0 -2.4,0M324.16,339.99a1.2,1.2 0 1,0 2.4,0a1.2,1.2 0 1,0 -2.4,0M326.71,340.03a1.2,1.2 0 1,0 2.4,0a1.2,1.2 0 1,0 -2.4,0M330.13,340.03a1.2,1.2 0 1,0 2.4,0a1.2,1.2 0 1,0 -2.4,0M332.69,340.03a1.2,1.2 0 1,0 2.4,0a1.2,1.2 0 1,0 -2.4,0M336.10,340.03a1.2,1.2 0 1,0 2.4,0a1.2,1.2 0 1,0 -2.4,0M338.66,340.03a1.2,1.2 0 1,0 2.4,0a1.2,1.2 0 1,0 -2.4,0M342.07,340.03a1.2,1.2 0 1,0 2.4,0a1.2,1.2 0 1,0 -2.4,0M344.63,340.03a1.2,1.2 0 1,0 2.4,0a1.2,1.2 0 1,0 -2.4,0M348.04,340.03a1.2,1.2 0 1,0 2.4,0a1.2,1.2 0 1,0 -2.4,0M350.60,340.03a1.2,1.2 0 1,0 2.4,0a1.2,1.2 0 1,0 -2.4,0M354.01,340.03a1.2,1.2 0 1,0 2.4,0a1.2,1.2 0 1,0 -2.4,0M356.57,340.03a1.2,1.2 0 1,0 2.4,0a1.2,1.2 0 1,0 -2.4,0" fill="#2424d6"/>
<text class="d" x="328.50" y="352.80" font-size="4.10" text-anchor="middle" fill="#1a1a1a">Days post administration</text>
<text class="d" x="275.75" y="310.00" font-size="4.70" text-anchor="middle" fill="#1a1a1a" transform="rotate(-90 275.75 310.00)">Tumor volume (mm³)</text>
<text class="d" x="281.19" y="310.00" font-size="4.50" text-anchor="middle" fill="#1a1a1a" transform="rotate(-90 281.19 310.00)">(mean ± SEM)</text>
<line x1="297.60" y1="274.70" x2="300.80" y2="274.70" stroke="#151515" stroke-width="0.6"/>
<circle cx="299.20" cy="274.70" r="1.05" fill="#151515"/>
<text class="d" x="302.50" y="275.90" font-size="3.33" fill="#1a1a1a">Vehicle</text>
<line x1="297.60" y1="278.87" x2="300.80" y2="278.87" stroke="#c44af0" stroke-width="0.6"/>
<circle cx="299.20" cy="278.87" r="1.05" fill="#c44af0"/>
<text class="d" x="302.50" y="280.07" font-size="3.33" fill="#1a1a1a">Sotorasib</text>
<line x1="297.60" y1="283.04" x2="300.80" y2="283.04" stroke="#f0602e" stroke-width="0.6"/>
<circle cx="299.20" cy="283.04" r="1.05" fill="#f0602e"/>
<text class="d" x="302.50" y="284.24" font-size="3.33" fill="#1a1a1a">Isotype IgG-GGFG-DXd</text>
<line x1="297.60" y1="287.21" x2="300.80" y2="287.21" stroke="#3b3be6" stroke-width="0.6"/>
<circle cx="299.20" cy="287.21" r="1.05" fill="#3b3be6"/>
<text class="d" x="302.50" y="288.41" font-size="3.33" fill="#1a1a1a">Isotype IgG-T800-exatecan</text>
<line x1="342.80" y1="291.50" x2="346.00" y2="291.50" stroke="#e8262c" stroke-width="0.6"/>
<circle cx="344.40" cy="291.50" r="1.05" fill="#e8262c"/>
<text class="d" x="347.70" y="292.68" font-size="3.28" fill="#1a1a1a">P-GGFG-DXd</text>
<line x1="342.80" y1="295.67" x2="346.00" y2="295.67" stroke="#2424d6" stroke-width="0.6"/>
<circle cx="344.40" cy="295.67" r="1.05" fill="#2424d6"/>
<text class="d" x="347.70" y="296.85" font-size="3.28" fill="#1a1a1a">AMT-562</text>
<line x1="342.80" y1="299.84" x2="346.00" y2="299.84" stroke="#f07a62" stroke-width="0.6"/>
<circle cx="344.40" cy="299.84" r="1.05" fill="#f07a62"/>
<text class="d" x="347.70" y="301.02" font-size="3.28" fill="#1a1a1a">P-GGFG-DXd + sotorasib</text>
<line x1="342.80" y1="304.01" x2="346.00" y2="304.01" stroke="#3b3be6" stroke-width="0.6"/>
<circle cx="344.40" cy="304.01" r="1.05" fill="#3b3be6"/>
<text class="d" x="347.70" y="305.19" font-size="3.28" fill="#1a1a1a">AMT-562 + sotorasib</text>
<path d="M295.50,354.50 L294.20,357.50 L296.80,357.50 Z" stroke="none" stroke-width="0.5" fill="#a8304a"/>
<line x1="295.50" y1="357.30" x2="295.50" y2="359.10" stroke="#a8304a" stroke-width="1.0"/>
<path d="M295.00,358.90 L294.20,361.90 M296.00,358.90 L296.80,361.90" stroke="#e87a90" stroke-width="0.8" fill="none"/>
<path d="M301.47,354.50 L300.17,357.50 L302.77,357.50 Z" stroke="none" stroke-width="0.5" fill="#a8304a"/>
<line x1="301.47" y1="357.30" x2="301.47" y2="359.10" stroke="#a8304a" stroke-width="1.0"/>
<path d="M300.97,358.90 L300.17,361.90 M301.97,358.90 L302.77,361.90" stroke="#e87a90" stroke-width="0.8" fill="none"/>
<polyline points="350.00,316.40 360.30,316.40 360.30,326.20 358.00,326.20" fill="none" stroke="#999" stroke-width="0.45"/>
<polyline points="359.00,326.20 371.20,326.20 371.20,339.30 359.00,339.30" fill="none" stroke="#999" stroke-width="0.45"/>
<text class="d" x="366.01" y="321.30" font-size="3.00" text-anchor="middle" fill="#1a1a1a" transform="rotate(90 366.01 321.30)">P &lt; 0.001</text>
<text class="d" x="375.41" y="332.70" font-size="3.00" text-anchor="middle" fill="#1a1a1a" transform="rotate(90 375.41 332.70)">P &lt; 0.0001</text>
</svg></body></html>
